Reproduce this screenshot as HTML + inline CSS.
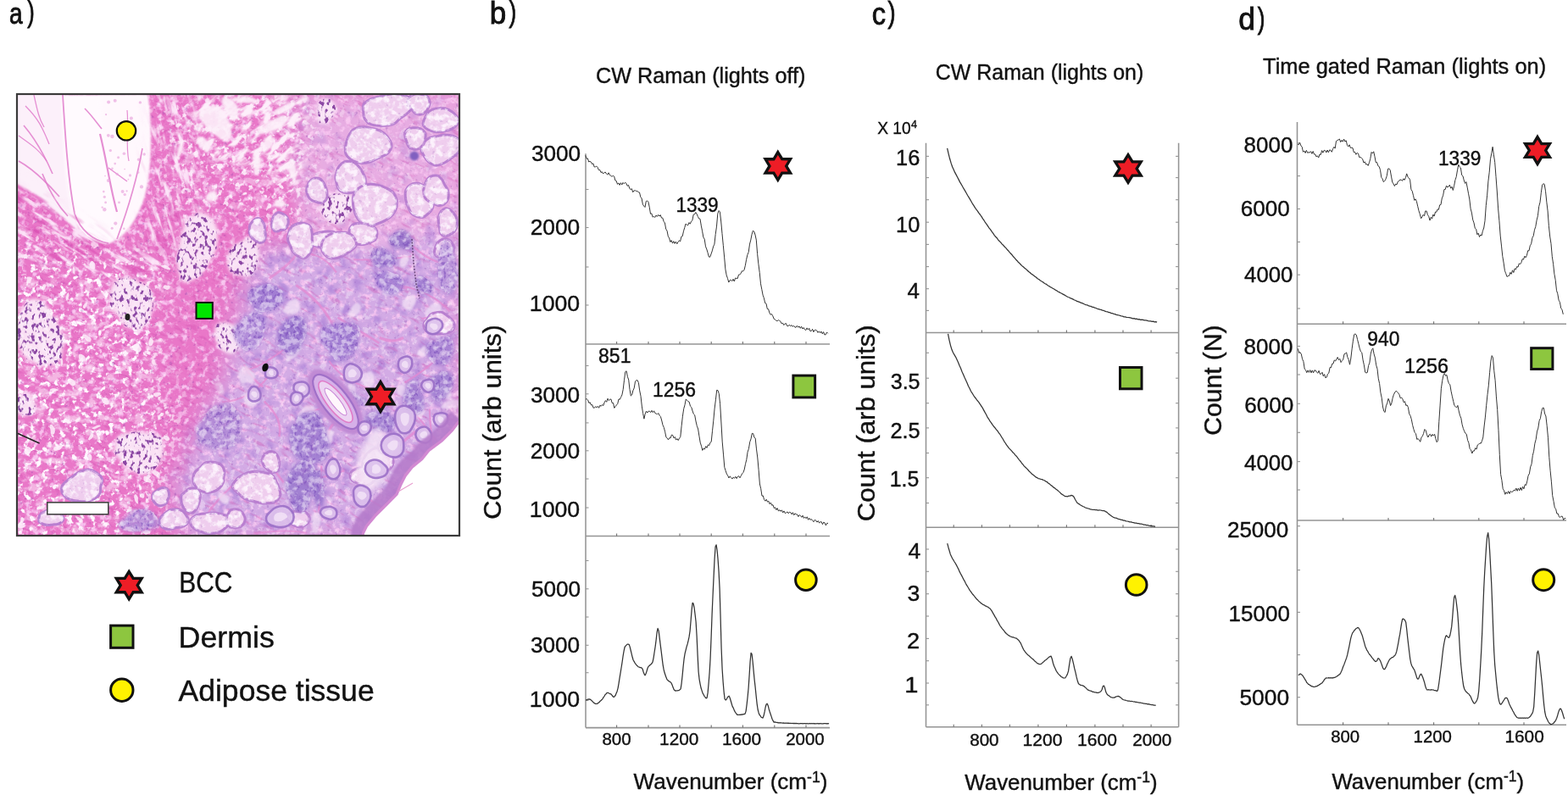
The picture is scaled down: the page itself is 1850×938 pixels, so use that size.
<!DOCTYPE html>
<html><head><meta charset="utf-8"><title>Raman figure</title>
<style>html,body{margin:0;padding:0;background:#fff;}svg{display:block;}text{stroke:#111;stroke-width:0.4px;}</style>
</head><body>
<svg width="1850" height="938" viewBox="0 0 1850 938" font-family="'Liberation Sans', Arial, sans-serif" fill="#111">
<rect width="1850" height="938" fill="#fff"/>
<defs>
<clipPath id="hc"><rect x="20.0" y="111.0" width="522.0" height="521.0"/></clipPath>
<filter id="b0_6" x="-40%" y="-40%" width="180%" height="180%"><feGaussianBlur stdDeviation="0.6"/></filter>
<filter id="b1" x="-40%" y="-40%" width="180%" height="180%"><feGaussianBlur stdDeviation="1"/></filter>
<filter id="b1_5" x="-40%" y="-40%" width="180%" height="180%"><feGaussianBlur stdDeviation="1.5"/></filter>
<filter id="b2" x="-40%" y="-40%" width="180%" height="180%"><feGaussianBlur stdDeviation="2"/></filter>
<filter id="b3" x="-40%" y="-40%" width="180%" height="180%"><feGaussianBlur stdDeviation="3"/></filter>
<filter id="b5" x="-40%" y="-40%" width="180%" height="180%"><feGaussianBlur stdDeviation="5"/></filter>
<filter id="b8" x="-40%" y="-40%" width="180%" height="180%"><feGaussianBlur stdDeviation="8"/></filter>
<filter id="b14" x="-40%" y="-40%" width="180%" height="180%"><feGaussianBlur stdDeviation="14"/></filter>
<filter id="tLight" x="0" y="0" width="100%" height="100%" color-interpolation-filters="sRGB"><feTurbulence type="fractalNoise" baseFrequency="0.13" numOctaves="3" seed="5"/><feColorMatrix type="matrix" values="0 0 0 0 0.980  0 0 0 0 0.784  0 0 0 0 0.949  4.5 0 0 0 -2.35"/><feGaussianBlur stdDeviation="0.5"/></filter>
<filter id="tWhite" x="0" y="0" width="100%" height="100%" color-interpolation-filters="sRGB"><feTurbulence type="fractalNoise" baseFrequency="0.14" numOctaves="3" seed="9"/><feColorMatrix type="matrix" values="0 0 0 0 1.000  0 0 0 0 0.973  0 0 0 0 1.000  7 0 0 0 -3.9"/><feGaussianBlur stdDeviation="0.5"/></filter>
<filter id="tDark" x="0" y="0" width="100%" height="100%" color-interpolation-filters="sRGB"><feTurbulence type="fractalNoise" baseFrequency="0.06 0.22" numOctaves="2" seed="13"/><feColorMatrix type="matrix" values="0 0 0 0 0.784  0 0 0 0 0.235  0 0 0 0 0.647  0 6 0 0 -3.55"/><feGaussianBlur stdDeviation="0.6"/></filter>
<filter id="tNuc" x="0" y="0" width="100%" height="100%" color-interpolation-filters="sRGB"><feTurbulence type="fractalNoise" baseFrequency="0.22" numOctaves="2" seed="21"/><feColorMatrix type="matrix" values="0 0 0 0 0.471  0 0 0 0 0.216  0 0 0 0 0.647  0 0 9 0 -6.1"/><feGaussianBlur stdDeviation="0.5"/></filter>
<filter id="tNucD" x="0" y="0" width="100%" height="100%" color-interpolation-filters="sRGB"><feTurbulence type="fractalNoise" baseFrequency="0.24 0.16" numOctaves="2" seed="31"/><feColorMatrix type="matrix" values="0 0 0 0 0.471  0 0 0 0 0.176  0 0 0 0 0.588  0 0 7 0 -3.75"/><feGaussianBlur stdDeviation="0.45"/></filter>
<filter id="tStreak" x="0" y="0" width="100%" height="100%" color-interpolation-filters="sRGB"><feTurbulence type="fractalNoise" baseFrequency="0.035 0.16" numOctaves="3" seed="57"/><feColorMatrix type="matrix" values="0 0 0 0 0.988  0 0 0 0 0.894  0 0 0 0 0.973  5.5 0 0 0 -2.9"/><feGaussianBlur stdDeviation="0.6"/></filter>
<filter id="tStreakD" x="0" y="0" width="100%" height="100%" color-interpolation-filters="sRGB"><feTurbulence type="fractalNoise" baseFrequency="0.03 0.14" numOctaves="2" seed="61"/><feColorMatrix type="matrix" values="0 0 0 0 0.843  0 0 0 0 0.275  0 0 0 0 0.686  0 5 0 0 -2.9"/><feGaussianBlur stdDeviation="0.6"/></filter>
<filter id="tWhite2" x="0" y="0" width="100%" height="100%" color-interpolation-filters="sRGB"><feTurbulence type="fractalNoise" baseFrequency="0.14" numOctaves="3" seed="71"/><feColorMatrix type="matrix" values="0 0 0 0 1.000  0 0 0 0 0.980  0 0 0 0 1.000  4 0 0 0 -1.75"/><feGaussianBlur stdDeviation="0.7"/></filter>
<filter id="tWS" x="0" y="0" width="100%" height="100%" color-interpolation-filters="sRGB"><feTurbulence type="fractalNoise" baseFrequency="0.05 0.13" numOctaves="3" seed="77"/><feColorMatrix type="matrix" values="0 0 0 0 0.992  0 0 0 0 0.933  0 0 0 0 0.980  5 0 0 0 -2.3"/><feGaussianBlur stdDeviation="0.6"/></filter>
<filter id="tNucN" x="0" y="0" width="100%" height="100%" color-interpolation-filters="sRGB"><feTurbulence type="fractalNoise" baseFrequency="0.3 0.22" numOctaves="2" seed="37"/><feColorMatrix type="matrix" values="0 0 0 0 0.471  0 0 0 0 0.294  0 0 0 0 0.725  0 0 6 0 -3.3"/><feGaussianBlur stdDeviation="0.45"/></filter>
<filter id="tWavy" x="0" y="0" width="100%" height="100%" color-interpolation-filters="sRGB"><feTurbulence type="fractalNoise" baseFrequency="0.07 0.1" numOctaves="4" seed="83"/><feColorMatrix type="matrix" values="0 0 0 0 0.988  0 0 0 0 0.910  0 0 0 0 0.973  5.5 0 0 0 -2.9"/><feGaussianBlur stdDeviation="0.5"/></filter>
<filter id="tLav" x="0" y="0" width="100%" height="100%" color-interpolation-filters="sRGB"><feTurbulence type="fractalNoise" baseFrequency="0.07" numOctaves="3" seed="41"/><feColorMatrix type="matrix" values="0 0 0 0 0.608  0 0 0 0 0.431  0 0 0 0 0.816  4 0 0 0 -2.1"/><feGaussianBlur stdDeviation="1.0"/></filter>
<mask id="mLav" maskUnits="userSpaceOnUse" x="0" y="0" width="600" height="700"><path d="M300,292 L370,282 L440,268 L545,248 L545,640 L215,640 L205,575 L235,500 L262,455 L275,390 Z" fill="#fff" filter="url(#b14)"/><path d="M340,110 L545,110 L545,260 L450,280 L360,290 Z" fill="#777" filter="url(#b14)"/></mask>
<mask id="mWS" maskUnits="userSpaceOnUse" x="0" y="0" width="600" height="700"><rect x="0" y="0" width="600" height="700" fill="#555"/><path d="M15,280 L200,300 L210,460 L170,640 L15,640 Z" fill="#fff" filter="url(#b14)"/><path d="M15,330 L70,330 L70,640 L15,640 Z" fill="#fff" filter="url(#b8)"/><path d="M190,110 L370,110 L360,260 L200,250 Z" fill="#ddd" filter="url(#b14)"/><path d="M190,330 L290,330 L290,460 L190,460 Z" fill="#222" filter="url(#b14)"/></mask>
</defs>
<filter id="soft" x="0" y="0" width="100%" height="100%"><feGaussianBlur stdDeviation="0.7"/></filter>
<g clip-path="url(#hc)"><g filter="url(#soft)">
<rect x="20.0" y="111.0" width="522.0" height="521.0" fill="#e977c8"/>
<g mask="url(#mLav)"><rect x="20.0" y="111.0" width="522.0" height="521.0" fill="#d3abe5"/></g>
<path d="M365,111 L545,111 L545,265 L470,292 L385,300 L350,265 L355,180 Z" fill="#f0c4ec" filter="url(#b8)" opacity="0.55"/>
<rect x="20.0" y="111.0" width="522.0" height="521.0" filter="url(#tLight)" opacity="0.9"/>
<g transform="rotate(28 280 370)"><rect x="-60" y="-40" width="700" height="800" filter="url(#tDark)" opacity="0.3"/></g>
<g mask="url(#mWS)"><rect x="20.0" y="111.0" width="522.0" height="521.0" filter="url(#tWhite)"/></g>
<g mask="url(#mLav)"><rect x="20.0" y="111.0" width="522.0" height="521.0" filter="url(#tLav)" opacity="0.5"/></g>
<rect x="20.0" y="111.0" width="522.0" height="521.0" filter="url(#tNuc)" opacity="0.22"/>
<path d="M18,108 L76,108 C76,160 78,205 84,240 C88,258 92,268 96,276 C80,262 62,246 46,232 C36,226 26,220 18,216 Z" fill="#fcf0fa" filter="url(#b1)"/>
<path d="M72,112 L174,112 C179,150 179,200 170,232 C162,258 148,278 130,287 C110,290 92,276 84,250 C77,220 74,170 72,112 Z" fill="#fffafe" filter="url(#b1)"/>
<path d="M118,112 L174,112 C179,150 179,200 170,232 C162,258 148,278 136,285 C135,250 132,200 122,160 Z" fill="#fff8fd" opacity="0.85" filter="url(#b2)"/>
<path d="M118,158 C126,190 130,222 138,250" fill="none" stroke="#e07ccb" stroke-width="2.2" opacity="0.85"/>
<path d="M74,112 C77,160 80,210 88,252 C95,272 110,284 128,287" fill="none" stroke="#e07ccb" stroke-width="1.8" opacity="0.85"/>
<path d="M28,148 C40,162 52,182 62,205" fill="none" stroke="#e07ccb" stroke-width="1.6" opacity="0.85"/>
<path d="M22,190 C40,200 55,215 70,232" fill="none" stroke="#e07ccb" stroke-width="1.8" opacity="0.85"/>
<path d="M30,125 C45,140 50,150 58,170" fill="none" stroke="#e07ccb" stroke-width="1.3" opacity="0.85"/>
<path d="M50,205 C58,225 66,240 80,255" fill="none" stroke="#e07ccb" stroke-width="1.6" opacity="0.85"/>
<path d="M100,128 C108,136 112,142 120,152" fill="none" stroke="#e07ccb" stroke-width="1.6" opacity="0.85"/>
<path d="M168,175 C162,210 152,244 138,282" fill="none" stroke="#e07ccb" stroke-width="1.6" opacity="0.85"/>
<path d="M128,198 L150,214" fill="none" stroke="#e07ccb" stroke-width="1.4" opacity="0.85"/>
<path d="M40,112 C44,130 46,140 52,150" fill="none" stroke="#e07ccb" stroke-width="1.3" opacity="0.85"/>
<path d="M150,130 C152,150 148,170 152,190" fill="none" stroke="#e07ccb" stroke-width="1.2" opacity="0.85"/>
<path d="M22,160 C35,170 45,175 55,190" fill="none" stroke="#e07ccb" stroke-width="1.2" opacity="0.85"/>
<circle cx="132.4" cy="198.9" r="1.3" fill="#e9a8de" opacity="0.7"/>
<circle cx="151.4" cy="211.6" r="0.9" fill="#e9a8de" opacity="0.7"/>
<circle cx="120.7" cy="244.6" r="1.2" fill="#e9a8de" opacity="0.7"/>
<circle cx="132.2" cy="269.3" r="1.5" fill="#e9a8de" opacity="0.7"/>
<circle cx="163.5" cy="188.3" r="1.7" fill="#e9a8de" opacity="0.7"/>
<circle cx="127.8" cy="213.0" r="2.0" fill="#e9a8de" opacity="0.7"/>
<circle cx="147.2" cy="229.6" r="1.7" fill="#e9a8de" opacity="0.7"/>
<circle cx="123.3" cy="232.3" r="1.6" fill="#e9a8de" opacity="0.7"/>
<circle cx="135.7" cy="118.8" r="2.0" fill="#e9a8de" opacity="0.7"/>
<circle cx="144.6" cy="226.1" r="2.0" fill="#e9a8de" opacity="0.7"/>
<circle cx="140.5" cy="238.9" r="1.4" fill="#e9a8de" opacity="0.7"/>
<circle cx="125.1" cy="135.2" r="1.1" fill="#e9a8de" opacity="0.7"/>
<circle cx="170.2" cy="182.0" r="1.7" fill="#e9a8de" opacity="0.7"/>
<circle cx="135.7" cy="193.1" r="1.3" fill="#e9a8de" opacity="0.7"/>
<circle cx="138.2" cy="205.3" r="1.6" fill="#e9a8de" opacity="0.7"/>
<circle cx="167.0" cy="220.4" r="2.1" fill="#e9a8de" opacity="0.7"/>
<circle cx="154.9" cy="139.4" r="2.0" fill="#e9a8de" opacity="0.7"/>
<circle cx="149.6" cy="225.4" r="1.1" fill="#e9a8de" opacity="0.7"/>
<circle cx="163.2" cy="203.5" r="1.2" fill="#e9a8de" opacity="0.7"/>
<circle cx="123.3" cy="247.2" r="2.2" fill="#e9a8de" opacity="0.7"/>
<circle cx="124.6" cy="238.9" r="1.4" fill="#e9a8de" opacity="0.7"/>
<circle cx="127.8" cy="159.8" r="1.9" fill="#e9a8de" opacity="0.7"/>
<circle cx="165.4" cy="120.9" r="1.7" fill="#e9a8de" opacity="0.7"/>
<circle cx="122.3" cy="226.1" r="1.3" fill="#e9a8de" opacity="0.7"/>
<circle cx="146.3" cy="269.8" r="1.2" fill="#e9a8de" opacity="0.7"/>
<circle cx="124.0" cy="207.6" r="0.8" fill="#e9a8de" opacity="0.7"/>
<circle cx="130.3" cy="177.6" r="1.7" fill="#e9a8de" opacity="0.7"/>
<circle cx="128.1" cy="120.6" r="2.0" fill="#e9a8de" opacity="0.7"/>
<circle cx="136.3" cy="263.6" r="2.1" fill="#e9a8de" opacity="0.7"/>
<circle cx="139.6" cy="185.8" r="1.5" fill="#e9a8de" opacity="0.7"/>
<circle cx="153.5" cy="206.9" r="1.6" fill="#e9a8de" opacity="0.7"/>
<circle cx="146.4" cy="181.3" r="1.8" fill="#e9a8de" opacity="0.7"/>
<circle cx="132.4" cy="161.0" r="2.2" fill="#e9a8de" opacity="0.7"/>
<circle cx="147.1" cy="199.6" r="0.8" fill="#e9a8de" opacity="0.7"/>
<mask id="mF1" maskUnits="userSpaceOnUse" x="0" y="0" width="600" height="700"><path d="M15,215 L80,250 L140,292 L200,300 L205,330 L120,330 L15,300 Z" fill="#fff" filter="url(#b8)"/></mask>
<g mask="url(#mF1)"><g transform="rotate(32 100 270)"><rect x="-20" y="150" width="260" height="240" filter="url(#tStreak)"/><rect x="-20" y="150" width="260" height="240" filter="url(#tStreakD)" opacity="0.6"/></g></g>
<mask id="mF2" maskUnits="userSpaceOnUse" x="0" y="0" width="600" height="700"><path d="M176,112 L230,112 L235,250 L205,300 L160,300 L175,240 Z" fill="#fff" filter="url(#b8)"/></mask>
<g mask="url(#mF2)"><g transform="rotate(75 200 200)"><rect x="80" y="80" width="260" height="240" filter="url(#tStreak)"/><rect x="80" y="80" width="260" height="240" filter="url(#tStreakD)" opacity="0.6"/></g></g>
<mask id="mF3" maskUnits="userSpaceOnUse" x="0" y="0" width="600" height="700"><path d="M15,320 L190,320 L200,470 L150,640 L15,640 Z" fill="#bbb" filter="url(#b14)"/><path d="M190,110 L370,110 L350,250 L200,260 Z" fill="#999" filter="url(#b14)"/></mask>
<g mask="url(#mF3)"><rect x="0" y="100" width="560" height="560" filter="url(#tWavy)" opacity="0.75"/></g>
<mask id="mTM" maskUnits="userSpaceOnUse" x="0" y="0" width="600" height="700"><path d="M226,112 L365,112 L362,170 L352,222 L318,214 L290,196 L250,190 L232,160 Z" fill="#fff" filter="url(#b5)"/></mask>
<g mask="url(#mTM)"><g transform="rotate(-35 295 165)"><rect x="180" y="40" width="240" height="260" filter="url(#tWS)"/></g></g>
<path d="M266.6,136.9 C269.7,141.4 271.8,148.0 272.7,152.4 C273.6,156.7 273.0,160.4 271.9,162.8 C270.8,165.2 268.6,167.1 265.9,166.8 C263.2,166.5 259.2,163.2 255.7,160.8 C252.2,158.3 248.4,156.1 244.9,152.1 C241.4,148.0 235.4,140.3 234.7,136.5 C233.9,132.8 238.4,131.2 240.3,129.5 C242.1,127.8 243.4,127.0 245.7,126.3 C248.0,125.6 250.6,123.3 254.1,125.1 C257.6,126.9 263.5,132.4 266.6,136.9Z" fill="#fdf0fa" opacity="0.9" filter="url(#b1)"/>
<path d="M279.1,123.0 C280.4,125.2 280.2,128.3 280.5,130.6 C280.8,132.8 281.1,134.7 280.8,136.6 C280.4,138.6 280.0,141.7 278.4,142.2 C276.9,142.7 273.3,141.5 271.3,139.7 C269.4,138.0 268.1,134.1 266.7,131.7 C265.4,129.3 264.0,127.6 263.2,125.3 C262.4,123.1 261.6,120.1 262.0,118.2 C262.4,116.3 263.8,113.9 265.5,113.8 C267.3,113.8 270.3,116.3 272.6,117.8 C274.8,119.3 277.8,120.9 279.1,123.0Z" fill="#fdf0fa" opacity="0.9" filter="url(#b1)"/>
<path d="M338.9,138.2 C339.6,139.5 339.4,141.8 338.0,144.0 C336.5,146.1 333.3,149.2 330.4,151.1 C327.6,153.0 323.7,154.3 320.7,155.3 C317.8,156.4 315.5,157.0 312.8,157.4 C310.1,157.9 305.9,158.9 304.6,158.1 C303.2,157.2 303.0,154.5 304.7,152.4 C306.4,150.3 311.8,147.3 314.9,145.4 C318.0,143.4 320.2,142.2 323.3,140.6 C326.4,139.1 331.0,136.5 333.6,136.1 C336.2,135.7 338.2,136.9 338.9,138.2Z" fill="#fdf0fa" opacity="0.9" filter="url(#b1)"/>
<path d="M308.2,192.5 C308.0,195.0 307.1,198.2 306.3,200.5 C305.5,202.8 304.4,205.6 303.4,206.4 C302.4,207.2 300.9,206.9 300.2,205.4 C299.6,204.0 299.9,199.9 299.6,197.6 C299.3,195.3 298.5,194.4 298.3,191.6 C298.2,188.8 298.0,183.4 298.7,180.9 C299.4,178.5 301.5,176.8 302.6,176.9 C303.6,177.0 304.4,180.2 305.1,181.6 C305.9,183.0 306.6,183.3 307.1,185.2 C307.7,187.0 308.3,189.9 308.2,192.5Z" fill="#fdf0fa" opacity="0.9" filter="url(#b1)"/>
<path d="M349.2,200.0 C349.5,202.3 350.2,206.2 349.8,208.4 C349.4,210.6 347.8,213.0 346.8,213.3 C345.8,213.6 344.5,211.4 343.6,210.2 C342.8,208.9 342.3,207.5 341.7,205.8 C341.1,204.1 340.3,202.3 340.1,200.0 C339.9,197.7 340.0,194.2 340.6,192.3 C341.1,190.3 342.4,188.9 343.4,188.1 C344.4,187.4 345.9,186.8 346.6,187.8 C347.4,188.9 347.7,192.5 348.2,194.5 C348.6,196.5 349.0,197.7 349.2,200.0Z" fill="#fdf0fa" opacity="0.9" filter="url(#b1)"/>
<path d="M214.9,179.1 C214.2,181.1 212.9,183.2 211.9,185.2 C210.8,187.1 209.3,190.1 208.5,190.8 C207.6,191.5 206.8,190.8 206.8,189.4 C206.7,188.0 207.8,184.6 208.3,182.5 C208.8,180.5 209.1,179.4 209.8,177.2 C210.4,175.0 211.2,171.1 212.2,169.1 C213.1,167.2 214.7,165.7 215.4,165.6 C216.1,165.4 216.4,166.9 216.5,168.2 C216.6,169.4 216.4,171.1 216.1,172.9 C215.8,174.8 215.6,177.0 214.9,179.1Z" fill="#fdf0fa" opacity="0.9" filter="url(#b1)"/>
<path d="M256.9,232.0 C257.0,233.0 257.6,234.3 256.9,235.1 C256.2,235.9 254.1,236.5 252.5,236.9 C250.9,237.2 248.9,237.5 247.3,237.2 C245.7,236.9 243.6,236.1 242.9,235.2 C242.2,234.4 242.9,233.0 243.1,232.0 C243.3,231.0 243.5,230.2 244.2,229.4 C244.9,228.5 245.9,227.4 247.3,226.9 C248.8,226.4 251.6,225.8 253.0,226.2 C254.5,226.6 255.5,228.2 256.2,229.2 C256.8,230.2 256.8,231.0 256.9,232.0Z" fill="#fdf0fa" opacity="0.9" filter="url(#b1)"/>
<path d="M348.2,122.3 C348.4,123.4 347.0,125.2 345.8,126.6 C344.6,128.0 342.9,129.5 341.1,130.6 C339.2,131.6 337.0,132.2 334.9,132.9 C332.7,133.6 330.3,134.7 328.3,134.9 C326.2,135.1 323.1,135.2 322.5,134.3 C322.0,133.4 323.6,131.0 325.2,129.6 C326.7,128.1 329.7,126.9 331.7,125.8 C333.7,124.7 335.0,123.7 337.2,122.7 C339.4,121.7 343.2,119.9 345.1,119.9 C346.9,119.8 348.1,121.2 348.2,122.3Z" fill="#fdf0fa" opacity="0.9" filter="url(#b1)"/>
<path d="M302.0,118.0 C302.3,118.8 302.8,120.1 301.2,120.7 C299.6,121.4 294.9,121.7 292.2,121.7 C289.5,121.7 287.4,120.9 285.0,120.6 C282.6,120.4 280.0,120.6 277.8,120.1 C275.6,119.7 272.2,118.8 271.8,118.0 C271.4,117.2 273.3,115.9 275.3,115.4 C277.4,114.8 281.5,114.8 284.2,114.7 C287.0,114.5 289.4,114.4 291.9,114.6 C294.4,114.7 297.5,115.1 299.2,115.7 C300.9,116.2 301.7,117.2 302.0,118.0Z" fill="#fdf0fa" opacity="0.9" filter="url(#b1)"/>
<path d="M320.8,172.8 C319.5,174.8 317.5,176.2 316.0,177.5 C314.5,178.7 312.9,180.1 311.8,180.3 C310.6,180.6 309.5,180.0 309.1,179.0 C308.6,177.9 308.7,176.0 309.0,174.0 C309.4,172.1 309.8,169.3 311.0,167.1 C312.1,164.9 314.6,161.9 316.0,161.0 C317.4,160.0 318.5,161.3 319.5,161.5 C320.5,161.7 321.4,161.4 322.1,162.1 C322.8,162.7 324.0,163.7 323.8,165.5 C323.6,167.3 322.1,170.8 320.8,172.8Z" fill="#fdf0fa" opacity="0.9" filter="url(#b1)"/>
<path d="M245.0,167.1 C246.0,168.8 246.9,170.9 247.3,172.7 C247.6,174.5 247.6,176.8 246.9,178.0 C246.3,179.1 244.7,180.2 243.4,179.8 C242.1,179.4 240.4,176.7 239.1,175.5 C237.8,174.3 236.8,174.0 235.5,172.6 C234.3,171.1 232.0,168.6 231.6,166.9 C231.2,165.1 232.3,163.1 233.2,162.2 C234.1,161.3 235.8,161.5 237.1,161.6 C238.4,161.7 239.9,161.8 241.2,162.7 C242.5,163.7 244.0,165.4 245.0,167.1Z" fill="#fdf0fa" opacity="0.9" filter="url(#b1)"/>
<path d="M337.7,240.0 C337.9,240.7 337.3,241.7 336.5,242.4 C335.6,243.0 334.2,243.8 332.7,244.1 C331.1,244.4 328.7,244.4 327.3,244.1 C325.9,243.8 324.7,242.8 324.2,242.1 C323.6,241.4 324.0,240.7 323.9,240.0 C323.8,239.3 323.1,238.5 323.6,237.7 C324.1,236.9 325.4,235.4 326.9,235.2 C328.3,234.9 331.0,235.8 332.4,236.2 C333.9,236.7 334.5,237.4 335.3,238.1 C336.2,238.7 337.5,239.3 337.7,240.0Z" fill="#fdf0fa" opacity="0.9" filter="url(#b1)"/>
<path d="M79.1,354.8 C78.7,355.0 77.9,353.9 77.8,352.8 C77.7,351.8 78.0,349.8 78.3,348.7 C78.6,347.6 79.0,346.9 79.4,346.3 C79.9,345.8 80.6,344.9 80.9,345.4 C81.3,345.8 81.6,347.8 81.5,348.9 C81.4,349.9 80.7,350.6 80.2,351.6 C79.8,352.6 79.5,354.6 79.1,354.8Z" fill="#fdeefa" opacity="0.85"/>
<path d="M88.0,323.6 C87.7,323.8 86.8,322.9 86.3,322.0 C85.9,321.2 85.4,319.5 85.4,318.6 C85.3,317.6 85.6,317.0 85.9,316.3 C86.2,315.6 86.6,314.3 87.0,314.5 C87.4,314.8 88.2,316.8 88.5,317.9 C88.7,319.0 88.6,320.0 88.5,320.9 C88.4,321.9 88.4,323.5 88.0,323.6Z" fill="#fdeefa" opacity="0.85"/>
<path d="M36.7,330.9 C36.3,331.9 36.5,333.4 35.7,333.9 C34.8,334.3 32.6,334.2 31.9,333.5 C31.2,332.9 31.5,331.1 31.5,330.1 C31.4,329.0 31.2,327.7 31.8,327.1 C32.4,326.5 33.9,326.4 35.0,326.5 C36.0,326.7 37.8,327.3 38.1,328.0 C38.4,328.7 37.1,329.9 36.7,330.9Z" fill="#fdeefa" opacity="0.85"/>
<path d="M63.5,512.2 C62.7,512.7 61.1,513.3 60.4,512.4 C59.7,511.5 59.7,508.5 59.4,506.8 C59.1,505.1 58.3,503.1 58.6,502.1 C58.9,501.1 60.3,500.4 61.2,500.9 C62.1,501.3 63.4,503.4 64.1,504.9 C64.7,506.4 65.0,508.4 64.9,509.6 C64.8,510.8 64.2,511.8 63.5,512.2Z" fill="#fdeefa" opacity="0.85"/>
<path d="M201.2,318.0 C200.9,318.4 198.9,318.1 197.7,317.9 C196.5,317.7 195.3,317.3 194.0,316.6 C192.6,315.9 189.7,314.3 189.5,313.7 C189.3,313.1 191.6,313.2 192.7,313.0 C193.7,312.9 194.5,312.4 195.6,312.8 C196.7,313.2 198.4,314.4 199.3,315.3 C200.3,316.2 201.4,317.6 201.2,318.0Z" fill="#fdeefa" opacity="0.85"/>
<path d="M41.7,406.7 C41.2,406.3 40.7,405.6 40.7,404.5 C40.7,403.5 41.1,401.8 41.6,400.3 C42.0,398.9 42.9,396.2 43.5,395.7 C44.0,395.3 44.7,396.6 44.9,397.6 C45.1,398.5 44.7,399.9 44.5,401.3 C44.3,402.8 44.3,405.6 43.8,406.4 C43.3,407.3 42.2,407.0 41.7,406.7Z" fill="#fdeefa" opacity="0.85"/>
<path d="M140.6,423.8 C140.7,424.2 139.4,424.8 138.3,424.9 C137.3,425.0 135.3,424.8 134.4,424.4 C133.5,424.1 133.3,423.4 132.9,422.9 C132.4,422.4 131.4,421.6 131.7,421.3 C132.1,421.0 134.0,420.8 135.0,420.9 C136.1,421.1 136.9,421.8 137.9,422.3 C138.8,422.8 140.5,423.4 140.6,423.8Z" fill="#fdeefa" opacity="0.85"/>
<path d="M57.8,527.5 C57.3,527.2 56.9,526.7 56.7,526.0 C56.5,525.2 56.2,523.9 56.5,523.0 C56.9,522.1 57.9,521.0 58.6,520.8 C59.2,520.6 60.1,521.1 60.5,521.7 C60.8,522.3 60.8,523.3 60.7,524.4 C60.7,525.4 60.5,527.3 60.0,527.8 C59.5,528.4 58.4,527.8 57.8,527.5Z" fill="#fdeefa" opacity="0.85"/>
<path d="M106.8,402.9 C106.1,403.5 104.3,403.5 103.2,403.0 C102.1,402.5 101.3,401.2 100.3,400.1 C99.3,398.9 97.3,397.1 97.3,396.2 C97.3,395.2 99.1,394.4 100.2,394.5 C101.3,394.5 102.6,395.6 103.8,396.5 C105.0,397.3 107.0,398.3 107.5,399.4 C108.0,400.5 107.5,402.3 106.8,402.9Z" fill="#fdeefa" opacity="0.85"/>
<path d="M127.4,477.3 C126.6,477.7 125.4,477.7 124.3,477.2 C123.3,476.7 121.8,475.6 121.0,474.3 C120.1,473.1 119.0,470.5 119.3,469.8 C119.6,469.0 121.6,469.7 122.8,469.7 C124.0,469.8 125.3,469.1 126.3,469.9 C127.3,470.7 128.6,473.3 128.7,474.5 C128.9,475.7 128.1,476.8 127.4,477.3Z" fill="#fdeefa" opacity="0.85"/>
<path d="M199.7,340.6 C199.2,341.4 198.0,341.8 197.2,341.9 C196.3,342.0 195.4,341.6 194.6,341.1 C193.8,340.6 192.5,339.5 192.4,338.7 C192.4,337.9 193.5,336.6 194.3,336.2 C195.1,335.9 196.0,336.6 197.0,336.8 C198.0,337.0 200.0,336.7 200.5,337.4 C200.9,338.0 200.3,339.9 199.7,340.6Z" fill="#fdeefa" opacity="0.85"/>
<path d="M108.1,316.9 C107.1,316.5 106.2,316.1 105.8,315.1 C105.4,314.1 105.3,312.2 105.8,311.0 C106.2,309.8 107.6,308.0 108.5,307.8 C109.4,307.6 110.4,309.0 111.0,309.8 C111.7,310.6 112.3,311.4 112.4,312.7 C112.5,314.0 112.3,316.8 111.6,317.5 C110.9,318.2 109.1,317.3 108.1,316.9Z" fill="#fdeefa" opacity="0.85"/>
<path d="M176.6,408.2 C175.9,408.0 175.2,406.7 175.1,405.6 C175.0,404.6 175.4,403.4 175.8,402.1 C176.2,400.9 176.9,398.4 177.6,398.1 C178.3,397.7 179.4,399.2 179.9,400.1 C180.5,400.9 181.0,402.0 181.0,403.2 C180.9,404.4 180.2,406.4 179.5,407.3 C178.8,408.1 177.4,408.5 176.6,408.2Z" fill="#fdeefa" opacity="0.85"/>
<path d="M99.6,583.5 C99.1,583.3 99.3,580.6 99.7,579.2 C100.1,577.8 101.0,576.3 101.8,575.2 C102.7,574.0 103.8,572.6 104.7,572.2 C105.6,571.8 107.0,571.9 107.2,572.7 C107.5,573.6 106.6,576.1 106.0,577.4 C105.3,578.6 104.3,579.2 103.2,580.2 C102.2,581.2 100.2,583.6 99.6,583.5Z" fill="#fdeefa" opacity="0.85"/>
<path d="M28.6,534.1 C28.3,533.2 29.5,531.9 29.9,530.7 C30.4,529.5 30.5,527.5 31.4,527.0 C32.3,526.6 34.4,527.4 35.3,528.0 C36.1,528.6 36.5,529.8 36.5,530.9 C36.6,531.9 36.5,533.3 35.8,534.3 C35.0,535.2 33.1,536.5 31.9,536.5 C30.7,536.5 28.9,535.1 28.6,534.1Z" fill="#fdeefa" opacity="0.85"/>
<path d="M73.2,431.7 C72.8,431.9 71.9,431.7 71.6,430.9 C71.4,430.1 71.6,428.0 71.5,426.7 C71.5,425.5 71.3,424.0 71.5,423.3 C71.7,422.6 72.4,422.1 72.8,422.6 C73.3,423.0 74.0,424.8 74.2,425.9 C74.4,427.1 74.1,428.7 74.0,429.6 C73.8,430.6 73.6,431.5 73.2,431.7Z" fill="#fdeefa" opacity="0.85"/>
<path d="M53.5,339.3 C53.1,340.3 52.8,341.8 52.2,342.2 C51.6,342.6 50.3,342.3 50.0,341.8 C49.6,341.3 50.1,340.0 50.1,339.1 C50.2,338.1 50.0,336.8 50.4,336.1 C50.9,335.5 52.2,335.1 52.8,335.2 C53.5,335.2 54.4,335.9 54.5,336.6 C54.6,337.2 53.9,338.4 53.5,339.3Z" fill="#fdeefa" opacity="0.85"/>
<path d="M67.0,434.6 C66.6,434.8 65.7,433.9 65.3,432.8 C64.8,431.7 64.3,429.3 64.3,428.1 C64.2,426.8 64.6,426.0 64.9,425.3 C65.2,424.5 65.5,423.1 66.0,423.4 C66.5,423.8 67.5,425.9 67.8,427.3 C68.0,428.6 67.6,430.1 67.5,431.4 C67.3,432.6 67.3,434.4 67.0,434.6Z" fill="#fdeefa" opacity="0.85"/>
<path d="M169.1,587.8 C168.6,588.0 167.8,587.5 167.1,587.2 C166.3,586.8 164.8,586.3 164.7,585.7 C164.5,585.0 165.5,584.0 166.0,583.4 C166.5,582.8 167.0,582.2 167.6,582.2 C168.3,582.2 169.4,582.7 169.9,583.3 C170.3,584.0 170.5,585.2 170.3,586.0 C170.2,586.7 169.7,587.6 169.1,587.8Z" fill="#fdeefa" opacity="0.85"/>
<path d="M181.1,617.6 C180.8,618.0 180.2,618.1 179.6,618.1 C178.9,618.0 177.7,617.8 177.3,617.3 C176.9,616.8 177.1,615.7 177.3,615.2 C177.5,614.7 177.9,614.6 178.4,614.3 C179.0,614.1 180.0,613.4 180.5,613.7 C181.0,614.0 181.3,615.4 181.4,616.0 C181.5,616.7 181.4,617.3 181.1,617.6Z" fill="#fdeefa" opacity="0.85"/>
<path d="M69.2,460.1 C69.3,460.6 67.0,461.3 66.0,461.6 C64.9,461.9 63.9,461.9 62.7,461.8 C61.5,461.7 59.5,461.5 58.9,461.1 C58.4,460.6 59.0,459.6 59.6,459.1 C60.2,458.5 61.6,458.0 62.6,457.9 C63.6,457.9 64.5,458.4 65.7,458.8 C66.8,459.1 69.2,459.6 69.2,460.1Z" fill="#fdeefa" opacity="0.85"/>
<path d="M94.5,424.9 C93.7,424.3 93.1,423.4 92.9,422.3 C92.7,421.2 92.6,418.8 93.3,418.2 C94.0,417.5 96.2,418.1 97.2,418.4 C98.2,418.7 98.8,419.2 99.4,420.1 C100.0,420.9 101.2,422.5 100.9,423.4 C100.5,424.4 98.6,425.4 97.6,425.7 C96.5,425.9 95.3,425.4 94.5,424.9Z" fill="#fdeefa" opacity="0.85"/>
<path d="M108.4,505.6 C108.4,505.1 110.3,504.2 111.2,503.6 C112.2,503.0 113.2,502.2 114.3,501.9 C115.4,501.6 117.2,501.4 117.9,501.6 C118.7,501.8 119.1,502.6 118.6,503.1 C118.1,503.6 116.2,504.2 114.9,504.7 C113.7,505.3 112.2,506.0 111.1,506.2 C110.0,506.3 108.3,506.0 108.4,505.6Z" fill="#fdeefa" opacity="0.85"/>
<path d="M162.8,594.4 C162.3,594.8 160.7,593.4 160.0,592.3 C159.3,591.3 158.8,589.6 158.5,588.3 C158.2,587.0 158.0,585.3 158.3,584.4 C158.6,583.6 159.6,582.9 160.3,583.3 C161.1,583.7 162.4,585.5 162.8,586.7 C163.2,587.8 162.8,589.0 162.8,590.2 C162.7,591.5 163.2,594.1 162.8,594.4Z" fill="#fdeefa" opacity="0.85"/>
<path d="M42.3,510.7 C42.0,511.0 41.3,511.1 40.7,511.0 C40.1,511.0 39.2,510.9 38.8,510.5 C38.4,510.1 38.3,509.1 38.4,508.7 C38.5,508.2 39.0,508.0 39.4,507.8 C39.9,507.6 40.7,507.3 41.1,507.5 C41.6,507.7 41.9,508.6 42.1,509.2 C42.3,509.7 42.5,510.4 42.3,510.7Z" fill="#fdeefa" opacity="0.85"/>
<path d="M52.7,413.2 C52.5,413.5 52.0,413.6 51.5,413.7 C51.0,413.7 50.4,413.5 49.9,413.2 C49.3,412.9 48.2,412.1 48.1,411.8 C48.1,411.4 49.2,411.2 49.7,411.0 C50.2,410.8 50.5,410.6 51.1,410.7 C51.7,410.8 52.9,411.3 53.1,411.7 C53.4,412.1 53.0,412.8 52.7,413.2Z" fill="#fdeefa" opacity="0.85"/>
<path d="M39.4,421.8 C38.4,421.4 37.2,420.8 36.9,420.2 C36.5,419.7 36.8,419.0 37.2,418.5 C37.5,417.9 38.2,417.0 39.0,417.1 C39.9,417.2 41.5,418.2 42.2,418.8 C42.8,419.4 42.7,420.0 42.8,420.6 C42.9,421.3 43.4,422.5 42.8,422.7 C42.2,422.9 40.4,422.2 39.4,421.8Z" fill="#fdeefa" opacity="0.85"/>
<path d="M50.8,384.2 C50.6,384.9 50.7,386.3 50.0,386.4 C49.3,386.6 47.5,385.8 46.8,385.2 C46.1,384.7 45.9,383.8 45.7,383.1 C45.5,382.4 45.2,381.3 45.7,380.9 C46.2,380.4 47.8,380.2 48.7,380.5 C49.5,380.7 50.5,381.7 50.9,382.4 C51.3,383.0 50.9,383.5 50.8,384.2Z" fill="#fdeefa" opacity="0.85"/>
<path d="M177.4,628.9 C177.1,629.5 175.5,629.6 174.5,629.9 C173.5,630.1 172.2,630.9 171.2,630.6 C170.3,630.2 169.1,628.7 169.0,628.0 C168.8,627.2 169.8,626.4 170.5,625.9 C171.1,625.4 172.0,624.8 173.0,624.8 C173.9,624.9 175.3,625.6 176.1,626.3 C176.8,627.0 177.6,628.3 177.4,628.9Z" fill="#fdeefa" opacity="0.85"/>
<path d="M42.9,414.6 C42.4,415.3 41.4,415.7 40.5,416.0 C39.5,416.4 37.7,417.1 37.2,416.6 C36.7,416.1 37.0,414.1 37.3,413.1 C37.5,412.1 38.0,411.5 38.8,410.7 C39.5,410.0 40.8,408.7 41.6,408.9 C42.3,409.0 43.2,410.5 43.4,411.5 C43.6,412.4 43.4,413.8 42.9,414.6Z" fill="#fdeefa" opacity="0.85"/>
<path d="M25.6,617.5 C25.1,617.6 24.0,617.7 23.8,616.9 C23.6,616.1 24.1,613.8 24.4,612.7 C24.7,611.5 25.3,610.3 25.8,610.0 C26.3,609.7 26.7,610.3 27.2,610.8 C27.7,611.3 28.6,612.1 28.6,613.0 C28.6,613.9 27.6,615.6 27.1,616.3 C26.6,617.1 26.2,617.4 25.6,617.5Z" fill="#fdeefa" opacity="0.85"/>
<path d="M22.2,480.8 C21.6,480.4 22.9,476.9 23.3,475.3 C23.8,473.8 24.0,472.7 24.9,471.5 C25.9,470.3 27.9,468.1 29.0,467.9 C30.0,467.8 31.1,469.5 31.3,470.7 C31.5,472.0 30.9,474.0 30.2,475.2 C29.4,476.4 28.3,477.1 27.0,478.1 C25.6,479.0 22.8,481.3 22.2,480.8Z" fill="#fdeefa" opacity="0.85"/>
<path d="M68.3,423.1 C67.3,423.0 66.2,422.9 65.6,422.4 C65.1,421.9 64.5,420.6 64.8,419.9 C65.0,419.3 66.4,418.7 67.3,418.6 C68.2,418.4 69.3,418.6 70.0,419.0 C70.8,419.4 71.7,420.0 72.0,420.8 C72.2,421.5 72.2,423.0 71.6,423.4 C71.0,423.8 69.3,423.3 68.3,423.1Z" fill="#fdeefa" opacity="0.85"/>
<path d="M157.4,408.9 C157.4,408.0 158.2,406.6 158.8,406.2 C159.4,405.7 160.2,406.0 161.0,406.1 C161.9,406.1 163.7,405.9 164.1,406.6 C164.5,407.3 163.9,409.4 163.5,410.3 C163.0,411.1 162.2,411.6 161.4,411.9 C160.6,412.2 159.5,412.4 158.9,411.9 C158.2,411.4 157.4,409.9 157.4,408.9Z" fill="#fdeefa" opacity="0.85"/>
<path d="M178.0,569.7 C177.3,570.1 175.6,569.4 174.3,569.1 C173.1,568.8 171.4,568.7 170.5,567.8 C169.7,567.0 169.2,565.1 169.3,564.0 C169.4,563.0 170.1,561.7 171.0,561.6 C171.9,561.5 173.5,562.7 174.7,563.5 C176.0,564.2 177.7,565.2 178.3,566.2 C178.8,567.2 178.7,569.2 178.0,569.7Z" fill="#fdeefa" opacity="0.85"/>
<path d="M115.2,418.6 C114.8,418.8 114.5,419.1 114.0,419.0 C113.5,418.9 112.4,418.6 112.2,418.1 C112.0,417.7 112.5,416.9 112.7,416.5 C112.9,416.1 113.1,415.7 113.5,415.6 C113.9,415.5 114.6,415.6 115.1,415.9 C115.5,416.3 116.3,417.2 116.3,417.6 C116.3,418.1 115.6,418.4 115.2,418.6Z" fill="#fdeefa" opacity="0.85"/>
<path d="M63.2,529.5 C63.2,528.8 63.5,528.0 64.5,527.3 C65.4,526.7 67.3,526.0 68.9,525.8 C70.5,525.6 73.3,525.5 73.9,526.0 C74.5,526.5 73.2,527.8 72.5,528.6 C71.9,529.4 71.4,530.4 70.0,531.0 C68.7,531.5 65.5,532.0 64.4,531.7 C63.3,531.5 63.2,530.3 63.2,529.5Z" fill="#fdeefa" opacity="0.85"/>
<path d="M200.0,617.0 C199.7,617.4 199.2,617.9 198.5,617.8 C197.7,617.7 196.2,617.0 195.7,616.3 C195.2,615.7 195.2,614.5 195.3,614.0 C195.4,613.4 195.8,613.2 196.4,612.9 C197.0,612.7 198.2,612.1 198.8,612.5 C199.4,612.9 199.8,614.6 200.0,615.3 C200.2,616.1 200.3,616.6 200.0,617.0Z" fill="#fdeefa" opacity="0.85"/>
<path d="M53.3,369.5 C52.7,368.6 52.1,366.8 52.6,366.0 C53.1,365.3 55.2,365.2 56.4,364.9 C57.6,364.6 58.7,363.9 59.7,364.2 C60.6,364.5 62.2,365.9 62.2,366.8 C62.1,367.8 60.4,369.1 59.3,369.8 C58.3,370.6 57.0,371.3 56.0,371.3 C55.0,371.2 53.9,370.4 53.3,369.5Z" fill="#fdeefa" opacity="0.85"/>
<path d="M105.2,519.5 C104.7,519.4 103.9,519.0 104.1,518.1 C104.3,517.1 105.6,514.8 106.4,513.6 C107.2,512.5 108.3,511.5 108.9,511.3 C109.4,511.0 109.7,511.6 109.8,512.3 C110.0,512.9 110.4,514.2 109.9,515.2 C109.4,516.2 107.8,517.5 107.0,518.2 C106.2,518.9 105.6,519.5 105.2,519.5Z" fill="#fdeefa" opacity="0.85"/>
<path d="M187.1,560.2 C186.7,560.8 186.6,562.1 185.6,562.0 C184.7,562.0 182.5,560.8 181.5,559.9 C180.4,559.0 179.5,557.5 179.5,556.7 C179.4,556.0 180.3,555.4 181.1,555.2 C182.0,555.0 183.2,554.9 184.4,555.4 C185.6,555.9 187.9,557.2 188.3,558.0 C188.8,558.8 187.6,559.5 187.1,560.2Z" fill="#fdeefa" opacity="0.85"/>
<path d="M164.4,415.5 C163.4,415.7 162.0,414.0 160.9,413.1 C159.9,412.1 158.5,411.1 158.3,409.9 C158.0,408.7 158.8,406.9 159.5,406.0 C160.2,405.1 161.7,403.9 162.6,404.3 C163.5,404.6 163.9,406.9 164.7,408.2 C165.4,409.5 166.9,410.8 166.9,412.1 C166.9,413.3 165.4,415.4 164.4,415.5Z" fill="#fdeefa" opacity="0.85"/>
<path d="M97.7,614.2 C97.6,614.8 96.9,615.4 95.9,615.3 C94.9,615.2 92.6,614.3 91.7,613.7 C90.9,613.1 91.1,612.6 90.6,611.8 C90.1,611.1 88.5,609.7 88.9,609.4 C89.3,609.2 91.9,609.9 93.2,610.4 C94.5,610.8 95.9,611.6 96.6,612.3 C97.4,612.9 97.8,613.7 97.7,614.2Z" fill="#fdeefa" opacity="0.85"/>
<path d="M45.3,600.8 C44.9,600.4 43.7,599.8 44.3,599.2 C44.9,598.5 47.7,597.4 48.9,596.9 C50.2,596.3 51.0,596.1 51.8,596.1 C52.7,596.0 54.1,596.0 53.9,596.6 C53.8,597.2 52.3,598.9 51.1,599.7 C50.0,600.5 48.0,601.1 47.1,601.2 C46.1,601.4 45.8,601.1 45.3,600.8Z" fill="#fdeefa" opacity="0.85"/>
<path d="M200.3,518.5 C200.0,519.3 198.6,520.0 197.7,520.1 C196.7,520.2 195.5,519.6 194.8,519.1 C194.0,518.5 193.6,517.7 193.4,516.8 C193.1,515.9 192.8,514.2 193.4,513.7 C194.0,513.3 195.9,513.9 196.9,514.3 C197.9,514.6 198.7,515.0 199.2,515.7 C199.8,516.4 200.5,517.8 200.3,518.5Z" fill="#fdeefa" opacity="0.85"/>
<path d="M20.8,621.2 C20.6,620.4 20.2,619.3 20.9,618.6 C21.6,618.0 24.0,617.1 25.0,617.2 C26.1,617.3 26.3,618.4 27.1,619.0 C27.9,619.6 29.9,620.1 29.7,620.8 C29.6,621.5 27.5,622.7 26.2,623.1 C25.0,623.4 23.1,623.4 22.2,623.1 C21.3,622.8 21.0,621.9 20.8,621.2Z" fill="#fdeefa" opacity="0.85"/>
<path d="M170.7,371.2 C170.3,371.8 169.9,372.9 169.3,372.9 C168.6,372.8 167.3,371.5 166.9,370.9 C166.5,370.2 166.8,369.4 166.9,368.7 C167.0,368.0 167.1,367.1 167.6,366.9 C168.2,366.6 169.5,366.9 170.2,367.3 C170.9,367.8 171.7,369.0 171.8,369.7 C171.9,370.3 171.1,370.7 170.7,371.2Z" fill="#fdeefa" opacity="0.85"/>
<path d="M122.5,386.7 C122.4,386.2 122.9,385.2 123.6,384.8 C124.3,384.4 125.5,384.3 126.6,384.1 C127.7,383.9 129.4,383.3 130.0,383.5 C130.6,383.7 130.6,384.9 130.2,385.4 C129.7,385.9 128.3,386.3 127.4,386.7 C126.4,387.1 125.2,387.8 124.4,387.8 C123.6,387.8 122.6,387.2 122.5,386.7Z" fill="#fdeefa" opacity="0.85"/>
<path d="M86.0,455.4 C85.0,455.4 83.8,454.7 83.1,454.0 C82.4,453.3 82.2,452.3 82.0,451.2 C81.8,450.0 81.2,447.6 81.8,447.0 C82.4,446.4 84.5,447.2 85.5,447.6 C86.5,448.1 87.3,448.6 87.9,449.6 C88.5,450.6 89.4,452.5 89.1,453.4 C88.8,454.4 87.0,455.3 86.0,455.4Z" fill="#fdeefa" opacity="0.85"/>
<path d="M190.0,465.8 C189.8,466.5 188.0,466.7 187.0,467.2 C186.1,467.6 185.1,468.7 184.1,468.6 C183.2,468.5 181.9,467.3 181.5,466.6 C181.0,465.8 181.0,464.6 181.5,464.0 C182.1,463.5 183.5,463.4 184.7,463.2 C185.9,463.1 187.7,462.7 188.6,463.1 C189.5,463.5 190.3,465.1 190.0,465.8Z" fill="#fdeefa" opacity="0.85"/>
<path d="M101.8,361.3 C101.3,362.2 100.6,363.6 100.0,363.9 C99.3,364.2 98.4,363.7 98.1,363.2 C97.8,362.7 97.8,361.5 98.1,360.8 C98.3,360.0 99.1,359.5 99.8,358.7 C100.4,358.0 101.7,356.2 102.2,356.2 C102.7,356.2 102.9,357.9 102.8,358.7 C102.7,359.6 102.3,360.4 101.8,361.3Z" fill="#fdeefa" opacity="0.85"/>
<path d="M106.0,543.8 C105.4,543.6 105.1,542.3 104.7,541.4 C104.3,540.4 103.6,539.1 103.7,538.0 C103.8,537.0 104.8,535.5 105.4,535.2 C106.0,534.9 106.8,535.7 107.3,536.2 C107.8,536.8 108.2,537.6 108.4,538.6 C108.5,539.6 108.5,541.5 108.1,542.4 C107.7,543.2 106.6,544.0 106.0,543.8Z" fill="#fdeefa" opacity="0.85"/>
<path d="M122.9,560.9 C122.4,561.3 121.2,560.9 120.5,560.9 C119.7,560.8 118.8,561.0 118.4,560.5 C118.0,560.1 117.8,558.8 118.1,558.1 C118.4,557.4 119.5,556.7 120.2,556.5 C120.9,556.3 121.8,556.3 122.3,556.6 C122.9,556.9 123.3,557.6 123.3,558.3 C123.4,559.0 123.4,560.4 122.9,560.9Z" fill="#fdeefa" opacity="0.85"/>
<g mask="url(#mLav)">
<path d="M403.5,474.9 Q381.4,482.9 358.9,485.8" fill="none" stroke="#e48ad2" stroke-width="2.1" opacity="0.75"/>
<path d="M410.1,495.3 Q392.6,491.9 386.8,513.0" fill="none" stroke="#e48ad2" stroke-width="2.9" opacity="0.75"/>
<path d="M485.2,302.3 Q455.7,307.7 416.9,306.2" fill="none" stroke="#e48ad2" stroke-width="2.0" opacity="0.75"/>
<path d="M237.9,466.5 Q246.6,455.6 270.8,472.8" fill="none" stroke="#e48ad2" stroke-width="2.4" opacity="0.75"/>
<path d="M379.3,549.6 Q377.7,581.3 376.2,603.3" fill="none" stroke="#e48ad2" stroke-width="2.4" opacity="0.75"/>
<path d="M362.1,628.7 Q336.9,623.7 299.3,629.7" fill="none" stroke="#e48ad2" stroke-width="2.1" opacity="0.75"/>
<path d="M349.8,299.4 Q344.2,310.5 317.9,328.3" fill="none" stroke="#e48ad2" stroke-width="3.1" opacity="0.75"/>
<path d="M469.6,270.0 Q494.8,304.6 521.8,310.4" fill="none" stroke="#e48ad2" stroke-width="2.4" opacity="0.75"/>
<path d="M285.4,492.1 Q258.8,499.0 256.9,515.9" fill="none" stroke="#e48ad2" stroke-width="3.1" opacity="0.75"/>
<path d="M459.3,319.8 Q456.6,339.0 480.4,340.4" fill="none" stroke="#e48ad2" stroke-width="2.0" opacity="0.75"/>
<path d="M388.3,425.8 Q401.1,446.4 436.1,458.5" fill="none" stroke="#e48ad2" stroke-width="2.0" opacity="0.75"/>
<path d="M349.3,336.6 Q381.1,356.5 394.8,388.1" fill="none" stroke="#e48ad2" stroke-width="3.0" opacity="0.75"/>
<path d="M335.3,412.1 Q299.1,438.7 287.0,436.0" fill="none" stroke="#e48ad2" stroke-width="2.1" opacity="0.75"/>
<path d="M315.1,536.3 Q312.1,540.4 334.7,569.2" fill="none" stroke="#e48ad2" stroke-width="2.6" opacity="0.75"/>
<path d="M311.6,473.6 Q334.2,493.9 329.4,515.3" fill="none" stroke="#e48ad2" stroke-width="2.6" opacity="0.75"/>
<path d="M472.1,336.8 Q510.8,344.6 530.4,367.5" fill="none" stroke="#e48ad2" stroke-width="2.1" opacity="0.75"/>
<path d="M436.8,590.1 Q475.9,612.8 492.1,629.3" fill="none" stroke="#e48ad2" stroke-width="2.4" opacity="0.75"/>
<path d="M297.9,301.0 Q286.3,295.9 262.4,305.3" fill="none" stroke="#e48ad2" stroke-width="3.0" opacity="0.75"/>
<path d="M398.5,374.7 Q410.0,381.6 447.4,404.8" fill="none" stroke="#e48ad2" stroke-width="2.6" opacity="0.75"/>
<path d="M476.1,473.3 Q488.3,484.4 518.3,524.4" fill="none" stroke="#e48ad2" stroke-width="2.2" opacity="0.75"/>
<path d="M361.6,299.6 Q381.4,299.5 396.9,321.5" fill="none" stroke="#e48ad2" stroke-width="2.3" opacity="0.75"/>
<path d="M521.6,598.6 Q510.9,612.6 495.1,648.1" fill="none" stroke="#e48ad2" stroke-width="1.8" opacity="0.75"/>
<path d="M275.3,571.9 Q240.8,603.6 235.1,627.1" fill="none" stroke="#e48ad2" stroke-width="2.5" opacity="0.75"/>
<path d="M476.0,398.4 Q463.2,405.5 447.7,398.5" fill="none" stroke="#e48ad2" stroke-width="3.1" opacity="0.75"/>
<path d="M490.1,509.2 Q459.3,534.8 437.4,549.3" fill="none" stroke="#e48ad2" stroke-width="3.1" opacity="0.75"/>
<path d="M527.9,412.3 Q504.8,435.6 477.4,451.4" fill="none" stroke="#e48ad2" stroke-width="2.3" opacity="0.75"/>
<path d="M392.9,490.3 Q433.8,508.4 445.0,503.7" fill="none" stroke="#e48ad2" stroke-width="2.8" opacity="0.75"/>
<path d="M368.3,518.2 Q372.8,527.4 357.0,561.6" fill="none" stroke="#e48ad2" stroke-width="2.9" opacity="0.75"/>
<path d="M257.6,476.8 Q264.6,494.4 259.7,512.1" fill="none" stroke="#e48ad2" stroke-width="2.7" opacity="0.75"/>
<path d="M497.7,376.3 Q522.3,368.1 536.2,377.7" fill="none" stroke="#e48ad2" stroke-width="2.0" opacity="0.75"/>
<path d="M506.7,482.4 Q507.5,519.4 518.6,546.4" fill="none" stroke="#e48ad2" stroke-width="2.1" opacity="0.75"/>
<path d="M406.1,555.4 Q371.5,566.5 343.8,572.7" fill="none" stroke="#e48ad2" stroke-width="2.2" opacity="0.75"/>
<path d="M317.0,443.3 Q295.8,472.3 262.0,474.3" fill="none" stroke="#e48ad2" stroke-width="2.2" opacity="0.75"/>
<path d="M287.8,430.1 Q296.5,447.0 310.3,456.4" fill="none" stroke="#e48ad2" stroke-width="2.5" opacity="0.75"/>
<path d="M358.4,580.1 C358.5,581.6 356.2,583.6 353.7,584.2 C351.2,584.7 346.2,584.5 343.3,583.6 C340.4,582.7 337.9,580.3 336.5,578.8 C335.1,577.3 335.1,576.2 334.9,574.5 C334.6,572.9 333.2,569.6 335.1,568.9 C337.1,568.2 343.5,569.2 346.5,570.3 C349.4,571.3 350.9,573.5 352.9,575.1 C354.8,576.8 358.2,578.6 358.4,580.1Z" fill="#f3e2f6" opacity="0.75" filter="url(#b1)"/>
<path d="M262.6,594.1 C261.0,593.6 260.2,591.3 259.3,590.0 C258.4,588.7 257.4,587.9 257.2,586.5 C257.1,585.2 257.1,582.6 258.5,581.9 C259.8,581.3 263.4,582.0 265.2,582.6 C267.0,583.2 268.5,584.6 269.5,585.8 C270.4,586.9 270.8,588.3 270.7,589.6 C270.6,590.8 270.1,592.5 268.7,593.3 C267.4,594.1 264.2,594.7 262.6,594.1Z" fill="#f3e2f6" opacity="0.75" filter="url(#b1)"/>
<path d="M343.7,565.3 C342.5,565.7 340.5,566.9 339.6,566.4 C338.6,565.8 337.7,563.2 337.9,561.9 C338.0,560.7 339.6,560.0 340.4,559.0 C341.1,558.0 341.3,556.4 342.3,556.0 C343.3,555.6 345.4,555.7 346.3,556.4 C347.1,557.2 347.4,559.3 347.5,560.6 C347.5,561.9 347.4,563.5 346.8,564.3 C346.2,565.1 344.9,565.0 343.7,565.3Z" fill="#f3e2f6" opacity="0.75" filter="url(#b1)"/>
<path d="M268.1,574.7 C268.1,575.9 268.1,577.7 267.0,578.4 C265.9,579.0 262.7,579.0 261.4,578.5 C260.0,578.0 259.8,576.4 258.7,575.4 C257.5,574.5 254.8,573.7 254.5,572.7 C254.3,571.7 255.9,569.9 257.2,569.3 C258.6,568.8 261.1,569.0 262.7,569.3 C264.3,569.7 266.0,570.5 266.9,571.4 C267.8,572.3 268.1,573.5 268.1,574.7Z" fill="#f3e2f6" opacity="0.75" filter="url(#b1)"/>
<path d="M428.2,451.6 C427.0,450.1 424.0,449.0 424.3,447.1 C424.5,445.3 427.3,441.9 429.5,440.4 C431.7,438.9 435.7,437.7 437.6,438.0 C439.5,438.4 440.4,441.1 441.0,442.7 C441.7,444.3 441.8,445.4 441.6,447.5 C441.5,449.6 441.7,454.1 439.9,455.5 C438.2,456.9 433.3,456.5 431.3,455.8 C429.4,455.2 429.4,453.0 428.2,451.6Z" fill="#f3e2f6" opacity="0.75" filter="url(#b1)"/>
<path d="M533.5,529.2 C532.5,530.3 530.9,530.1 529.3,530.6 C527.8,531.1 525.6,532.7 524.2,532.2 C522.8,531.7 520.7,528.9 520.7,527.4 C520.8,526.0 523.6,525.0 524.5,523.6 C525.5,522.2 525.2,519.4 526.4,518.9 C527.6,518.3 530.3,519.2 531.8,520.1 C533.3,521.0 535.0,522.9 535.3,524.4 C535.6,525.9 534.5,528.2 533.5,529.2Z" fill="#f3e2f6" opacity="0.75" filter="url(#b1)"/>
<path d="M264.5,463.3 C264.2,464.6 262.7,467.0 261.1,466.3 C259.5,465.5 256.6,460.8 255.0,458.5 C253.4,456.3 252.1,454.6 251.5,452.8 C250.8,451.1 250.5,448.9 251.2,447.9 C251.9,447.0 253.7,446.3 255.5,447.1 C257.3,447.8 260.7,450.6 262.0,452.4 C263.3,454.3 262.8,456.4 263.2,458.2 C263.6,460.0 264.9,461.9 264.5,463.3Z" fill="#f3e2f6" opacity="0.75" filter="url(#b1)"/>
<path d="M348.1,535.4 C346.9,534.3 345.4,532.8 345.5,531.0 C345.5,529.2 346.6,526.2 348.2,524.5 C349.7,522.9 353.1,521.1 354.9,521.2 C356.6,521.3 357.8,523.8 358.7,525.1 C359.6,526.5 360.1,527.4 360.3,529.4 C360.5,531.3 361.3,535.5 360.0,536.9 C358.7,538.2 354.5,537.6 352.5,537.4 C350.5,537.1 349.2,536.4 348.1,535.4Z" fill="#f3e2f6" opacity="0.75" filter="url(#b1)"/>
<path d="M359.1,563.1 C358.8,562.0 356.0,561.1 357.2,560.0 C358.4,558.9 363.0,557.3 366.1,556.6 C369.2,555.9 373.7,555.5 375.9,555.8 C378.2,556.2 379.8,557.6 379.6,558.7 C379.4,559.8 376.8,561.0 374.9,562.4 C373.0,563.8 371.0,566.2 368.4,566.9 C365.7,567.6 360.3,567.2 358.8,566.6 C357.3,565.9 359.3,564.2 359.1,563.1Z" fill="#f3e2f6" opacity="0.75" filter="url(#b1)"/>
<path d="M451.0,345.8 C450.5,344.2 452.4,341.3 453.8,339.8 C455.1,338.3 457.3,337.3 459.1,336.8 C461.0,336.3 463.0,336.4 464.9,336.9 C466.9,337.4 470.0,338.4 470.7,340.0 C471.5,341.6 470.8,345.3 469.4,346.5 C468.0,347.8 464.4,347.1 462.2,347.5 C460.1,348.0 458.4,349.6 456.5,349.3 C454.6,349.0 451.4,347.3 451.0,345.8Z" fill="#f3e2f6" opacity="0.75" filter="url(#b1)"/>
<path d="M351.4,489.7 C351.7,487.7 354.0,486.6 355.6,484.8 C357.2,482.9 358.3,479.3 360.8,478.5 C363.3,477.7 368.8,478.7 370.6,479.9 C372.4,481.2 371.5,484.2 371.5,486.1 C371.6,488.0 372.3,489.9 371.0,491.5 C369.7,493.0 366.7,494.4 363.7,495.2 C360.8,496.0 355.5,497.2 353.4,496.3 C351.3,495.3 351.0,491.6 351.4,489.7Z" fill="#f3e2f6" opacity="0.75" filter="url(#b1)"/>
<path d="M382.0,518.2 C381.2,516.6 380.8,514.6 381.1,513.2 C381.4,511.7 382.4,510.5 383.6,509.5 C384.9,508.4 386.7,506.6 388.4,506.8 C390.0,507.0 393.0,509.2 393.6,510.8 C394.3,512.4 392.6,514.5 392.2,516.4 C391.9,518.3 392.8,521.0 391.8,522.1 C390.7,523.3 387.6,523.8 386.0,523.1 C384.3,522.4 382.8,519.9 382.0,518.2Z" fill="#f3e2f6" opacity="0.75" filter="url(#b1)"/>
<path d="M431.8,537.2 C431.8,535.1 432.0,532.7 432.9,531.3 C433.9,529.9 435.7,529.1 437.4,528.8 C439.0,528.6 441.4,528.6 442.7,529.9 C444.0,531.2 445.4,534.5 445.2,536.4 C445.0,538.2 442.7,539.2 441.6,541.0 C440.4,542.7 439.9,546.4 438.5,546.9 C437.0,547.5 433.9,545.8 432.8,544.2 C431.6,542.6 431.8,539.3 431.8,537.2Z" fill="#f3e2f6" opacity="0.75" filter="url(#b1)"/>
<path d="M520.4,481.0 C519.8,479.9 522.1,477.0 524.0,475.5 C525.9,474.0 529.5,472.5 532.0,471.9 C534.5,471.3 537.0,471.7 539.2,472.0 C541.4,472.3 544.2,472.6 545.1,473.8 C546.0,475.0 546.5,477.9 544.8,479.2 C543.1,480.5 537.7,481.1 534.8,481.6 C532.0,482.2 530.3,482.5 527.9,482.4 C525.4,482.3 521.1,482.2 520.4,481.0Z" fill="#f3e2f6" opacity="0.75" filter="url(#b1)"/>
<path d="M498.0,420.6 C496.4,420.6 493.6,420.1 492.9,419.0 C492.1,417.9 493.0,415.4 493.6,414.2 C494.2,413.0 495.2,412.7 496.3,411.7 C497.4,410.8 498.7,408.3 500.0,408.3 C501.3,408.3 503.2,410.3 504.0,411.6 C504.9,412.9 505.4,414.7 505.1,416.0 C504.8,417.3 503.5,418.5 502.3,419.3 C501.1,420.0 499.6,420.7 498.0,420.6Z" fill="#f3e2f6" opacity="0.75" filter="url(#b1)"/>
<path d="M479.6,462.0 C479.4,464.1 478.2,467.9 477.0,468.7 C475.9,469.6 473.9,467.7 472.7,467.1 C471.5,466.5 470.7,466.3 469.9,465.0 C469.0,463.8 467.3,461.4 467.6,459.6 C467.8,457.8 470.0,455.1 471.3,454.2 C472.6,453.2 474.2,453.6 475.3,454.0 C476.5,454.4 477.6,455.1 478.3,456.4 C479.0,457.8 479.8,460.0 479.6,462.0Z" fill="#f3e2f6" opacity="0.75" filter="url(#b1)"/>
<path d="M488.9,359.9 C488.0,361.8 487.4,364.6 485.8,365.4 C484.2,366.2 481.2,365.5 479.4,364.7 C477.5,363.8 475.1,361.9 474.6,360.2 C474.2,358.4 475.8,355.7 476.8,354.1 C477.8,352.6 479.1,351.9 480.8,350.8 C482.6,349.8 485.6,347.3 487.3,347.8 C489.0,348.4 490.8,352.0 491.0,354.0 C491.3,356.0 489.8,358.0 488.9,359.9Z" fill="#f3e2f6" opacity="0.75" filter="url(#b1)"/>
<path d="M291.8,478.7 C290.2,477.6 289.2,475.8 288.7,473.4 C288.1,471.0 287.3,466.4 288.6,464.5 C290.0,462.7 294.6,462.6 296.9,462.3 C299.2,462.0 300.7,462.1 302.6,462.8 C304.4,463.5 308.0,464.7 308.3,466.8 C308.6,468.8 305.9,472.8 304.2,475.0 C302.4,477.3 300.0,479.7 297.9,480.3 C295.9,480.9 293.3,479.9 291.8,478.7Z" fill="#f3e2f6" opacity="0.75" filter="url(#b1)"/>
<path d="M531.5,468.3 C530.8,469.3 531.9,472.4 530.2,472.1 C528.5,471.8 523.2,468.6 521.2,466.6 C519.1,464.6 519.0,462.1 518.0,460.1 C517.1,458.2 515.2,456.0 515.3,454.9 C515.5,453.8 517.2,452.9 519.2,453.6 C521.2,454.3 525.0,457.0 527.5,459.0 C529.9,461.1 533.2,464.5 533.9,466.0 C534.6,467.6 532.1,467.3 531.5,468.3Z" fill="#f3e2f6" opacity="0.75" filter="url(#b1)"/>
<path d="M404.5,403.6 C402.8,403.3 401.0,404.1 399.8,402.7 C398.5,401.3 397.1,397.8 397.2,395.2 C397.2,392.6 398.8,388.8 400.2,387.2 C401.7,385.5 404.2,385.1 405.8,385.5 C407.5,385.8 409.1,387.2 410.3,389.0 C411.5,390.9 413.3,393.8 413.2,396.3 C413.2,398.9 411.5,403.3 410.0,404.5 C408.6,405.7 406.2,403.9 404.5,403.6Z" fill="#f3e2f6" opacity="0.75" filter="url(#b1)"/>
<path d="M489.5,487.9 C489.2,486.5 490.0,485.4 490.4,483.9 C490.8,482.3 490.8,479.4 492.1,478.4 C493.4,477.5 496.9,477.6 498.4,478.2 C499.8,478.8 500.4,480.6 500.9,481.9 C501.4,483.2 501.8,484.5 501.4,485.9 C501.0,487.3 500.0,489.4 498.4,490.4 C496.9,491.5 493.5,492.8 492.1,492.4 C490.6,492.0 489.8,489.4 489.5,487.9Z" fill="#f3e2f6" opacity="0.75" filter="url(#b1)"/>
<path d="M510.7,381.6 C508.9,381.8 506.4,378.6 505.0,376.4 C503.5,374.1 501.5,370.5 501.8,368.0 C502.1,365.4 504.9,362.5 506.7,360.9 C508.4,359.2 510.2,358.3 512.5,358.0 C514.7,357.7 518.7,357.3 520.0,359.2 C521.3,361.1 520.9,366.7 520.2,369.4 C519.5,372.1 517.4,373.3 515.8,375.3 C514.2,377.4 512.5,381.5 510.7,381.6Z" fill="#f3e2f6" opacity="0.75" filter="url(#b1)"/>
<path d="M415.3,375.1 C413.7,375.1 410.6,373.9 410.3,372.1 C410.0,370.4 412.4,366.6 413.5,364.7 C414.5,362.7 415.2,361.5 416.5,360.2 C417.9,359.0 420.0,356.9 421.5,357.0 C423.0,357.1 425.2,359.0 425.7,360.9 C426.2,362.8 425.3,366.6 424.4,368.4 C423.4,370.2 421.4,370.8 419.9,371.9 C418.4,373.0 416.9,375.1 415.3,375.1Z" fill="#f3e2f6" opacity="0.75" filter="url(#b1)"/>
<path d="M255.7,625.1 C254.6,624.1 253.8,622.1 254.3,620.3 C254.9,618.5 256.9,615.7 258.8,614.3 C260.8,612.8 264.4,611.5 266.0,611.7 C267.7,612.0 267.8,614.5 268.6,615.8 C269.4,617.1 271.0,617.8 270.8,619.6 C270.6,621.3 269.1,625.1 267.4,626.1 C265.7,627.2 262.5,626.3 260.5,626.1 C258.6,626.0 256.7,626.1 255.7,625.1Z" fill="#f3e2f6" opacity="0.75" filter="url(#b1)"/>
<path d="M414.1,472.6 C413.3,472.0 413.4,468.6 412.8,466.8 C412.1,464.9 410.4,463.7 410.4,461.4 C410.5,459.2 412.1,454.7 413.0,453.4 C414.0,452.2 415.4,453.6 416.4,454.0 C417.4,454.4 418.5,454.2 419.0,455.6 C419.6,457.0 420.1,460.1 419.9,462.6 C419.7,465.0 418.7,468.6 417.7,470.3 C416.7,472.0 414.9,473.2 414.1,472.6Z" fill="#f3e2f6" opacity="0.75" filter="url(#b1)"/>
<path d="M374.1,629.4 C372.8,630.2 370.0,629.7 369.0,627.5 C368.0,625.3 368.3,619.5 368.2,616.2 C368.1,612.8 367.8,609.3 368.4,607.4 C369.1,605.5 370.7,605.1 372.0,604.7 C373.3,604.3 375.4,603.4 376.5,605.2 C377.5,607.0 378.4,612.5 378.4,615.3 C378.4,618.2 377.2,620.0 376.4,622.3 C375.7,624.7 375.3,628.5 374.1,629.4Z" fill="#f3e2f6" opacity="0.75" filter="url(#b1)"/>
<path d="M291.8,451.6 C289.7,451.8 286.9,453.8 285.3,452.5 C283.6,451.2 282.2,446.8 281.9,443.8 C281.7,440.8 282.5,436.8 283.9,434.7 C285.3,432.6 288.4,431.0 290.3,431.2 C292.2,431.5 293.6,434.5 295.4,436.3 C297.3,438.2 300.7,439.9 301.2,442.4 C301.7,444.9 299.8,449.8 298.2,451.3 C296.6,452.8 294.0,451.4 291.8,451.6Z" fill="#f3e2f6" opacity="0.75" filter="url(#b1)"/>
<path d="M353.6,366.7 C352.8,368.3 350.8,369.5 348.8,370.2 C346.9,371.0 344.4,371.9 341.9,371.3 C339.4,370.8 334.3,368.8 333.6,366.9 C333.0,365.0 336.7,361.9 338.0,360.0 C339.4,358.1 339.7,356.4 341.6,355.3 C343.5,354.1 347.6,352.4 349.7,353.3 C351.7,354.2 353.1,358.3 353.8,360.5 C354.4,362.8 354.4,365.1 353.6,366.7Z" fill="#f3e2f6" opacity="0.75" filter="url(#b1)"/>
<path d="M472.7,314.2 C471.7,313.3 471.6,310.8 471.7,309.3 C471.8,307.7 472.4,306.2 473.3,305.0 C474.1,303.8 475.3,302.8 476.7,302.1 C478.0,301.4 480.5,300.3 481.5,301.0 C482.4,301.6 482.5,304.4 482.3,305.8 C482.0,307.2 480.7,307.9 480.0,309.4 C479.2,310.9 478.9,314.0 477.7,314.8 C476.4,315.6 473.6,315.1 472.7,314.2Z" fill="#f3e2f6" opacity="0.75" filter="url(#b1)"/>
<path d="M338.3,426.9 C337.4,426.4 338.5,422.5 339.5,420.5 C340.5,418.5 342.7,416.9 344.3,415.0 C345.9,413.2 347.4,410.7 349.2,409.6 C350.9,408.5 354.0,407.5 354.8,408.3 C355.5,409.0 354.6,412.2 353.8,414.1 C353.0,416.1 351.3,418.4 349.8,420.0 C348.3,421.5 346.8,422.3 344.9,423.5 C343.0,424.6 339.2,427.4 338.3,426.9Z" fill="#f3e2f6" opacity="0.75" filter="url(#b1)"/>
</g>
<path d="M255.2,294.1 C253.4,301.4 248.9,307.7 245.2,313.2 C241.4,318.8 237.6,324.1 232.7,327.4 C227.7,330.7 219.6,335.7 215.5,332.8 C211.5,329.9 209.3,317.7 208.6,310.0 C207.9,302.2 209.9,293.8 211.4,286.4 C213.0,278.9 214.6,270.8 217.9,265.1 C221.2,259.3 226.6,253.8 231.3,251.9 C236.0,250.0 241.8,250.8 245.9,253.7 C250.1,256.6 254.6,262.7 256.2,269.4 C257.7,276.1 257.0,286.8 255.2,294.1Z" fill="#fbeaf8" filter="url(#b2)" opacity="0.92"/>
<clipPath id="gc0"><path d="M255.2,294.1 C253.4,301.4 248.9,307.7 245.2,313.2 C241.4,318.8 237.6,324.1 232.7,327.4 C227.7,330.7 219.6,335.7 215.5,332.8 C211.5,329.9 209.3,317.7 208.6,310.0 C207.9,302.2 209.9,293.8 211.4,286.4 C213.0,278.9 214.6,270.8 217.9,265.1 C221.2,259.3 226.6,253.8 231.3,251.9 C236.0,250.0 241.8,250.8 245.9,253.7 C250.1,256.6 254.6,262.7 256.2,269.4 C257.7,276.1 257.0,286.8 255.2,294.1Z"/></clipPath>
<g clip-path="url(#gc0)" opacity="0.85"><rect x="198" y="234" width="67" height="112" filter="url(#tNucD)"/></g>
<path d="M305.8,304.0 C305.5,308.8 303.9,313.8 301.8,317.4 C299.8,321.1 296.5,324.7 293.3,325.9 C290.2,327.1 286.7,325.6 283.0,324.6 C279.3,323.7 273.7,323.7 271.2,320.3 C268.7,316.8 267.6,308.9 268.1,304.0 C268.6,299.1 271.7,293.7 274.2,290.7 C276.8,287.6 280.2,287.3 283.5,285.5 C286.8,283.7 290.5,279.3 293.9,279.8 C297.3,280.2 302.2,284.3 304.1,288.4 C306.1,292.4 306.2,299.2 305.8,304.0Z" fill="#fbeaf8" filter="url(#b2)" opacity="0.92"/>
<clipPath id="gc1"><path d="M305.8,304.0 C305.5,308.8 303.9,313.8 301.8,317.4 C299.8,321.1 296.5,324.7 293.3,325.9 C290.2,327.1 286.7,325.6 283.0,324.6 C279.3,323.7 273.7,323.7 271.2,320.3 C268.7,316.8 267.6,308.9 268.1,304.0 C268.6,299.1 271.7,293.7 274.2,290.7 C276.8,287.6 280.2,287.3 283.5,285.5 C286.8,283.7 290.5,279.3 293.9,279.8 C297.3,280.2 302.2,284.3 304.1,288.4 C306.1,292.4 306.2,299.2 305.8,304.0Z"/></clipPath>
<g clip-path="url(#gc1)" opacity="0.85"><rect x="263" y="270" width="50" height="67" filter="url(#tNucD)"/></g>
<path d="M180.9,357.0 C180.9,362.8 179.7,369.4 177.0,374.6 C174.3,379.8 169.5,386.3 164.7,388.0 C159.9,389.7 152.5,387.5 148.2,384.8 C143.8,382.0 141.9,376.1 138.7,371.5 C135.6,366.8 130.5,362.8 129.4,357.0 C128.3,351.2 129.1,342.1 132.1,337.0 C135.1,331.8 142.2,327.2 147.3,326.3 C152.5,325.4 158.3,329.4 163.1,331.7 C168.0,333.9 173.7,335.5 176.6,339.7 C179.6,343.9 180.8,351.2 180.9,357.0Z" fill="#fbeaf8" filter="url(#b2)" opacity="0.92"/>
<clipPath id="gc2"><path d="M180.9,357.0 C180.9,362.8 179.7,369.4 177.0,374.6 C174.3,379.8 169.5,386.3 164.7,388.0 C159.9,389.7 152.5,387.5 148.2,384.8 C143.8,382.0 141.9,376.1 138.7,371.5 C135.6,366.8 130.5,362.8 129.4,357.0 C128.3,351.2 129.1,342.1 132.1,337.0 C135.1,331.8 142.2,327.2 147.3,326.3 C152.5,325.4 158.3,329.4 163.1,331.7 C168.0,333.9 173.7,335.5 176.6,339.7 C179.6,343.9 180.8,351.2 180.9,357.0Z"/></clipPath>
<g clip-path="url(#gc2)" opacity="0.85"><rect x="120" y="315" width="73" height="84" filter="url(#tNucD)"/></g>
<path d="M73.6,395.0 C74.9,403.1 75.1,417.6 71.8,423.8 C68.5,430.1 59.4,431.9 53.9,432.6 C48.5,433.3 43.7,430.6 39.0,428.1 C34.3,425.6 29.1,423.0 25.9,417.5 C22.6,412.0 19.7,402.9 19.3,395.0 C18.9,387.1 20.6,377.0 23.6,369.9 C26.5,362.9 32.1,354.6 37.1,352.8 C42.1,350.9 49.2,355.2 53.6,359.0 C58.1,362.7 60.5,369.1 63.8,375.1 C67.2,381.1 72.2,386.9 73.6,395.0Z" fill="#fbeaf8" filter="url(#b2)" opacity="0.92"/>
<clipPath id="gc3"><path d="M73.6,395.0 C74.9,403.1 75.1,417.6 71.8,423.8 C68.5,430.1 59.4,431.9 53.9,432.6 C48.5,433.3 43.7,430.6 39.0,428.1 C34.3,425.6 29.1,423.0 25.9,417.5 C22.6,412.0 19.7,402.9 19.3,395.0 C18.9,387.1 20.6,377.0 23.6,369.9 C26.5,362.9 32.1,354.6 37.1,352.8 C42.1,350.9 49.2,355.2 53.6,359.0 C58.1,362.7 60.5,369.1 63.8,375.1 C67.2,381.1 72.2,386.9 73.6,395.0Z"/></clipPath>
<g clip-path="url(#gc3)" opacity="0.85"><rect x="10" y="339" width="73" height="112" filter="url(#tNucD)"/></g>
<path d="M287.7,398.0 C287.6,402.0 285.0,406.5 282.9,409.7 C280.7,412.9 277.9,416.1 275.0,417.2 C272.1,418.2 268.2,417.2 265.4,415.8 C262.6,414.4 260.1,411.7 258.2,408.7 C256.2,405.8 254.3,402.1 253.7,398.0 C253.1,393.9 252.6,386.9 254.6,384.0 C256.5,381.1 262.2,380.8 265.5,380.6 C268.7,380.3 271.0,381.8 274.0,382.7 C277.0,383.5 281.4,383.1 283.6,385.6 C285.9,388.2 287.8,394.0 287.7,398.0Z" fill="#fbeaf8" filter="url(#b2)" opacity="0.92"/>
<clipPath id="gc4"><path d="M287.7,398.0 C287.6,402.0 285.0,406.5 282.9,409.7 C280.7,412.9 277.9,416.1 275.0,417.2 C272.1,418.2 268.2,417.2 265.4,415.8 C262.6,414.4 260.1,411.7 258.2,408.7 C256.2,405.8 254.3,402.1 253.7,398.0 C253.1,393.9 252.6,386.9 254.6,384.0 C256.5,381.1 262.2,380.8 265.5,380.6 C268.7,380.3 271.0,381.8 274.0,382.7 C277.0,383.5 281.4,383.1 283.6,385.6 C285.9,388.2 287.8,394.0 287.7,398.0Z"/></clipPath>
<g clip-path="url(#gc4)" opacity="0.85"><rect x="248" y="370" width="45" height="56" filter="url(#tNucD)"/></g>
<path d="M193.2,533.0 C192.8,538.5 189.8,544.2 186.5,548.6 C183.2,553.1 178.5,558.3 173.7,559.7 C168.8,561.0 162.0,558.8 157.3,556.7 C152.7,554.6 149.5,551.0 145.7,547.0 C141.9,543.1 135.3,538.4 134.4,533.0 C133.4,527.6 136.1,518.7 139.9,514.8 C143.8,510.9 152.0,510.6 157.4,509.7 C162.9,508.9 167.3,508.6 172.6,509.5 C177.9,510.5 185.8,511.5 189.2,515.4 C192.7,519.3 193.7,527.5 193.2,533.0Z" fill="#fbeaf8" filter="url(#b2)" opacity="0.92"/>
<clipPath id="gc5"><path d="M193.2,533.0 C192.8,538.5 189.8,544.2 186.5,548.6 C183.2,553.1 178.5,558.3 173.7,559.7 C168.8,561.0 162.0,558.8 157.3,556.7 C152.7,554.6 149.5,551.0 145.7,547.0 C141.9,543.1 135.3,538.4 134.4,533.0 C133.4,527.6 136.1,518.7 139.9,514.8 C143.8,510.9 152.0,510.6 157.4,509.7 C162.9,508.9 167.3,508.6 172.6,509.5 C177.9,510.5 185.8,511.5 189.2,515.4 C192.7,519.3 193.7,527.5 193.2,533.0Z"/></clipPath>
<g clip-path="url(#gc5)" opacity="0.85"><rect x="127" y="495" width="76" height="76" filter="url(#tNucD)"/></g>
<path d="M417.1,245.0 C416.2,248.8 412.3,251.3 410.0,254.2 C407.7,257.2 406.4,261.1 403.5,262.7 C400.5,264.3 395.7,264.8 392.2,263.8 C388.7,262.8 384.9,259.9 382.6,256.8 C380.3,253.6 378.1,248.7 378.4,245.0 C378.7,241.3 381.9,237.3 384.4,234.6 C386.8,231.8 389.8,229.8 393.0,228.7 C396.1,227.6 399.4,227.6 403.2,228.0 C407.0,228.5 413.5,228.5 415.8,231.4 C418.1,234.2 418.1,241.2 417.1,245.0Z" fill="#fbeaf8" filter="url(#b2)" opacity="0.92"/>
<clipPath id="gc6"><path d="M417.1,245.0 C416.2,248.8 412.3,251.3 410.0,254.2 C407.7,257.2 406.4,261.1 403.5,262.7 C400.5,264.3 395.7,264.8 392.2,263.8 C388.7,262.8 384.9,259.9 382.6,256.8 C380.3,253.6 378.1,248.7 378.4,245.0 C378.7,241.3 381.9,237.3 384.4,234.6 C386.8,231.8 389.8,229.8 393.0,228.7 C396.1,227.6 399.4,227.6 403.2,228.0 C407.0,228.5 413.5,228.5 415.8,231.4 C418.1,234.2 418.1,241.2 417.1,245.0Z"/></clipPath>
<g clip-path="url(#gc6)" opacity="0.85"><rect x="373" y="218" width="50" height="53" filter="url(#tNucD)"/></g>
<path d="M395.9,131.0 C395.5,133.6 393.7,136.0 392.3,138.1 C390.9,140.1 389.6,142.0 387.5,143.4 C385.3,144.8 382.0,147.1 379.7,146.5 C377.4,145.9 374.7,142.3 373.8,139.7 C372.8,137.1 374.0,133.7 374.2,131.0 C374.4,128.3 373.9,125.6 374.9,123.3 C375.9,121.0 378.0,118.3 380.2,117.2 C382.3,116.1 385.6,116.0 388.0,116.8 C390.3,117.6 393.1,119.8 394.4,122.2 C395.7,124.6 396.2,128.4 395.9,131.0Z" fill="#fbeaf8" filter="url(#b2)" opacity="0.92"/>
<clipPath id="gc7"><path d="M395.9,131.0 C395.5,133.6 393.7,136.0 392.3,138.1 C390.9,140.1 389.6,142.0 387.5,143.4 C385.3,144.8 382.0,147.1 379.7,146.5 C377.4,145.9 374.7,142.3 373.8,139.7 C372.8,137.1 374.0,133.7 374.2,131.0 C374.4,128.3 373.9,125.6 374.9,123.3 C375.9,121.0 378.0,118.3 380.2,117.2 C382.3,116.1 385.6,116.0 388.0,116.8 C390.3,117.6 393.1,119.8 394.4,122.2 C395.7,124.6 396.2,128.4 395.9,131.0Z"/></clipPath>
<g clip-path="url(#gc7)" opacity="0.85"><rect x="367" y="111" width="34" height="39" filter="url(#tNucD)"/></g>
<path d="M43.4,478.0 C43.8,480.7 42.5,485.2 40.8,487.2 C39.2,489.2 35.7,489.7 33.4,490.1 C31.0,490.5 29.1,490.2 26.7,489.7 C24.4,489.2 21.1,489.0 19.3,487.0 C17.6,485.1 15.9,480.9 16.1,478.0 C16.3,475.1 18.6,471.9 20.4,469.8 C22.1,467.8 24.3,466.3 26.5,465.5 C28.7,464.8 31.5,464.4 33.5,465.3 C35.6,466.1 36.9,468.6 38.6,470.7 C40.2,472.8 43.0,475.3 43.4,478.0Z" fill="#fbeaf8" filter="url(#b2)" opacity="0.92"/>
<clipPath id="gc8"><path d="M43.4,478.0 C43.8,480.7 42.5,485.2 40.8,487.2 C39.2,489.2 35.7,489.7 33.4,490.1 C31.0,490.5 29.1,490.2 26.7,489.7 C24.4,489.2 21.1,489.0 19.3,487.0 C17.6,485.1 15.9,480.9 16.1,478.0 C16.3,475.1 18.6,471.9 20.4,469.8 C22.1,467.8 24.3,466.3 26.5,465.5 C28.7,464.8 31.5,464.4 33.5,465.3 C35.6,466.1 36.9,468.6 38.6,470.7 C40.2,472.8 43.0,475.3 43.4,478.0Z"/></clipPath>
<g clip-path="url(#gc8)" opacity="0.85"><rect x="13" y="458" width="34" height="39" filter="url(#tNucD)"/></g>
<mask id="mLob" maskUnits="userSpaceOnUse" x="0" y="0" width="600" height="700"><path d="M462.0,171.0 C462.1,174.4 459.6,178.7 457.1,181.2 C454.5,183.7 450.0,184.7 446.8,186.2 C443.6,187.8 441.3,189.4 438.0,190.5 C434.8,191.5 431.0,192.8 427.4,192.6 C423.8,192.5 419.5,191.3 416.2,189.5 C413.0,187.6 409.4,184.7 408.0,181.6 C406.6,178.5 407.4,174.3 407.9,171.0 C408.3,167.7 409.2,164.6 410.7,161.6 C412.2,158.6 413.9,155.0 416.7,153.0 C419.5,151.1 423.9,150.1 427.5,149.8 C431.1,149.5 434.7,150.5 438.1,151.3 C441.6,152.0 445.1,152.6 448.2,154.2 C451.3,155.8 454.5,158.1 456.8,160.9 C459.0,163.7 461.9,167.6 462.0,171.0Z" fill="#fff"/><path d="M486.6,126.3 C485.8,129.1 482.5,131.8 480.2,134.0 C477.8,136.2 474.9,137.5 472.3,139.5 C469.6,141.6 467.8,144.9 464.2,146.4 C460.6,147.9 455.2,148.3 450.7,148.4 C446.2,148.4 440.6,148.0 437.2,146.5 C433.7,145.0 431.3,141.9 429.9,139.4 C428.5,136.8 428.9,134.0 428.7,131.4 C428.6,128.7 427.4,125.8 428.8,123.4 C430.2,121.0 433.9,118.5 437.3,116.9 C440.6,115.3 445.0,115.0 448.9,114.0 C452.9,113.0 456.6,111.3 460.9,110.9 C465.2,110.5 470.6,110.6 474.6,111.7 C478.6,112.8 482.9,115.1 484.9,117.5 C486.9,120.0 487.4,123.6 486.6,126.3Z" fill="#fff"/><path d="M430.9,210.0 C431.4,212.4 431.8,215.4 430.8,217.7 C429.9,220.0 427.6,222.3 425.3,223.8 C423.1,225.4 420.1,226.3 417.3,227.0 C414.5,227.6 411.3,228.0 408.5,227.6 C405.7,227.1 402.3,226.0 400.4,224.2 C398.5,222.4 397.9,219.2 397.2,216.8 C396.4,214.5 395.9,212.3 395.9,210.0 C395.8,207.7 396.3,205.5 397.1,203.1 C397.8,200.8 398.5,197.9 400.3,195.8 C402.2,193.7 405.1,191.1 408.0,190.5 C410.9,189.8 415.0,190.6 417.7,191.7 C420.4,192.9 422.4,195.5 424.1,197.5 C425.9,199.5 426.8,201.5 427.9,203.6 C429.0,205.7 430.4,207.6 430.9,210.0Z" fill="#fff"/><path d="M468.3,241.0 C468.1,245.2 465.8,250.1 463.5,253.2 C461.2,256.4 457.4,258.3 454.4,260.1 C451.5,261.8 448.7,262.8 445.6,263.9 C442.5,265.1 439.1,267.2 435.8,266.9 C432.5,266.6 428.7,264.6 426.0,262.3 C423.2,260.0 420.9,256.4 419.3,252.8 C417.7,249.3 416.7,245.1 416.5,241.0 C416.2,236.9 416.2,231.9 417.8,228.4 C419.4,224.9 423.1,221.9 426.2,220.0 C429.3,218.2 433.0,217.5 436.2,217.2 C439.4,216.9 442.5,217.5 445.6,218.3 C448.7,219.0 451.6,219.8 454.8,221.5 C457.9,223.1 462.4,224.9 464.7,228.1 C466.9,231.4 468.5,236.8 468.3,241.0Z" fill="#fff"/><path d="M511.7,236.0 C511.9,239.1 511.4,242.9 510.3,245.7 C509.2,248.4 506.9,250.6 504.9,252.4 C503.0,254.2 500.8,256.0 498.6,256.5 C496.3,257.0 493.8,256.1 491.6,255.3 C489.5,254.5 487.1,253.5 485.5,251.7 C483.8,249.9 482.8,247.0 481.7,244.4 C480.6,241.8 479.3,239.1 478.8,236.0 C478.3,232.9 477.7,228.6 478.5,225.6 C479.4,222.6 481.9,219.7 484.1,218.1 C486.3,216.4 489.2,216.0 491.5,215.9 C493.9,215.9 496.1,217.0 498.1,218.0 C500.2,219.0 501.8,220.2 503.7,221.7 C505.5,223.2 508.0,224.6 509.3,227.0 C510.7,229.3 511.6,232.9 511.7,236.0Z" fill="#fff"/><path d="M528.6,225.0 C529.3,227.7 529.7,231.5 528.9,234.2 C528.1,236.9 525.9,239.6 523.9,241.0 C521.9,242.3 519.2,242.6 517.1,242.4 C515.0,242.2 513.2,240.5 511.4,239.8 C509.5,239.0 507.8,238.9 506.1,237.8 C504.4,236.7 502.2,235.1 501.2,232.9 C500.1,230.8 499.8,227.6 499.8,225.0 C499.8,222.4 500.5,219.6 501.4,217.2 C502.2,214.8 503.4,212.2 505.0,210.5 C506.6,208.9 508.8,207.8 510.9,207.3 C512.9,206.8 515.3,206.7 517.1,207.5 C518.9,208.4 520.5,210.6 521.8,212.4 C523.1,214.2 523.7,216.2 524.8,218.3 C526.0,220.4 528.0,222.3 528.6,225.0Z" fill="#fff"/><path d="M543.3,176.0 C542.2,178.7 539.4,181.0 537.4,182.9 C535.4,184.8 533.3,185.9 531.1,187.4 C529.0,188.9 527.2,190.7 524.5,192.0 C521.7,193.3 517.8,195.4 514.6,195.2 C511.5,195.0 507.9,192.8 505.5,190.9 C503.1,189.0 501.7,186.3 500.2,183.8 C498.8,181.3 496.7,178.6 496.7,176.0 C496.6,173.4 498.1,170.3 499.8,168.0 C501.5,165.8 504.3,163.8 506.9,162.6 C509.6,161.4 512.8,161.4 515.8,160.8 C518.7,160.2 521.6,158.9 524.8,158.9 C528.0,158.9 531.7,159.4 534.9,160.7 C538.0,162.0 542.3,164.1 543.7,166.7 C545.1,169.2 544.3,173.3 543.3,176.0Z" fill="#fff"/><path d="M541.2,142.0 C541.3,143.8 540.2,145.7 538.9,147.4 C537.6,149.0 535.7,150.7 533.4,151.9 C531.1,153.2 528.0,154.1 524.9,154.7 C521.8,155.3 518.0,156.0 514.7,155.7 C511.4,155.4 507.7,154.3 505.1,153.0 C502.6,151.7 500.3,149.7 499.4,147.9 C498.5,146.0 499.5,143.8 500.0,142.0 C500.5,140.2 501.4,138.7 502.4,137.0 C503.4,135.3 504.0,133.2 506.0,131.6 C508.0,130.1 511.3,128.5 514.5,127.9 C517.8,127.3 522.3,127.3 525.4,128.0 C528.6,128.7 531.4,130.5 533.5,132.0 C535.7,133.5 537.0,135.1 538.3,136.8 C539.6,138.5 541.1,140.2 541.2,142.0Z" fill="#fff"/><path d="M501.8,163.0 C501.6,164.7 501.4,166.2 500.8,167.8 C500.1,169.3 499.3,171.0 498.1,172.3 C496.8,173.7 495.1,175.3 493.2,175.9 C491.3,176.5 488.7,176.3 486.8,175.8 C484.9,175.2 482.9,173.9 481.8,172.5 C480.6,171.1 480.5,169.1 479.9,167.5 C479.4,165.9 478.8,164.7 478.4,163.0 C478.0,161.3 477.3,159.3 477.7,157.5 C478.2,155.8 479.4,153.6 480.9,152.5 C482.5,151.4 485.0,151.1 487.0,150.8 C489.0,150.6 491.1,150.6 493.0,151.0 C494.9,151.4 496.9,152.1 498.4,153.3 C499.9,154.4 501.4,156.0 502.0,157.7 C502.6,159.3 502.0,161.3 501.8,163.0Z" fill="#fff"/><path d="M507.1,122.0 C507.0,123.5 506.4,124.9 505.7,126.4 C505.1,127.9 504.5,129.6 503.1,131.0 C501.8,132.4 499.8,134.4 497.7,134.9 C495.6,135.4 492.4,134.9 490.5,134.0 C488.6,133.2 487.2,131.1 486.1,129.8 C485.0,128.4 484.5,127.2 483.7,125.9 C482.9,124.6 481.5,123.5 481.1,122.0 C480.7,120.5 480.5,118.6 481.2,117.1 C481.8,115.7 483.3,114.1 484.9,113.1 C486.5,112.0 488.7,111.1 490.7,110.8 C492.8,110.5 495.0,111.0 497.1,111.4 C499.2,111.7 501.8,111.9 503.3,112.9 C504.8,113.9 505.5,115.9 506.2,117.4 C506.8,118.9 507.2,120.5 507.1,122.0Z" fill="#fff"/><path d="M385.5,225.0 C385.9,227.5 386.5,231.0 385.9,233.3 C385.2,235.6 383.1,237.7 381.5,238.7 C379.9,239.7 377.8,239.4 376.2,239.3 C374.7,239.1 373.4,238.2 372.0,237.8 C370.6,237.3 369.2,237.3 367.8,236.3 C366.4,235.4 364.9,234.0 363.9,232.1 C362.8,230.2 361.6,227.4 361.6,225.0 C361.5,222.6 362.5,219.7 363.4,217.6 C364.3,215.5 365.7,213.6 367.0,212.3 C368.4,211.1 370.1,210.4 371.7,210.1 C373.2,209.8 374.8,209.9 376.3,210.5 C377.7,211.0 379.2,212.1 380.3,213.5 C381.5,214.8 382.4,216.6 383.3,218.5 C384.1,220.4 385.0,222.5 385.5,225.0Z" fill="#fff"/><path d="M444.9,276.0 C444.9,278.2 444.2,281.0 442.8,282.7 C441.4,284.3 438.6,285.2 436.7,286.1 C434.7,287.0 432.9,287.7 431.0,288.1 C429.0,288.5 427.0,288.7 424.9,288.5 C422.8,288.4 420.1,288.4 418.3,287.4 C416.5,286.3 415.3,284.1 414.2,282.2 C413.2,280.3 412.2,278.2 412.0,276.0 C411.8,273.8 411.9,271.2 412.9,269.2 C413.9,267.2 415.8,265.1 417.9,264.1 C419.9,263.2 422.8,263.6 425.0,263.6 C427.1,263.6 429.0,263.5 431.0,263.9 C432.9,264.3 434.7,264.9 436.7,265.8 C438.7,266.7 441.6,267.6 442.9,269.3 C444.3,271.0 444.9,273.8 444.9,276.0Z" fill="#fff"/><path d="M400.3,283.0 C400.0,284.6 398.3,286.3 397.0,287.7 C395.8,289.1 394.5,290.5 392.7,291.4 C391.0,292.3 388.5,292.7 386.3,293.0 C384.1,293.2 381.8,293.0 379.8,292.6 C377.8,292.2 376.1,291.4 374.1,290.7 C372.0,290.0 368.8,289.5 367.2,288.2 C365.7,286.9 364.8,284.8 364.7,283.0 C364.7,281.2 365.4,279.0 367.0,277.7 C368.5,276.4 371.8,275.8 373.9,275.2 C376.1,274.5 377.8,274.0 379.9,273.7 C382.0,273.3 384.0,273.0 386.3,273.0 C388.6,273.0 391.9,272.8 393.9,273.6 C395.9,274.4 397.3,276.3 398.4,277.9 C399.5,279.5 400.5,281.4 400.3,283.0Z" fill="#fff"/><path d="M368.2,283.0 C368.3,285.6 369.1,288.2 368.6,290.8 C368.2,293.4 367.2,296.5 365.6,298.8 C364.1,301.2 361.6,304.2 359.2,304.7 C356.8,305.3 353.6,303.3 351.3,302.0 C349.1,300.8 347.0,299.0 345.6,297.0 C344.1,295.1 343.6,292.5 342.6,290.1 C341.6,287.8 339.9,285.6 339.6,283.0 C339.2,280.4 339.7,277.3 340.5,274.7 C341.3,272.1 342.6,269.0 344.4,267.2 C346.2,265.4 348.9,264.4 351.3,263.7 C353.7,263.1 356.3,262.9 358.8,263.4 C361.2,264.0 364.2,264.9 365.8,266.9 C367.4,268.9 367.8,272.8 368.2,275.5 C368.6,278.2 368.1,280.4 368.2,283.0Z" fill="#fff"/><path d="M420.3,289.0 C419.7,291.3 416.5,293.6 414.6,295.3 C412.7,297.0 410.7,298.1 408.7,299.3 C406.8,300.5 405.1,301.7 402.7,302.7 C400.4,303.7 397.4,305.1 394.6,305.1 C391.8,305.2 388.3,304.3 385.9,302.9 C383.5,301.4 381.5,298.9 380.4,296.6 C379.3,294.2 379.1,291.4 379.3,289.0 C379.6,286.6 380.4,284.0 381.8,282.0 C383.2,280.1 385.7,278.5 387.9,277.3 C390.2,276.1 392.6,275.4 395.1,274.8 C397.7,274.2 400.3,273.8 403.1,273.9 C405.9,273.9 409.4,274.1 411.9,275.4 C414.4,276.6 416.7,279.0 418.1,281.2 C419.5,283.5 420.9,286.7 420.3,289.0Z" fill="#fff"/><path d="M539.3,262.0 C539.4,264.1 539.2,266.4 538.5,268.3 C537.9,270.3 536.8,272.4 535.5,273.8 C534.2,275.2 532.4,276.0 530.7,276.8 C528.9,277.5 526.8,278.7 525.0,278.4 C523.2,278.1 520.8,276.8 519.7,275.0 C518.6,273.2 518.8,269.9 518.4,267.8 C518.0,265.6 517.5,264.0 517.4,262.0 C517.3,260.0 517.1,257.8 517.6,255.7 C518.0,253.7 518.9,251.4 520.2,249.7 C521.4,248.1 523.3,246.3 525.1,245.9 C526.8,245.5 529.1,246.4 530.7,247.3 C532.3,248.2 533.6,249.9 534.8,251.3 C536.0,252.8 537.4,254.1 538.1,255.9 C538.9,257.7 539.2,259.9 539.3,262.0Z" fill="#fff"/><path d="M535.8,382.0 C536.2,384.1 535.8,387.2 534.5,388.9 C533.1,390.7 530.0,392.0 527.8,392.7 C525.5,393.5 523.2,393.3 521.0,393.5 C518.8,393.7 517.0,394.2 514.8,394.1 C512.7,394.0 510.2,393.9 508.0,393.0 C505.8,392.1 502.9,390.7 501.6,388.9 C500.3,387.1 499.7,384.1 500.1,382.0 C500.5,379.9 503.0,378.0 504.3,376.2 C505.6,374.4 506.3,372.3 508.0,371.1 C509.7,369.8 512.3,369.1 514.5,368.7 C516.8,368.2 519.4,367.9 521.5,368.5 C523.6,369.0 525.3,370.8 527.0,372.1 C528.8,373.3 530.6,374.4 532.0,376.1 C533.5,377.7 535.4,379.9 535.8,382.0Z" fill="#fff"/><path d="M312.5,272.0 C312.7,274.0 313.6,276.2 313.4,278.3 C313.1,280.4 312.5,283.5 311.3,284.8 C310.1,286.2 307.9,286.5 306.3,286.4 C304.8,286.3 303.3,285.1 302.0,284.3 C300.7,283.5 299.7,282.6 298.5,281.6 C297.4,280.5 296.0,279.5 295.3,277.9 C294.6,276.3 294.3,274.0 294.2,272.0 C294.1,270.0 294.2,267.6 294.8,265.8 C295.4,264.0 296.7,262.5 297.9,261.2 C299.0,260.0 300.3,258.7 301.7,258.2 C303.2,257.6 304.9,257.4 306.3,258.0 C307.7,258.5 309.0,260.1 309.9,261.6 C310.9,263.0 311.8,264.7 312.2,266.5 C312.7,268.2 312.4,270.0 312.5,272.0Z" fill="#fff"/><path d="M340.3,262.0 C340.3,263.9 339.4,266.0 338.5,267.5 C337.7,269.0 336.5,270.3 335.3,270.9 C334.2,271.6 332.8,271.0 331.6,271.3 C330.4,271.6 329.5,272.5 328.2,272.7 C326.9,272.9 325.0,273.2 323.8,272.4 C322.5,271.6 321.3,269.6 320.8,267.9 C320.3,266.2 320.6,263.9 320.8,262.0 C320.9,260.1 321.2,258.3 321.9,256.8 C322.5,255.3 323.5,253.9 324.6,252.9 C325.6,251.9 326.8,250.9 328.1,250.6 C329.3,250.4 330.6,251.0 331.8,251.4 C333.0,251.9 334.0,252.5 335.2,253.3 C336.4,254.2 338.0,254.9 338.8,256.3 C339.7,257.8 340.4,260.1 340.3,262.0Z" fill="#fff"/><path d="M264.0,563.0 C263.7,565.3 264.1,567.5 263.2,569.6 C262.4,571.8 260.9,574.0 259.0,575.8 C257.0,577.5 254.4,579.2 251.6,580.1 C248.8,581.0 245.1,581.5 242.2,581.0 C239.2,580.5 236.0,578.8 233.8,577.1 C231.5,575.3 229.7,572.8 228.7,570.5 C227.7,568.1 227.6,565.4 227.9,563.0 C228.2,560.6 229.2,558.2 230.7,556.3 C232.1,554.4 234.4,553.4 236.4,551.7 C238.3,549.9 239.8,547.0 242.4,545.9 C245.0,544.8 248.7,544.8 251.8,545.2 C254.8,545.6 258.6,546.6 260.7,548.4 C262.9,550.1 264.3,553.3 264.8,555.7 C265.3,558.2 264.2,560.7 264.0,563.0Z" fill="#fff"/><path d="M328.7,575.0 C329.5,577.7 331.5,581.2 330.7,584.0 C329.9,586.9 327.1,590.7 323.6,592.3 C320.2,593.9 314.2,593.9 310.1,593.7 C305.9,593.6 302.3,592.2 298.7,591.3 C295.2,590.4 291.7,589.8 288.8,588.4 C286.0,586.9 284.2,584.8 281.7,582.5 C279.3,580.3 274.7,577.7 274.2,575.0 C273.6,572.3 276.3,568.8 278.5,566.3 C280.6,563.8 283.7,561.6 287.0,560.0 C290.3,558.4 294.3,557.1 298.0,556.6 C301.8,556.2 306.0,556.7 309.8,557.3 C313.5,557.9 318.1,558.5 320.8,560.2 C323.4,561.9 324.3,565.2 325.6,567.7 C326.9,570.1 327.8,572.3 328.7,575.0Z" fill="#fff"/><path d="M235.6,590.0 C235.2,591.8 234.7,593.2 234.2,594.8 C233.6,596.4 233.2,598.2 232.2,599.8 C231.2,601.4 229.8,603.8 228.1,604.5 C226.4,605.2 223.8,604.7 222.1,604.0 C220.3,603.3 218.6,601.8 217.4,600.4 C216.1,598.9 215.4,597.0 214.8,595.3 C214.2,593.6 214.0,591.8 213.9,590.0 C213.8,588.2 213.4,585.8 214.1,584.3 C214.8,582.8 216.9,582.0 218.2,580.8 C219.6,579.6 220.7,578.0 222.3,577.2 C223.9,576.4 226.0,576.0 227.9,576.1 C229.8,576.3 232.3,576.9 233.7,578.2 C235.0,579.6 235.9,582.2 236.2,584.2 C236.5,586.1 235.9,588.2 235.6,590.0Z" fill="#fff"/><path d="M222.2,613.0 C222.3,614.8 221.6,617.1 220.2,618.5 C218.9,619.9 216.3,621.0 214.2,621.7 C212.1,622.3 210.0,622.1 207.9,622.5 C205.8,623.0 203.9,624.1 201.6,624.3 C199.2,624.5 196.0,624.4 193.9,623.5 C191.8,622.6 189.8,620.6 188.8,618.9 C187.8,617.1 187.6,614.8 188.1,613.0 C188.5,611.2 190.4,609.6 191.7,608.2 C193.0,606.8 194.4,605.7 196.0,604.5 C197.6,603.4 199.4,602.2 201.5,601.5 C203.6,600.9 206.4,600.5 208.7,600.7 C211.1,601.0 213.7,601.9 215.5,603.1 C217.3,604.3 218.4,606.1 219.5,607.8 C220.6,609.4 222.1,611.2 222.2,613.0Z" fill="#fff"/><path d="M271.3,617.0 C270.8,619.0 268.3,620.9 266.5,622.5 C264.7,624.1 263.0,625.7 260.7,626.8 C258.3,627.9 255.3,628.7 252.5,629.1 C249.6,629.5 246.3,629.6 243.5,629.2 C240.7,628.8 238.0,627.8 235.5,626.7 C233.0,625.6 230.2,624.5 228.3,622.9 C226.5,621.2 224.7,619.0 224.5,617.0 C224.3,615.0 225.4,612.5 227.1,610.8 C228.9,609.1 232.2,607.7 235.0,606.9 C237.8,606.1 241.0,606.2 243.9,605.9 C246.8,605.6 249.5,605.0 252.4,605.1 C255.3,605.2 258.5,605.7 261.4,606.6 C264.3,607.5 268.1,608.8 269.8,610.5 C271.4,612.2 271.9,615.0 271.3,617.0Z" fill="#fff"/><path d="M118.7,574.0 C118.2,576.6 119.2,579.0 118.2,581.3 C117.2,583.6 115.1,586.1 112.6,587.7 C110.1,589.4 106.6,590.8 103.3,591.4 C100.0,592.0 96.3,591.6 92.7,591.3 C89.2,590.9 84.9,590.7 81.8,589.2 C78.7,587.8 75.6,585.2 74.1,582.6 C72.7,580.1 72.2,576.6 73.0,574.0 C73.9,571.4 77.0,569.1 79.1,567.2 C81.2,565.2 83.3,564.0 85.6,562.3 C87.9,560.7 89.8,558.5 92.9,557.1 C95.9,555.7 100.4,553.9 104.1,554.0 C107.7,554.2 112.0,556.3 114.7,558.3 C117.5,560.2 120.1,563.2 120.7,565.8 C121.4,568.4 119.1,571.4 118.7,574.0Z" fill="#fff"/><path d="M464.1,545.0 C464.1,547.5 462.4,550.6 460.7,552.6 C459.1,554.5 456.4,555.5 454.3,556.6 C452.2,557.8 450.5,558.6 448.3,559.5 C446.1,560.4 443.6,562.0 441.1,562.1 C438.6,562.1 435.5,561.2 433.2,559.7 C431.0,558.3 428.5,555.8 427.7,553.3 C426.9,550.9 427.8,547.5 428.3,545.0 C428.8,542.5 429.6,540.2 430.8,538.2 C432.0,536.2 433.7,534.5 435.4,533.0 C437.2,531.5 439.2,530.0 441.4,529.2 C443.6,528.5 446.3,528.3 448.7,528.7 C451.1,529.0 453.9,529.9 455.9,531.3 C457.9,532.8 459.5,535.1 460.9,537.3 C462.3,539.6 464.2,542.5 464.1,545.0Z" fill="#fff"/><path d="M440.9,562.0 C441.1,563.7 441.7,565.8 441.0,567.3 C440.3,568.8 438.3,570.2 436.6,571.2 C435.0,572.1 432.8,572.8 430.9,572.8 C429.1,572.9 427.2,571.9 425.5,571.4 C423.8,570.9 422.3,570.5 420.7,569.8 C419.1,569.0 416.9,568.3 415.6,567.0 C414.4,565.7 413.1,563.7 413.0,562.0 C412.8,560.3 413.5,558.0 414.7,556.6 C415.8,555.1 418.1,554.2 419.9,553.4 C421.7,552.6 423.5,552.2 425.3,552.0 C427.1,551.8 428.9,551.9 430.7,552.1 C432.4,552.4 434.5,552.6 436.0,553.5 C437.5,554.3 438.8,555.8 439.6,557.3 C440.4,558.7 440.6,560.3 440.9,562.0Z" fill="#fff"/><path d="M473.7,527.0 C473.9,528.8 474.3,530.9 473.7,532.6 C473.0,534.4 471.6,536.4 470.0,537.4 C468.4,538.4 465.8,538.8 463.9,538.7 C462.0,538.6 460.3,537.4 458.5,536.9 C456.8,536.4 455.3,536.3 453.6,535.6 C451.9,534.9 449.4,534.1 448.2,532.7 C446.9,531.3 446.1,528.9 446.2,527.0 C446.3,525.1 447.4,523.0 448.6,521.5 C449.7,520.0 451.5,518.8 453.2,517.9 C454.8,517.1 456.6,516.7 458.4,516.3 C460.1,515.9 462.1,515.2 463.8,515.5 C465.6,515.8 467.3,517.0 468.8,518.0 C470.2,519.1 471.8,520.3 472.6,521.8 C473.4,523.3 473.6,525.2 473.7,527.0Z" fill="#fff"/><path d="M75.0,611.0 C75.2,612.5 74.1,614.5 72.9,615.8 C71.7,617.0 69.5,618.0 67.8,618.5 C66.0,619.0 64.1,618.8 62.4,618.9 C60.6,619.1 59.2,619.6 57.5,619.6 C55.7,619.5 53.9,619.3 52.0,618.7 C50.2,618.1 47.5,617.3 46.4,616.0 C45.4,614.7 45.7,612.6 45.9,611.0 C46.1,609.4 46.7,607.7 47.8,606.5 C48.9,605.3 50.9,604.5 52.4,603.7 C54.0,602.9 55.4,601.8 57.2,601.5 C58.9,601.1 61.1,601.2 62.8,601.6 C64.5,602.0 65.9,603.0 67.4,603.9 C68.9,604.7 70.6,605.4 71.9,606.6 C73.1,607.8 74.8,609.5 75.0,611.0Z" fill="#fff"/><path d="M535.3,293.0 C535.3,294.4 535.1,296.0 534.4,297.2 C533.6,298.3 531.9,299.0 530.6,299.9 C529.3,300.8 528.2,302.0 526.6,302.6 C525.1,303.2 523.1,303.4 521.2,303.4 C519.2,303.3 516.5,303.3 515.1,302.3 C513.6,301.3 512.7,299.2 512.5,297.6 C512.2,296.1 513.0,294.4 513.4,293.0 C513.8,291.6 514.2,290.5 514.8,289.3 C515.4,288.1 515.9,286.8 517.0,285.7 C518.1,284.6 519.5,283.3 521.2,282.7 C522.8,282.1 525.2,281.8 527.0,282.1 C528.8,282.5 530.7,283.6 531.9,284.7 C533.1,285.9 533.8,287.5 534.4,288.8 C535.0,290.2 535.3,291.6 535.3,293.0Z" fill="#fff"/><path d="M289.2,612.0 C289.3,613.8 288.6,616.1 287.8,617.6 C286.9,619.2 285.4,620.3 284.1,621.1 C282.8,621.9 281.3,622.1 280.0,622.3 C278.6,622.5 277.4,622.5 276.0,622.4 C274.6,622.3 273.0,622.4 271.6,621.6 C270.2,620.9 268.5,619.5 267.7,617.9 C267.0,616.3 266.9,613.8 267.1,612.0 C267.4,610.2 268.4,608.5 269.1,606.9 C269.8,605.2 270.4,603.3 271.6,602.3 C272.7,601.3 274.5,601.2 275.9,601.0 C277.3,600.7 278.8,600.6 280.1,600.9 C281.4,601.3 282.8,602.0 284.0,603.0 C285.2,604.0 286.3,605.2 287.2,606.7 C288.0,608.2 289.1,610.2 289.2,612.0Z" fill="#fff"/><path d="M329.4,545.0 C329.6,546.7 329.5,548.5 329.1,550.3 C328.7,552.1 328.3,554.6 327.2,555.8 C326.0,557.0 323.9,557.3 322.4,557.4 C320.8,557.4 319.2,556.7 317.9,555.9 C316.7,555.1 315.9,553.8 314.8,552.8 C313.7,551.8 312.4,551.2 311.5,549.9 C310.7,548.6 309.9,546.8 309.7,545.0 C309.5,543.2 309.5,540.9 310.1,539.3 C310.8,537.7 312.4,536.5 313.6,535.4 C314.9,534.3 316.2,533.1 317.7,532.7 C319.1,532.3 320.9,532.3 322.3,532.9 C323.7,533.4 325.1,534.5 326.1,535.8 C327.2,537.0 327.9,538.6 328.4,540.1 C329.0,541.7 329.3,543.3 329.4,545.0Z" fill="#fff"/><path d="M199.3,586.0 C199.0,587.4 198.2,588.4 197.7,589.7 C197.1,591.0 197.0,592.6 196.1,593.7 C195.2,594.8 193.7,595.6 192.3,596.1 C190.9,596.6 189.0,597.0 187.6,596.7 C186.1,596.4 184.7,595.2 183.5,594.1 C182.4,593.1 181.3,591.8 180.7,590.5 C180.1,589.1 179.9,587.5 179.9,586.0 C180.0,584.5 180.3,582.8 181.1,581.7 C181.9,580.6 183.5,580.0 184.6,579.2 C185.7,578.4 186.6,577.5 187.9,576.9 C189.2,576.3 190.8,575.6 192.4,575.6 C193.9,575.6 196.2,575.8 197.3,576.8 C198.5,577.8 198.9,580.0 199.3,581.5 C199.6,583.1 199.5,584.6 199.3,586.0Z" fill="#fff"/><path d="M365.2,612.0 C365.2,613.5 364.3,615.2 363.4,616.6 C362.5,617.9 361.1,619.1 359.7,620.0 C358.2,620.9 356.4,621.7 354.7,621.8 C353.0,622.0 351.1,621.4 349.5,621.0 C348.0,620.5 346.6,619.8 345.3,619.0 C344.0,618.2 342.9,617.3 341.8,616.1 C340.7,614.9 339.0,613.5 338.7,612.0 C338.4,610.5 338.9,608.4 339.8,607.1 C340.8,605.8 343.0,604.9 344.6,604.3 C346.2,603.6 348.0,603.2 349.6,603.2 C351.2,603.2 352.5,603.9 354.2,604.0 C355.9,604.2 358.1,603.5 359.6,604.0 C361.2,604.6 362.5,606.1 363.5,607.4 C364.4,608.7 365.3,610.5 365.2,612.0Z" fill="#fff"/></mask>
<path d="M462.0,171.0 C462.1,174.4 459.6,178.7 457.1,181.2 C454.5,183.7 450.0,184.7 446.8,186.2 C443.6,187.8 441.3,189.4 438.0,190.5 C434.8,191.5 431.0,192.8 427.4,192.6 C423.8,192.5 419.5,191.3 416.2,189.5 C413.0,187.6 409.4,184.7 408.0,181.6 C406.6,178.5 407.4,174.3 407.9,171.0 C408.3,167.7 409.2,164.6 410.7,161.6 C412.2,158.6 413.9,155.0 416.7,153.0 C419.5,151.1 423.9,150.1 427.5,149.8 C431.1,149.5 434.7,150.5 438.1,151.3 C441.6,152.0 445.1,152.6 448.2,154.2 C451.3,155.8 454.5,158.1 456.8,160.9 C459.0,163.7 461.9,167.6 462.0,171.0Z" fill="#efcdee" stroke="#b97fd0" stroke-width="3" filter="url(#b0_6)"/>
<path d="M486.6,126.3 C485.8,129.1 482.5,131.8 480.2,134.0 C477.8,136.2 474.9,137.5 472.3,139.5 C469.6,141.6 467.8,144.9 464.2,146.4 C460.6,147.9 455.2,148.3 450.7,148.4 C446.2,148.4 440.6,148.0 437.2,146.5 C433.7,145.0 431.3,141.9 429.9,139.4 C428.5,136.8 428.9,134.0 428.7,131.4 C428.6,128.7 427.4,125.8 428.8,123.4 C430.2,121.0 433.9,118.5 437.3,116.9 C440.6,115.3 445.0,115.0 448.9,114.0 C452.9,113.0 456.6,111.3 460.9,110.9 C465.2,110.5 470.6,110.6 474.6,111.7 C478.6,112.8 482.9,115.1 484.9,117.5 C486.9,120.0 487.4,123.6 486.6,126.3Z" fill="#efcdee" stroke="#b97fd0" stroke-width="3" filter="url(#b0_6)"/>
<path d="M430.9,210.0 C431.4,212.4 431.8,215.4 430.8,217.7 C429.9,220.0 427.6,222.3 425.3,223.8 C423.1,225.4 420.1,226.3 417.3,227.0 C414.5,227.6 411.3,228.0 408.5,227.6 C405.7,227.1 402.3,226.0 400.4,224.2 C398.5,222.4 397.9,219.2 397.2,216.8 C396.4,214.5 395.9,212.3 395.9,210.0 C395.8,207.7 396.3,205.5 397.1,203.1 C397.8,200.8 398.5,197.9 400.3,195.8 C402.2,193.7 405.1,191.1 408.0,190.5 C410.9,189.8 415.0,190.6 417.7,191.7 C420.4,192.9 422.4,195.5 424.1,197.5 C425.9,199.5 426.8,201.5 427.9,203.6 C429.0,205.7 430.4,207.6 430.9,210.0Z" fill="#efcdee" stroke="#b97fd0" stroke-width="3" filter="url(#b0_6)"/>
<path d="M468.3,241.0 C468.1,245.2 465.8,250.1 463.5,253.2 C461.2,256.4 457.4,258.3 454.4,260.1 C451.5,261.8 448.7,262.8 445.6,263.9 C442.5,265.1 439.1,267.2 435.8,266.9 C432.5,266.6 428.7,264.6 426.0,262.3 C423.2,260.0 420.9,256.4 419.3,252.8 C417.7,249.3 416.7,245.1 416.5,241.0 C416.2,236.9 416.2,231.9 417.8,228.4 C419.4,224.9 423.1,221.9 426.2,220.0 C429.3,218.2 433.0,217.5 436.2,217.2 C439.4,216.9 442.5,217.5 445.6,218.3 C448.7,219.0 451.6,219.8 454.8,221.5 C457.9,223.1 462.4,224.9 464.7,228.1 C466.9,231.4 468.5,236.8 468.3,241.0Z" fill="#efcdee" stroke="#b97fd0" stroke-width="3" filter="url(#b0_6)"/>
<path d="M511.7,236.0 C511.9,239.1 511.4,242.9 510.3,245.7 C509.2,248.4 506.9,250.6 504.9,252.4 C503.0,254.2 500.8,256.0 498.6,256.5 C496.3,257.0 493.8,256.1 491.6,255.3 C489.5,254.5 487.1,253.5 485.5,251.7 C483.8,249.9 482.8,247.0 481.7,244.4 C480.6,241.8 479.3,239.1 478.8,236.0 C478.3,232.9 477.7,228.6 478.5,225.6 C479.4,222.6 481.9,219.7 484.1,218.1 C486.3,216.4 489.2,216.0 491.5,215.9 C493.9,215.9 496.1,217.0 498.1,218.0 C500.2,219.0 501.8,220.2 503.7,221.7 C505.5,223.2 508.0,224.6 509.3,227.0 C510.7,229.3 511.6,232.9 511.7,236.0Z" fill="#efcdee" stroke="#b97fd0" stroke-width="3" filter="url(#b0_6)"/>
<path d="M528.6,225.0 C529.3,227.7 529.7,231.5 528.9,234.2 C528.1,236.9 525.9,239.6 523.9,241.0 C521.9,242.3 519.2,242.6 517.1,242.4 C515.0,242.2 513.2,240.5 511.4,239.8 C509.5,239.0 507.8,238.9 506.1,237.8 C504.4,236.7 502.2,235.1 501.2,232.9 C500.1,230.8 499.8,227.6 499.8,225.0 C499.8,222.4 500.5,219.6 501.4,217.2 C502.2,214.8 503.4,212.2 505.0,210.5 C506.6,208.9 508.8,207.8 510.9,207.3 C512.9,206.8 515.3,206.7 517.1,207.5 C518.9,208.4 520.5,210.6 521.8,212.4 C523.1,214.2 523.7,216.2 524.8,218.3 C526.0,220.4 528.0,222.3 528.6,225.0Z" fill="#efcdee" stroke="#b97fd0" stroke-width="3" filter="url(#b0_6)"/>
<path d="M543.3,176.0 C542.2,178.7 539.4,181.0 537.4,182.9 C535.4,184.8 533.3,185.9 531.1,187.4 C529.0,188.9 527.2,190.7 524.5,192.0 C521.7,193.3 517.8,195.4 514.6,195.2 C511.5,195.0 507.9,192.8 505.5,190.9 C503.1,189.0 501.7,186.3 500.2,183.8 C498.8,181.3 496.7,178.6 496.7,176.0 C496.6,173.4 498.1,170.3 499.8,168.0 C501.5,165.8 504.3,163.8 506.9,162.6 C509.6,161.4 512.8,161.4 515.8,160.8 C518.7,160.2 521.6,158.9 524.8,158.9 C528.0,158.9 531.7,159.4 534.9,160.7 C538.0,162.0 542.3,164.1 543.7,166.7 C545.1,169.2 544.3,173.3 543.3,176.0Z" fill="#efcdee" stroke="#b97fd0" stroke-width="3" filter="url(#b0_6)"/>
<path d="M541.2,142.0 C541.3,143.8 540.2,145.7 538.9,147.4 C537.6,149.0 535.7,150.7 533.4,151.9 C531.1,153.2 528.0,154.1 524.9,154.7 C521.8,155.3 518.0,156.0 514.7,155.7 C511.4,155.4 507.7,154.3 505.1,153.0 C502.6,151.7 500.3,149.7 499.4,147.9 C498.5,146.0 499.5,143.8 500.0,142.0 C500.5,140.2 501.4,138.7 502.4,137.0 C503.4,135.3 504.0,133.2 506.0,131.6 C508.0,130.1 511.3,128.5 514.5,127.9 C517.8,127.3 522.3,127.3 525.4,128.0 C528.6,128.7 531.4,130.5 533.5,132.0 C535.7,133.5 537.0,135.1 538.3,136.8 C539.6,138.5 541.1,140.2 541.2,142.0Z" fill="#efcdee" stroke="#b97fd0" stroke-width="3" filter="url(#b0_6)"/>
<path d="M501.8,163.0 C501.6,164.7 501.4,166.2 500.8,167.8 C500.1,169.3 499.3,171.0 498.1,172.3 C496.8,173.7 495.1,175.3 493.2,175.9 C491.3,176.5 488.7,176.3 486.8,175.8 C484.9,175.2 482.9,173.9 481.8,172.5 C480.6,171.1 480.5,169.1 479.9,167.5 C479.4,165.9 478.8,164.7 478.4,163.0 C478.0,161.3 477.3,159.3 477.7,157.5 C478.2,155.8 479.4,153.6 480.9,152.5 C482.5,151.4 485.0,151.1 487.0,150.8 C489.0,150.6 491.1,150.6 493.0,151.0 C494.9,151.4 496.9,152.1 498.4,153.3 C499.9,154.4 501.4,156.0 502.0,157.7 C502.6,159.3 502.0,161.3 501.8,163.0Z" fill="#efcdee" stroke="#b97fd0" stroke-width="3" filter="url(#b0_6)"/>
<path d="M507.1,122.0 C507.0,123.5 506.4,124.9 505.7,126.4 C505.1,127.9 504.5,129.6 503.1,131.0 C501.8,132.4 499.8,134.4 497.7,134.9 C495.6,135.4 492.4,134.9 490.5,134.0 C488.6,133.2 487.2,131.1 486.1,129.8 C485.0,128.4 484.5,127.2 483.7,125.9 C482.9,124.6 481.5,123.5 481.1,122.0 C480.7,120.5 480.5,118.6 481.2,117.1 C481.8,115.7 483.3,114.1 484.9,113.1 C486.5,112.0 488.7,111.1 490.7,110.8 C492.8,110.5 495.0,111.0 497.1,111.4 C499.2,111.7 501.8,111.9 503.3,112.9 C504.8,113.9 505.5,115.9 506.2,117.4 C506.8,118.9 507.2,120.5 507.1,122.0Z" fill="#efcdee" stroke="#b97fd0" stroke-width="3" filter="url(#b0_6)"/>
<path d="M385.5,225.0 C385.9,227.5 386.5,231.0 385.9,233.3 C385.2,235.6 383.1,237.7 381.5,238.7 C379.9,239.7 377.8,239.4 376.2,239.3 C374.7,239.1 373.4,238.2 372.0,237.8 C370.6,237.3 369.2,237.3 367.8,236.3 C366.4,235.4 364.9,234.0 363.9,232.1 C362.8,230.2 361.6,227.4 361.6,225.0 C361.5,222.6 362.5,219.7 363.4,217.6 C364.3,215.5 365.7,213.6 367.0,212.3 C368.4,211.1 370.1,210.4 371.7,210.1 C373.2,209.8 374.8,209.9 376.3,210.5 C377.7,211.0 379.2,212.1 380.3,213.5 C381.5,214.8 382.4,216.6 383.3,218.5 C384.1,220.4 385.0,222.5 385.5,225.0Z" fill="#efcdee" stroke="#b97fd0" stroke-width="3" filter="url(#b0_6)"/>
<path d="M444.9,276.0 C444.9,278.2 444.2,281.0 442.8,282.7 C441.4,284.3 438.6,285.2 436.7,286.1 C434.7,287.0 432.9,287.7 431.0,288.1 C429.0,288.5 427.0,288.7 424.9,288.5 C422.8,288.4 420.1,288.4 418.3,287.4 C416.5,286.3 415.3,284.1 414.2,282.2 C413.2,280.3 412.2,278.2 412.0,276.0 C411.8,273.8 411.9,271.2 412.9,269.2 C413.9,267.2 415.8,265.1 417.9,264.1 C419.9,263.2 422.8,263.6 425.0,263.6 C427.1,263.6 429.0,263.5 431.0,263.9 C432.9,264.3 434.7,264.9 436.7,265.8 C438.7,266.7 441.6,267.6 442.9,269.3 C444.3,271.0 444.9,273.8 444.9,276.0Z" fill="#efcdee" stroke="#b97fd0" stroke-width="3" filter="url(#b0_6)"/>
<path d="M400.3,283.0 C400.0,284.6 398.3,286.3 397.0,287.7 C395.8,289.1 394.5,290.5 392.7,291.4 C391.0,292.3 388.5,292.7 386.3,293.0 C384.1,293.2 381.8,293.0 379.8,292.6 C377.8,292.2 376.1,291.4 374.1,290.7 C372.0,290.0 368.8,289.5 367.2,288.2 C365.7,286.9 364.8,284.8 364.7,283.0 C364.7,281.2 365.4,279.0 367.0,277.7 C368.5,276.4 371.8,275.8 373.9,275.2 C376.1,274.5 377.8,274.0 379.9,273.7 C382.0,273.3 384.0,273.0 386.3,273.0 C388.6,273.0 391.9,272.8 393.9,273.6 C395.9,274.4 397.3,276.3 398.4,277.9 C399.5,279.5 400.5,281.4 400.3,283.0Z" fill="#efcdee" stroke="#b97fd0" stroke-width="3" filter="url(#b0_6)"/>
<path d="M368.2,283.0 C368.3,285.6 369.1,288.2 368.6,290.8 C368.2,293.4 367.2,296.5 365.6,298.8 C364.1,301.2 361.6,304.2 359.2,304.7 C356.8,305.3 353.6,303.3 351.3,302.0 C349.1,300.8 347.0,299.0 345.6,297.0 C344.1,295.1 343.6,292.5 342.6,290.1 C341.6,287.8 339.9,285.6 339.6,283.0 C339.2,280.4 339.7,277.3 340.5,274.7 C341.3,272.1 342.6,269.0 344.4,267.2 C346.2,265.4 348.9,264.4 351.3,263.7 C353.7,263.1 356.3,262.9 358.8,263.4 C361.2,264.0 364.2,264.9 365.8,266.9 C367.4,268.9 367.8,272.8 368.2,275.5 C368.6,278.2 368.1,280.4 368.2,283.0Z" fill="#efcdee" stroke="#b97fd0" stroke-width="3" filter="url(#b0_6)"/>
<path d="M420.3,289.0 C419.7,291.3 416.5,293.6 414.6,295.3 C412.7,297.0 410.7,298.1 408.7,299.3 C406.8,300.5 405.1,301.7 402.7,302.7 C400.4,303.7 397.4,305.1 394.6,305.1 C391.8,305.2 388.3,304.3 385.9,302.9 C383.5,301.4 381.5,298.9 380.4,296.6 C379.3,294.2 379.1,291.4 379.3,289.0 C379.6,286.6 380.4,284.0 381.8,282.0 C383.2,280.1 385.7,278.5 387.9,277.3 C390.2,276.1 392.6,275.4 395.1,274.8 C397.7,274.2 400.3,273.8 403.1,273.9 C405.9,273.9 409.4,274.1 411.9,275.4 C414.4,276.6 416.7,279.0 418.1,281.2 C419.5,283.5 420.9,286.7 420.3,289.0Z" fill="#efcdee" stroke="#b97fd0" stroke-width="3" filter="url(#b0_6)"/>
<path d="M539.3,262.0 C539.4,264.1 539.2,266.4 538.5,268.3 C537.9,270.3 536.8,272.4 535.5,273.8 C534.2,275.2 532.4,276.0 530.7,276.8 C528.9,277.5 526.8,278.7 525.0,278.4 C523.2,278.1 520.8,276.8 519.7,275.0 C518.6,273.2 518.8,269.9 518.4,267.8 C518.0,265.6 517.5,264.0 517.4,262.0 C517.3,260.0 517.1,257.8 517.6,255.7 C518.0,253.7 518.9,251.4 520.2,249.7 C521.4,248.1 523.3,246.3 525.1,245.9 C526.8,245.5 529.1,246.4 530.7,247.3 C532.3,248.2 533.6,249.9 534.8,251.3 C536.0,252.8 537.4,254.1 538.1,255.9 C538.9,257.7 539.2,259.9 539.3,262.0Z" fill="#efcdee" stroke="#b97fd0" stroke-width="3" filter="url(#b0_6)"/>
<path d="M535.8,382.0 C536.2,384.1 535.8,387.2 534.5,388.9 C533.1,390.7 530.0,392.0 527.8,392.7 C525.5,393.5 523.2,393.3 521.0,393.5 C518.8,393.7 517.0,394.2 514.8,394.1 C512.7,394.0 510.2,393.9 508.0,393.0 C505.8,392.1 502.9,390.7 501.6,388.9 C500.3,387.1 499.7,384.1 500.1,382.0 C500.5,379.9 503.0,378.0 504.3,376.2 C505.6,374.4 506.3,372.3 508.0,371.1 C509.7,369.8 512.3,369.1 514.5,368.7 C516.8,368.2 519.4,367.9 521.5,368.5 C523.6,369.0 525.3,370.8 527.0,372.1 C528.8,373.3 530.6,374.4 532.0,376.1 C533.5,377.7 535.4,379.9 535.8,382.0Z" fill="#efcdee" stroke="#b97fd0" stroke-width="3" filter="url(#b0_6)"/>
<path d="M312.5,272.0 C312.7,274.0 313.6,276.2 313.4,278.3 C313.1,280.4 312.5,283.5 311.3,284.8 C310.1,286.2 307.9,286.5 306.3,286.4 C304.8,286.3 303.3,285.1 302.0,284.3 C300.7,283.5 299.7,282.6 298.5,281.6 C297.4,280.5 296.0,279.5 295.3,277.9 C294.6,276.3 294.3,274.0 294.2,272.0 C294.1,270.0 294.2,267.6 294.8,265.8 C295.4,264.0 296.7,262.5 297.9,261.2 C299.0,260.0 300.3,258.7 301.7,258.2 C303.2,257.6 304.9,257.4 306.3,258.0 C307.7,258.5 309.0,260.1 309.9,261.6 C310.9,263.0 311.8,264.7 312.2,266.5 C312.7,268.2 312.4,270.0 312.5,272.0Z" fill="#efcdee" stroke="#b97fd0" stroke-width="3" filter="url(#b0_6)"/>
<path d="M340.3,262.0 C340.3,263.9 339.4,266.0 338.5,267.5 C337.7,269.0 336.5,270.3 335.3,270.9 C334.2,271.6 332.8,271.0 331.6,271.3 C330.4,271.6 329.5,272.5 328.2,272.7 C326.9,272.9 325.0,273.2 323.8,272.4 C322.5,271.6 321.3,269.6 320.8,267.9 C320.3,266.2 320.6,263.9 320.8,262.0 C320.9,260.1 321.2,258.3 321.9,256.8 C322.5,255.3 323.5,253.9 324.6,252.9 C325.6,251.9 326.8,250.9 328.1,250.6 C329.3,250.4 330.6,251.0 331.8,251.4 C333.0,251.9 334.0,252.5 335.2,253.3 C336.4,254.2 338.0,254.9 338.8,256.3 C339.7,257.8 340.4,260.1 340.3,262.0Z" fill="#efcdee" stroke="#b97fd0" stroke-width="3" filter="url(#b0_6)"/>
<path d="M264.0,563.0 C263.7,565.3 264.1,567.5 263.2,569.6 C262.4,571.8 260.9,574.0 259.0,575.8 C257.0,577.5 254.4,579.2 251.6,580.1 C248.8,581.0 245.1,581.5 242.2,581.0 C239.2,580.5 236.0,578.8 233.8,577.1 C231.5,575.3 229.7,572.8 228.7,570.5 C227.7,568.1 227.6,565.4 227.9,563.0 C228.2,560.6 229.2,558.2 230.7,556.3 C232.1,554.4 234.4,553.4 236.4,551.7 C238.3,549.9 239.8,547.0 242.4,545.9 C245.0,544.8 248.7,544.8 251.8,545.2 C254.8,545.6 258.6,546.6 260.7,548.4 C262.9,550.1 264.3,553.3 264.8,555.7 C265.3,558.2 264.2,560.7 264.0,563.0Z" fill="#efcdee" stroke="#b97fd0" stroke-width="3" filter="url(#b0_6)"/>
<path d="M328.7,575.0 C329.5,577.7 331.5,581.2 330.7,584.0 C329.9,586.9 327.1,590.7 323.6,592.3 C320.2,593.9 314.2,593.9 310.1,593.7 C305.9,593.6 302.3,592.2 298.7,591.3 C295.2,590.4 291.7,589.8 288.8,588.4 C286.0,586.9 284.2,584.8 281.7,582.5 C279.3,580.3 274.7,577.7 274.2,575.0 C273.6,572.3 276.3,568.8 278.5,566.3 C280.6,563.8 283.7,561.6 287.0,560.0 C290.3,558.4 294.3,557.1 298.0,556.6 C301.8,556.2 306.0,556.7 309.8,557.3 C313.5,557.9 318.1,558.5 320.8,560.2 C323.4,561.9 324.3,565.2 325.6,567.7 C326.9,570.1 327.8,572.3 328.7,575.0Z" fill="#efcdee" stroke="#b97fd0" stroke-width="3" filter="url(#b0_6)"/>
<path d="M235.6,590.0 C235.2,591.8 234.7,593.2 234.2,594.8 C233.6,596.4 233.2,598.2 232.2,599.8 C231.2,601.4 229.8,603.8 228.1,604.5 C226.4,605.2 223.8,604.7 222.1,604.0 C220.3,603.3 218.6,601.8 217.4,600.4 C216.1,598.9 215.4,597.0 214.8,595.3 C214.2,593.6 214.0,591.8 213.9,590.0 C213.8,588.2 213.4,585.8 214.1,584.3 C214.8,582.8 216.9,582.0 218.2,580.8 C219.6,579.6 220.7,578.0 222.3,577.2 C223.9,576.4 226.0,576.0 227.9,576.1 C229.8,576.3 232.3,576.9 233.7,578.2 C235.0,579.6 235.9,582.2 236.2,584.2 C236.5,586.1 235.9,588.2 235.6,590.0Z" fill="#efcdee" stroke="#b97fd0" stroke-width="3" filter="url(#b0_6)"/>
<path d="M222.2,613.0 C222.3,614.8 221.6,617.1 220.2,618.5 C218.9,619.9 216.3,621.0 214.2,621.7 C212.1,622.3 210.0,622.1 207.9,622.5 C205.8,623.0 203.9,624.1 201.6,624.3 C199.2,624.5 196.0,624.4 193.9,623.5 C191.8,622.6 189.8,620.6 188.8,618.9 C187.8,617.1 187.6,614.8 188.1,613.0 C188.5,611.2 190.4,609.6 191.7,608.2 C193.0,606.8 194.4,605.7 196.0,604.5 C197.6,603.4 199.4,602.2 201.5,601.5 C203.6,600.9 206.4,600.5 208.7,600.7 C211.1,601.0 213.7,601.9 215.5,603.1 C217.3,604.3 218.4,606.1 219.5,607.8 C220.6,609.4 222.1,611.2 222.2,613.0Z" fill="#efcdee" stroke="#b97fd0" stroke-width="3" filter="url(#b0_6)"/>
<path d="M271.3,617.0 C270.8,619.0 268.3,620.9 266.5,622.5 C264.7,624.1 263.0,625.7 260.7,626.8 C258.3,627.9 255.3,628.7 252.5,629.1 C249.6,629.5 246.3,629.6 243.5,629.2 C240.7,628.8 238.0,627.8 235.5,626.7 C233.0,625.6 230.2,624.5 228.3,622.9 C226.5,621.2 224.7,619.0 224.5,617.0 C224.3,615.0 225.4,612.5 227.1,610.8 C228.9,609.1 232.2,607.7 235.0,606.9 C237.8,606.1 241.0,606.2 243.9,605.9 C246.8,605.6 249.5,605.0 252.4,605.1 C255.3,605.2 258.5,605.7 261.4,606.6 C264.3,607.5 268.1,608.8 269.8,610.5 C271.4,612.2 271.9,615.0 271.3,617.0Z" fill="#efcdee" stroke="#b97fd0" stroke-width="3" filter="url(#b0_6)"/>
<path d="M118.7,574.0 C118.2,576.6 119.2,579.0 118.2,581.3 C117.2,583.6 115.1,586.1 112.6,587.7 C110.1,589.4 106.6,590.8 103.3,591.4 C100.0,592.0 96.3,591.6 92.7,591.3 C89.2,590.9 84.9,590.7 81.8,589.2 C78.7,587.8 75.6,585.2 74.1,582.6 C72.7,580.1 72.2,576.6 73.0,574.0 C73.9,571.4 77.0,569.1 79.1,567.2 C81.2,565.2 83.3,564.0 85.6,562.3 C87.9,560.7 89.8,558.5 92.9,557.1 C95.9,555.7 100.4,553.9 104.1,554.0 C107.7,554.2 112.0,556.3 114.7,558.3 C117.5,560.2 120.1,563.2 120.7,565.8 C121.4,568.4 119.1,571.4 118.7,574.0Z" fill="#efcdee" stroke="#b97fd0" stroke-width="3" filter="url(#b0_6)"/>
<path d="M464.1,545.0 C464.1,547.5 462.4,550.6 460.7,552.6 C459.1,554.5 456.4,555.5 454.3,556.6 C452.2,557.8 450.5,558.6 448.3,559.5 C446.1,560.4 443.6,562.0 441.1,562.1 C438.6,562.1 435.5,561.2 433.2,559.7 C431.0,558.3 428.5,555.8 427.7,553.3 C426.9,550.9 427.8,547.5 428.3,545.0 C428.8,542.5 429.6,540.2 430.8,538.2 C432.0,536.2 433.7,534.5 435.4,533.0 C437.2,531.5 439.2,530.0 441.4,529.2 C443.6,528.5 446.3,528.3 448.7,528.7 C451.1,529.0 453.9,529.9 455.9,531.3 C457.9,532.8 459.5,535.1 460.9,537.3 C462.3,539.6 464.2,542.5 464.1,545.0Z" fill="#efcdee" stroke="#b97fd0" stroke-width="3" filter="url(#b0_6)"/>
<path d="M440.9,562.0 C441.1,563.7 441.7,565.8 441.0,567.3 C440.3,568.8 438.3,570.2 436.6,571.2 C435.0,572.1 432.8,572.8 430.9,572.8 C429.1,572.9 427.2,571.9 425.5,571.4 C423.8,570.9 422.3,570.5 420.7,569.8 C419.1,569.0 416.9,568.3 415.6,567.0 C414.4,565.7 413.1,563.7 413.0,562.0 C412.8,560.3 413.5,558.0 414.7,556.6 C415.8,555.1 418.1,554.2 419.9,553.4 C421.7,552.6 423.5,552.2 425.3,552.0 C427.1,551.8 428.9,551.9 430.7,552.1 C432.4,552.4 434.5,552.6 436.0,553.5 C437.5,554.3 438.8,555.8 439.6,557.3 C440.4,558.7 440.6,560.3 440.9,562.0Z" fill="#efcdee" stroke="#b97fd0" stroke-width="3" filter="url(#b0_6)"/>
<path d="M473.7,527.0 C473.9,528.8 474.3,530.9 473.7,532.6 C473.0,534.4 471.6,536.4 470.0,537.4 C468.4,538.4 465.8,538.8 463.9,538.7 C462.0,538.6 460.3,537.4 458.5,536.9 C456.8,536.4 455.3,536.3 453.6,535.6 C451.9,534.9 449.4,534.1 448.2,532.7 C446.9,531.3 446.1,528.9 446.2,527.0 C446.3,525.1 447.4,523.0 448.6,521.5 C449.7,520.0 451.5,518.8 453.2,517.9 C454.8,517.1 456.6,516.7 458.4,516.3 C460.1,515.9 462.1,515.2 463.8,515.5 C465.6,515.8 467.3,517.0 468.8,518.0 C470.2,519.1 471.8,520.3 472.6,521.8 C473.4,523.3 473.6,525.2 473.7,527.0Z" fill="#efcdee" stroke="#b97fd0" stroke-width="3" filter="url(#b0_6)"/>
<path d="M75.0,611.0 C75.2,612.5 74.1,614.5 72.9,615.8 C71.7,617.0 69.5,618.0 67.8,618.5 C66.0,619.0 64.1,618.8 62.4,618.9 C60.6,619.1 59.2,619.6 57.5,619.6 C55.7,619.5 53.9,619.3 52.0,618.7 C50.2,618.1 47.5,617.3 46.4,616.0 C45.4,614.7 45.7,612.6 45.9,611.0 C46.1,609.4 46.7,607.7 47.8,606.5 C48.9,605.3 50.9,604.5 52.4,603.7 C54.0,602.9 55.4,601.8 57.2,601.5 C58.9,601.1 61.1,601.2 62.8,601.6 C64.5,602.0 65.9,603.0 67.4,603.9 C68.9,604.7 70.6,605.4 71.9,606.6 C73.1,607.8 74.8,609.5 75.0,611.0Z" fill="#efcdee" stroke="#b97fd0" stroke-width="3" filter="url(#b0_6)"/>
<path d="M535.3,293.0 C535.3,294.4 535.1,296.0 534.4,297.2 C533.6,298.3 531.9,299.0 530.6,299.9 C529.3,300.8 528.2,302.0 526.6,302.6 C525.1,303.2 523.1,303.4 521.2,303.4 C519.2,303.3 516.5,303.3 515.1,302.3 C513.6,301.3 512.7,299.2 512.5,297.6 C512.2,296.1 513.0,294.4 513.4,293.0 C513.8,291.6 514.2,290.5 514.8,289.3 C515.4,288.1 515.9,286.8 517.0,285.7 C518.1,284.6 519.5,283.3 521.2,282.7 C522.8,282.1 525.2,281.8 527.0,282.1 C528.8,282.5 530.7,283.6 531.9,284.7 C533.1,285.9 533.8,287.5 534.4,288.8 C535.0,290.2 535.3,291.6 535.3,293.0Z" fill="#efcdee" stroke="#b97fd0" stroke-width="3" filter="url(#b0_6)"/>
<path d="M289.2,612.0 C289.3,613.8 288.6,616.1 287.8,617.6 C286.9,619.2 285.4,620.3 284.1,621.1 C282.8,621.9 281.3,622.1 280.0,622.3 C278.6,622.5 277.4,622.5 276.0,622.4 C274.6,622.3 273.0,622.4 271.6,621.6 C270.2,620.9 268.5,619.5 267.7,617.9 C267.0,616.3 266.9,613.8 267.1,612.0 C267.4,610.2 268.4,608.5 269.1,606.9 C269.8,605.2 270.4,603.3 271.6,602.3 C272.7,601.3 274.5,601.2 275.9,601.0 C277.3,600.7 278.8,600.6 280.1,600.9 C281.4,601.3 282.8,602.0 284.0,603.0 C285.2,604.0 286.3,605.2 287.2,606.7 C288.0,608.2 289.1,610.2 289.2,612.0Z" fill="#efcdee" stroke="#b97fd0" stroke-width="3" filter="url(#b0_6)"/>
<path d="M329.4,545.0 C329.6,546.7 329.5,548.5 329.1,550.3 C328.7,552.1 328.3,554.6 327.2,555.8 C326.0,557.0 323.9,557.3 322.4,557.4 C320.8,557.4 319.2,556.7 317.9,555.9 C316.7,555.1 315.9,553.8 314.8,552.8 C313.7,551.8 312.4,551.2 311.5,549.9 C310.7,548.6 309.9,546.8 309.7,545.0 C309.5,543.2 309.5,540.9 310.1,539.3 C310.8,537.7 312.4,536.5 313.6,535.4 C314.9,534.3 316.2,533.1 317.7,532.7 C319.1,532.3 320.9,532.3 322.3,532.9 C323.7,533.4 325.1,534.5 326.1,535.8 C327.2,537.0 327.9,538.6 328.4,540.1 C329.0,541.7 329.3,543.3 329.4,545.0Z" fill="#efcdee" stroke="#b97fd0" stroke-width="3" filter="url(#b0_6)"/>
<path d="M199.3,586.0 C199.0,587.4 198.2,588.4 197.7,589.7 C197.1,591.0 197.0,592.6 196.1,593.7 C195.2,594.8 193.7,595.6 192.3,596.1 C190.9,596.6 189.0,597.0 187.6,596.7 C186.1,596.4 184.7,595.2 183.5,594.1 C182.4,593.1 181.3,591.8 180.7,590.5 C180.1,589.1 179.9,587.5 179.9,586.0 C180.0,584.5 180.3,582.8 181.1,581.7 C181.9,580.6 183.5,580.0 184.6,579.2 C185.7,578.4 186.6,577.5 187.9,576.9 C189.2,576.3 190.8,575.6 192.4,575.6 C193.9,575.6 196.2,575.8 197.3,576.8 C198.5,577.8 198.9,580.0 199.3,581.5 C199.6,583.1 199.5,584.6 199.3,586.0Z" fill="#efcdee" stroke="#b97fd0" stroke-width="3" filter="url(#b0_6)"/>
<path d="M365.2,612.0 C365.2,613.5 364.3,615.2 363.4,616.6 C362.5,617.9 361.1,619.1 359.7,620.0 C358.2,620.9 356.4,621.7 354.7,621.8 C353.0,622.0 351.1,621.4 349.5,621.0 C348.0,620.5 346.6,619.8 345.3,619.0 C344.0,618.2 342.9,617.3 341.8,616.1 C340.7,614.9 339.0,613.5 338.7,612.0 C338.4,610.5 338.9,608.4 339.8,607.1 C340.8,605.8 343.0,604.9 344.6,604.3 C346.2,603.6 348.0,603.2 349.6,603.2 C351.2,603.2 352.5,603.9 354.2,604.0 C355.9,604.2 358.1,603.5 359.6,604.0 C361.2,604.6 362.5,606.1 363.5,607.4 C364.4,608.7 365.3,610.5 365.2,612.0Z" fill="#efcdee" stroke="#b97fd0" stroke-width="3" filter="url(#b0_6)"/>
<g mask="url(#mLob)"><rect x="20.0" y="111.0" width="522.0" height="521.0" filter="url(#tWhite2)" opacity="0.8"/><rect x="20.0" y="111.0" width="522.0" height="521.0" filter="url(#tNuc)" opacity="0.15"/></g>
<path d="M386.2,517.0 C387.1,522.4 390.6,530.6 388.5,535.4 C386.5,540.2 379.0,544.2 373.7,545.8 C368.4,547.4 361.4,547.0 356.6,544.9 C351.7,542.8 347.1,537.7 344.5,533.0 C342.0,528.4 341.2,522.3 341.3,517.0 C341.4,511.7 342.6,506.2 345.1,501.4 C347.6,496.6 351.4,490.4 356.3,488.0 C361.1,485.6 369.7,484.4 374.1,486.9 C378.5,489.5 380.7,498.2 382.7,503.2 C384.7,508.2 385.2,511.6 386.2,517.0Z" fill="#9a78cf" filter="url(#b2)" opacity="0.85"/>
<path d="M370.8,572.0 C370.0,577.5 368.7,580.7 367.1,585.6 C365.5,590.5 364.2,598.5 361.1,601.3 C358.1,604.1 352.0,604.8 348.6,602.5 C345.3,600.2 343.1,592.8 341.1,587.7 C339.1,582.6 336.5,577.1 336.6,572.0 C336.7,566.9 339.4,561.0 341.6,556.8 C343.8,552.7 346.6,549.6 349.8,547.3 C353.1,545.0 357.4,542.2 361.0,543.1 C364.7,544.1 370.3,548.1 371.9,552.9 C373.5,557.7 371.6,566.5 370.8,572.0Z" fill="#9472cc" filter="url(#b2)" opacity="0.85"/>
<path d="M359.8,393.0 C359.5,396.4 356.2,400.4 353.9,402.7 C351.6,405.0 348.9,404.9 345.9,406.6 C343.0,408.3 339.5,413.1 336.2,413.0 C332.9,412.9 327.3,409.4 326.0,406.1 C324.7,402.7 327.5,396.7 328.3,393.0 C329.0,389.3 329.2,386.6 330.7,383.7 C332.1,380.9 334.4,377.2 337.1,375.9 C339.8,374.6 343.8,375.1 346.9,376.1 C349.9,377.1 353.3,379.2 355.4,382.0 C357.6,384.9 360.1,389.6 359.8,393.0Z" fill="#a47ed3" filter="url(#b2)" opacity="0.85"/>
<path d="M421.2,398.0 C421.4,401.7 418.4,406.9 415.4,409.4 C412.4,411.8 407.2,411.7 403.3,412.6 C399.4,413.6 395.4,415.8 391.8,415.0 C388.3,414.3 384.5,411.1 382.3,408.3 C380.0,405.5 378.7,401.7 378.3,398.0 C378.0,394.3 377.8,389.1 380.1,386.3 C382.4,383.5 388.1,381.7 392.0,381.3 C395.8,380.9 399.5,382.7 403.2,383.7 C406.8,384.8 411.1,385.1 414.1,387.5 C417.1,389.9 421.0,394.3 421.2,398.0Z" fill="#a27fd4" filter="url(#b2)" opacity="0.85"/>
<path d="M534.4,455.0 C533.6,458.5 530.6,460.6 528.9,463.3 C527.1,465.9 526.3,469.2 524.0,470.9 C521.8,472.7 517.9,474.6 515.2,473.8 C512.6,473.0 509.6,469.4 507.9,466.3 C506.2,463.2 504.7,458.7 504.8,455.0 C504.9,451.3 506.6,446.6 508.5,444.3 C510.4,441.9 513.8,441.9 516.4,440.8 C519.1,439.7 521.5,437.5 524.4,437.7 C527.2,438.0 531.9,439.5 533.6,442.3 C535.2,445.2 535.1,451.5 534.4,455.0Z" fill="#9d7bd0" filter="url(#b2)" opacity="0.85"/>
<path d="M466.0,497.0 C466.4,499.9 465.9,504.2 463.9,506.5 C461.9,508.7 457.2,510.5 454.1,510.7 C450.9,510.9 447.9,508.7 445.0,507.6 C442.2,506.6 439.7,506.4 437.0,504.6 C434.4,502.8 429.5,499.8 429.2,497.0 C428.8,494.2 432.4,490.1 435.0,488.1 C437.5,486.1 441.3,485.4 444.5,484.8 C447.6,484.1 450.9,483.5 453.7,484.2 C456.6,484.9 459.4,486.9 461.5,489.1 C463.5,491.2 465.6,494.1 466.0,497.0Z" fill="#9d7bd0" filter="url(#b2)" opacity="0.85"/>
<path d="M332.8,352.0 C332.1,354.7 330.8,356.5 328.8,359.0 C326.8,361.5 325.0,365.5 321.0,366.9 C317.0,368.4 308.9,368.7 304.7,367.5 C300.6,366.2 298.4,362.0 296.3,359.4 C294.2,356.8 292.7,354.7 292.3,352.0 C291.8,349.3 291.5,345.9 293.6,343.4 C295.8,340.9 300.6,337.8 305.0,337.0 C309.4,336.3 315.4,337.7 320.1,338.7 C324.9,339.7 331.4,340.7 333.5,342.9 C335.6,345.2 333.6,349.3 332.8,352.0Z" fill="#a582d5" filter="url(#b2)" opacity="0.85"/>
<path d="M361.3,395.0 C360.5,399.2 358.1,402.0 356.4,405.4 C354.6,408.8 353.5,413.3 350.8,415.5 C348.2,417.6 343.6,419.4 340.5,418.3 C337.4,417.2 334.2,412.7 332.2,408.8 C330.1,404.9 327.6,399.3 328.0,395.0 C328.3,390.7 332.0,386.2 334.3,383.3 C336.6,380.3 338.9,379.2 341.8,377.2 C344.7,375.2 348.4,370.9 351.6,371.3 C354.8,371.8 359.4,376.1 361.0,380.0 C362.6,383.9 362.0,390.8 361.3,395.0Z" fill="#9a78cf" filter="url(#b2)" opacity="0.85"/>
<path d="M311.9,391.0 C311.0,395.3 310.5,398.3 308.8,401.7 C307.1,405.2 305.0,409.6 301.8,411.6 C298.6,413.6 293.2,415.0 289.6,413.7 C286.0,412.5 282.6,408.1 280.2,404.3 C277.8,400.5 274.8,395.1 275.2,391.0 C275.5,386.9 279.6,382.5 282.2,379.4 C284.8,376.3 287.4,374.2 290.7,372.3 C294.1,370.3 298.6,367.1 302.6,367.6 C306.5,368.2 312.7,371.8 314.2,375.7 C315.8,379.6 312.8,386.7 311.9,391.0Z" fill="#ab88d8" filter="url(#b2)" opacity="0.85"/>
<path d="M283.5,505.0 C283.6,509.5 285.6,514.5 283.4,518.6 C281.1,522.7 275.6,528.0 270.0,529.7 C264.5,531.4 256.3,530.6 250.3,529.0 C244.2,527.4 236.8,524.2 233.8,520.2 C230.7,516.2 230.8,509.5 231.8,505.0 C232.9,500.5 237.2,497.6 240.2,493.5 C243.3,489.5 244.9,483.6 250.1,480.7 C255.4,477.8 266.2,474.5 271.7,476.3 C277.1,478.1 281.1,486.8 283.1,491.6 C285.0,496.4 283.5,500.5 283.5,505.0Z" fill="#b08ad6" filter="url(#b2)" opacity="0.85"/>
<path d="M422.6,402.0 C421.9,406.2 421.7,409.2 419.9,412.8 C418.2,416.5 415.9,421.6 412.1,423.8 C408.3,426.0 401.1,427.7 397.2,426.0 C393.2,424.4 390.3,418.1 388.4,414.1 C386.5,410.1 385.6,406.0 385.6,402.0 C385.5,398.0 386.0,392.9 388.2,389.8 C390.4,386.6 394.8,384.8 398.8,383.0 C402.9,381.3 408.1,378.6 412.3,379.4 C416.6,380.2 422.8,384.0 424.5,387.8 C426.3,391.6 423.4,397.8 422.6,402.0Z" fill="#a07cd2" filter="url(#b2)" opacity="0.85"/>
<path d="M468.5,305.0 C469.1,307.4 466.9,311.8 464.8,313.6 C462.6,315.4 458.6,315.4 455.8,315.8 C453.0,316.3 450.4,317.1 448.0,316.5 C445.5,315.9 442.9,314.2 441.1,312.3 C439.4,310.4 437.9,307.7 437.6,305.0 C437.3,302.3 437.6,298.6 439.3,296.4 C440.9,294.2 444.7,292.2 447.4,292.0 C450.1,291.7 453.2,293.9 455.5,295.0 C457.7,296.2 458.8,297.3 461.0,298.9 C463.1,300.6 467.8,302.6 468.5,305.0Z" fill="#9a78cf" filter="url(#b2)" opacity="0.85"/>
<path d="M476.6,333.0 C477.0,335.8 476.1,339.7 474.1,342.0 C472.1,344.4 468.0,346.7 464.6,347.3 C461.3,347.9 456.8,346.8 454.1,345.5 C451.3,344.2 450.1,341.5 448.3,339.4 C446.5,337.3 444.5,335.8 443.4,333.0 C442.3,330.2 440.1,325.0 441.8,322.7 C443.5,320.4 449.9,319.2 453.5,319.1 C457.1,319.0 460.2,321.0 463.3,322.0 C466.4,323.0 469.9,323.4 472.1,325.2 C474.3,327.0 476.3,330.2 476.6,333.0Z" fill="#a27fd4" filter="url(#b2)" opacity="0.85"/>
<path d="M511.1,337.0 C511.6,338.9 511.0,342.4 509.5,343.9 C508.0,345.4 504.5,345.6 502.2,346.0 C499.9,346.5 497.5,347.0 495.6,346.4 C493.8,345.8 492.3,343.8 491.1,342.2 C489.8,340.7 488.6,339.0 488.3,337.0 C487.9,335.0 487.8,332.2 489.0,330.4 C490.1,328.5 492.8,326.2 495.0,325.8 C497.2,325.4 500.4,326.9 502.2,327.9 C504.1,329.0 504.7,330.7 506.2,332.2 C507.7,333.8 510.6,335.1 511.1,337.0Z" fill="#9a78cf" filter="url(#b2)" opacity="0.85"/>
<path d="M535.4,414.0 C535.0,417.9 533.2,421.6 531.4,424.5 C529.5,427.3 527.0,430.0 524.4,431.1 C521.8,432.2 518.3,432.3 515.6,431.3 C512.8,430.3 509.9,428.2 507.7,425.3 C505.6,422.4 502.9,417.8 502.8,414.0 C502.8,410.2 505.1,404.6 507.4,402.4 C509.7,400.3 513.8,402.2 516.7,401.1 C519.6,400.0 521.8,395.8 524.7,395.8 C527.5,395.9 532.0,398.3 533.8,401.3 C535.6,404.3 535.8,410.1 535.4,414.0Z" fill="#a07cd2" filter="url(#b2)" opacity="0.85"/>
<path d="M487.5,283.0 C488.1,285.7 488.7,290.6 487.1,292.5 C485.5,294.4 480.4,294.3 477.7,294.3 C475.0,294.3 473.4,293.0 470.9,292.5 C468.4,292.0 464.7,292.9 462.6,291.3 C460.6,289.7 458.4,285.6 458.6,283.0 C458.9,280.4 462.1,277.7 464.0,275.7 C465.9,273.8 468.0,272.1 470.2,271.4 C472.5,270.8 475.5,271.0 477.6,271.8 C479.8,272.6 481.6,274.5 483.2,276.3 C484.8,278.2 486.8,280.3 487.5,283.0Z" fill="#8f6ec8" filter="url(#b2)" opacity="0.85"/>
<path d="M332.2,349.0 C332.8,351.4 335.0,354.8 333.6,357.0 C332.1,359.3 327.1,362.0 323.5,362.4 C319.9,362.8 315.2,360.6 311.9,359.4 C308.6,358.3 305.5,357.2 303.6,355.5 C301.7,353.8 300.6,351.2 300.4,349.0 C300.3,346.8 300.9,344.2 302.6,342.0 C304.3,339.9 307.2,337.0 310.6,336.0 C314.1,334.9 320.2,334.7 323.4,335.8 C326.6,336.9 328.5,340.5 329.9,342.7 C331.4,344.9 331.6,346.6 332.2,349.0Z" fill="#a07cd2" filter="url(#b2)" opacity="0.85"/>
<path d="M499.8,470.0 C500.2,473.3 501.2,478.1 500.0,481.2 C498.8,484.3 495.4,487.7 492.7,488.6 C490.0,489.5 486.6,487.7 483.9,486.4 C481.1,485.1 477.6,483.7 476.3,480.9 C474.9,478.2 475.5,473.4 475.8,470.0 C476.1,466.6 476.9,463.9 478.1,460.8 C479.4,457.6 480.7,452.8 483.2,450.9 C485.7,449.1 490.8,447.9 493.1,449.7 C495.5,451.4 496.3,457.8 497.4,461.2 C498.5,464.6 499.4,466.7 499.8,470.0Z" fill="#9f7dd1" filter="url(#b2)" opacity="0.85"/>
<path d="M381.7,575.0 C382.0,579.0 382.9,584.5 382.3,588.3 C381.7,592.1 379.5,596.9 377.9,597.6 C376.3,598.4 374.2,594.7 372.7,592.8 C371.2,590.8 370.1,588.7 369.1,585.7 C368.1,582.8 366.6,578.9 366.5,575.0 C366.3,571.1 367.0,565.5 368.0,562.3 C369.0,559.1 370.9,557.0 372.5,555.8 C374.1,554.6 376.2,553.7 377.6,555.1 C379.0,556.5 380.2,560.9 380.9,564.3 C381.6,567.6 381.5,571.0 381.7,575.0Z" fill="#9472cc" filter="url(#b2)" opacity="0.85"/>
<path d="M187.2,615.0 C187.5,617.3 188.0,620.4 185.5,622.2 C183.0,624.0 177.2,624.9 172.3,625.8 C167.5,626.7 161.7,628.0 156.5,627.6 C151.3,627.2 143.6,625.4 141.2,623.3 C138.8,621.2 140.4,617.3 141.9,615.0 C143.3,612.7 147.4,611.8 149.8,609.7 C152.3,607.6 152.4,603.9 156.5,602.5 C160.6,601.0 169.8,600.2 174.3,601.2 C178.9,602.2 181.6,606.2 183.7,608.5 C185.8,610.8 186.9,612.7 187.2,615.0Z" fill="#ae8ad8" filter="url(#b2)" opacity="0.85"/>
<path d="M540.1,318.0 C540.5,323.8 540.5,333.3 539.1,338.1 C537.7,342.9 534.2,345.6 531.7,346.7 C529.3,347.9 526.7,346.9 524.5,345.0 C522.2,343.2 519.5,340.3 518.2,335.8 C516.9,331.3 517.0,324.0 517.0,318.0 C516.9,312.0 516.8,305.2 517.9,299.6 C519.0,294.0 521.3,286.2 523.6,284.4 C526.0,282.6 529.7,285.8 531.8,288.9 C533.9,292.0 534.8,298.2 536.2,303.1 C537.6,307.9 539.6,312.2 540.1,318.0Z" fill="#b592da" filter="url(#b2)" opacity="0.85"/>
<path d="M431.1,470.0 C432.2,472.0 432.6,475.5 430.0,477.3 C427.4,479.0 420.0,480.2 415.4,480.3 C410.8,480.4 406.6,478.6 402.4,477.9 C398.2,477.1 393.7,477.2 390.2,475.9 C386.7,474.6 381.7,472.1 381.4,470.0 C381.1,467.9 385.2,465.1 388.5,463.6 C391.9,462.1 397.2,461.3 401.5,460.9 C405.8,460.5 410.8,460.4 414.4,461.1 C418.0,461.8 420.2,463.6 423.0,465.1 C425.8,466.5 429.9,468.0 431.1,470.0Z" fill="#b08ad6" filter="url(#b2)" opacity="0.85"/>
<g opacity="0.55">
<clipPath id="nc0"><path d="M386.2,517.0 C387.1,522.4 390.6,530.6 388.5,535.4 C386.5,540.2 379.0,544.2 373.7,545.8 C368.4,547.4 361.4,547.0 356.6,544.9 C351.7,542.8 347.1,537.7 344.5,533.0 C342.0,528.4 341.2,522.3 341.3,517.0 C341.4,511.7 342.6,506.2 345.1,501.4 C347.6,496.6 351.4,490.4 356.3,488.0 C361.1,485.6 369.7,484.4 374.1,486.9 C378.5,489.5 380.7,498.2 382.7,503.2 C384.7,508.2 385.2,511.6 386.2,517.0Z"/></clipPath>
<g clip-path="url(#nc0)"><rect x="329" y="478" width="73" height="78" filter="url(#tNucN)"/></g>
<clipPath id="nc1"><path d="M370.8,572.0 C370.0,577.5 368.7,580.7 367.1,585.6 C365.5,590.5 364.2,598.5 361.1,601.3 C358.1,604.1 352.0,604.8 348.6,602.5 C345.3,600.2 343.1,592.8 341.1,587.7 C339.1,582.6 336.5,577.1 336.6,572.0 C336.7,566.9 339.4,561.0 341.6,556.8 C343.8,552.7 346.6,549.6 349.8,547.3 C353.1,545.0 357.4,542.2 361.0,543.1 C364.7,544.1 370.3,548.1 371.9,552.9 C373.5,557.7 371.6,566.5 370.8,572.0Z"/></clipPath>
<g clip-path="url(#nc1)"><rect x="330" y="533" width="50" height="78" filter="url(#tNucN)"/></g>
<clipPath id="nc2"><path d="M359.8,393.0 C359.5,396.4 356.2,400.4 353.9,402.7 C351.6,405.0 348.9,404.9 345.9,406.6 C343.0,408.3 339.5,413.1 336.2,413.0 C332.9,412.9 327.3,409.4 326.0,406.1 C324.7,402.7 327.5,396.7 328.3,393.0 C329.0,389.3 329.2,386.6 330.7,383.7 C332.1,380.9 334.4,377.2 337.1,375.9 C339.8,374.6 343.8,375.1 346.9,376.1 C349.9,377.1 353.3,379.2 355.4,382.0 C357.6,384.9 360.1,389.6 359.8,393.0Z"/></clipPath>
<g clip-path="url(#nc2)"><rect x="320" y="368" width="45" height="50" filter="url(#tNucN)"/></g>
<clipPath id="nc3"><path d="M421.2,398.0 C421.4,401.7 418.4,406.9 415.4,409.4 C412.4,411.8 407.2,411.7 403.3,412.6 C399.4,413.6 395.4,415.8 391.8,415.0 C388.3,414.3 384.5,411.1 382.3,408.3 C380.0,405.5 378.7,401.7 378.3,398.0 C378.0,394.3 377.8,389.1 380.1,386.3 C382.4,383.5 388.1,381.7 392.0,381.3 C395.8,380.9 399.5,382.7 403.2,383.7 C406.8,384.8 411.1,385.1 414.1,387.5 C417.1,389.9 421.0,394.3 421.2,398.0Z"/></clipPath>
<g clip-path="url(#nc3)"><rect x="370" y="373" width="56" height="50" filter="url(#tNucN)"/></g>
<clipPath id="nc4"><path d="M534.4,455.0 C533.6,458.5 530.6,460.6 528.9,463.3 C527.1,465.9 526.3,469.2 524.0,470.9 C521.8,472.7 517.9,474.6 515.2,473.8 C512.6,473.0 509.6,469.4 507.9,466.3 C506.2,463.2 504.7,458.7 504.8,455.0 C504.9,451.3 506.6,446.6 508.5,444.3 C510.4,441.9 513.8,441.9 516.4,440.8 C519.1,439.7 521.5,437.5 524.4,437.7 C527.2,438.0 531.9,439.5 533.6,442.3 C535.2,445.2 535.1,451.5 534.4,455.0Z"/></clipPath>
<g clip-path="url(#nc4)"><rect x="500" y="430" width="39" height="50" filter="url(#tNucN)"/></g>
<clipPath id="nc5"><path d="M466.0,497.0 C466.4,499.9 465.9,504.2 463.9,506.5 C461.9,508.7 457.2,510.5 454.1,510.7 C450.9,510.9 447.9,508.7 445.0,507.6 C442.2,506.6 439.7,506.4 437.0,504.6 C434.4,502.8 429.5,499.8 429.2,497.0 C428.8,494.2 432.4,490.1 435.0,488.1 C437.5,486.1 441.3,485.4 444.5,484.8 C447.6,484.1 450.9,483.5 453.7,484.2 C456.6,484.9 459.4,486.9 461.5,489.1 C463.5,491.2 465.6,494.1 466.0,497.0Z"/></clipPath>
<g clip-path="url(#nc5)"><rect x="427" y="477" width="45" height="39" filter="url(#tNucN)"/></g>
<clipPath id="nc6"><path d="M332.8,352.0 C332.1,354.7 330.8,356.5 328.8,359.0 C326.8,361.5 325.0,365.5 321.0,366.9 C317.0,368.4 308.9,368.7 304.7,367.5 C300.6,366.2 298.4,362.0 296.3,359.4 C294.2,356.8 292.7,354.7 292.3,352.0 C291.8,349.3 291.5,345.9 293.6,343.4 C295.8,340.9 300.6,337.8 305.0,337.0 C309.4,336.3 315.4,337.7 320.1,338.7 C324.9,339.7 331.4,340.7 333.5,342.9 C335.6,345.2 333.6,349.3 332.8,352.0Z"/></clipPath>
<g clip-path="url(#nc6)"><rect x="281" y="332" width="64" height="39" filter="url(#tNucN)"/></g>
<clipPath id="nc7"><path d="M361.3,395.0 C360.5,399.2 358.1,402.0 356.4,405.4 C354.6,408.8 353.5,413.3 350.8,415.5 C348.2,417.6 343.6,419.4 340.5,418.3 C337.4,417.2 334.2,412.7 332.2,408.8 C330.1,404.9 327.6,399.3 328.0,395.0 C328.3,390.7 332.0,386.2 334.3,383.3 C336.6,380.3 338.9,379.2 341.8,377.2 C344.7,375.2 348.4,370.9 351.6,371.3 C354.8,371.8 359.4,376.1 361.0,380.0 C362.6,383.9 362.0,390.8 361.3,395.0Z"/></clipPath>
<g clip-path="url(#nc7)"><rect x="324" y="364" width="45" height="62" filter="url(#tNucN)"/></g>
<clipPath id="nc8"><path d="M311.9,391.0 C311.0,395.3 310.5,398.3 308.8,401.7 C307.1,405.2 305.0,409.6 301.8,411.6 C298.6,413.6 293.2,415.0 289.6,413.7 C286.0,412.5 282.6,408.1 280.2,404.3 C277.8,400.5 274.8,395.1 275.2,391.0 C275.5,386.9 279.6,382.5 282.2,379.4 C284.8,376.3 287.4,374.2 290.7,372.3 C294.1,370.3 298.6,367.1 302.6,367.6 C306.5,368.2 312.7,371.8 314.2,375.7 C315.8,379.6 312.8,386.7 311.9,391.0Z"/></clipPath>
<g clip-path="url(#nc8)"><rect x="269" y="360" width="53" height="62" filter="url(#tNucN)"/></g>
<clipPath id="nc9"><path d="M283.5,505.0 C283.6,509.5 285.6,514.5 283.4,518.6 C281.1,522.7 275.6,528.0 270.0,529.7 C264.5,531.4 256.3,530.6 250.3,529.0 C244.2,527.4 236.8,524.2 233.8,520.2 C230.7,516.2 230.8,509.5 231.8,505.0 C232.9,500.5 237.2,497.6 240.2,493.5 C243.3,489.5 244.9,483.6 250.1,480.7 C255.4,477.8 266.2,474.5 271.7,476.3 C277.1,478.1 281.1,486.8 283.1,491.6 C285.0,496.4 283.5,500.5 283.5,505.0Z"/></clipPath>
<g clip-path="url(#nc9)"><rect x="218" y="471" width="84" height="67" filter="url(#tNucN)"/></g>
<clipPath id="nc10"><path d="M422.6,402.0 C421.9,406.2 421.7,409.2 419.9,412.8 C418.2,416.5 415.9,421.6 412.1,423.8 C408.3,426.0 401.1,427.7 397.2,426.0 C393.2,424.4 390.3,418.1 388.4,414.1 C386.5,410.1 385.6,406.0 385.6,402.0 C385.5,398.0 386.0,392.9 388.2,389.8 C390.4,386.6 394.8,384.8 398.8,383.0 C402.9,381.3 408.1,378.6 412.3,379.4 C416.6,380.2 422.8,384.0 424.5,387.8 C426.3,391.6 423.4,397.8 422.6,402.0Z"/></clipPath>
<g clip-path="url(#nc10)"><rect x="376" y="373" width="59" height="59" filter="url(#tNucN)"/></g>
<clipPath id="nc11"><path d="M468.5,305.0 C469.1,307.4 466.9,311.8 464.8,313.6 C462.6,315.4 458.6,315.4 455.8,315.8 C453.0,316.3 450.4,317.1 448.0,316.5 C445.5,315.9 442.9,314.2 441.1,312.3 C439.4,310.4 437.9,307.7 437.6,305.0 C437.3,302.3 437.6,298.6 439.3,296.4 C440.9,294.2 444.7,292.2 447.4,292.0 C450.1,291.7 453.2,293.9 455.5,295.0 C457.7,296.2 458.8,297.3 461.0,298.9 C463.1,300.6 467.8,302.6 468.5,305.0Z"/></clipPath>
<g clip-path="url(#nc11)"><rect x="432" y="287" width="39" height="36" filter="url(#tNucN)"/></g>
<clipPath id="nc12"><path d="M476.6,333.0 C477.0,335.8 476.1,339.7 474.1,342.0 C472.1,344.4 468.0,346.7 464.6,347.3 C461.3,347.9 456.8,346.8 454.1,345.5 C451.3,344.2 450.1,341.5 448.3,339.4 C446.5,337.3 444.5,335.8 443.4,333.0 C442.3,330.2 440.1,325.0 441.8,322.7 C443.5,320.4 449.9,319.2 453.5,319.1 C457.1,319.0 460.2,321.0 463.3,322.0 C466.4,323.0 469.9,323.4 472.1,325.2 C474.3,327.0 476.3,330.2 476.6,333.0Z"/></clipPath>
<g clip-path="url(#nc12)"><rect x="435" y="313" width="48" height="39" filter="url(#tNucN)"/></g>
<clipPath id="nc13"><path d="M511.1,337.0 C511.6,338.9 511.0,342.4 509.5,343.9 C508.0,345.4 504.5,345.6 502.2,346.0 C499.9,346.5 497.5,347.0 495.6,346.4 C493.8,345.8 492.3,343.8 491.1,342.2 C489.8,340.7 488.6,339.0 488.3,337.0 C487.9,335.0 487.8,332.2 489.0,330.4 C490.1,328.5 492.8,326.2 495.0,325.8 C497.2,325.4 500.4,326.9 502.2,327.9 C504.1,329.0 504.7,330.7 506.2,332.2 C507.7,333.8 510.6,335.1 511.1,337.0Z"/></clipPath>
<g clip-path="url(#nc13)"><rect x="484" y="323" width="31" height="28" filter="url(#tNucN)"/></g>
<clipPath id="nc14"><path d="M535.4,414.0 C535.0,417.9 533.2,421.6 531.4,424.5 C529.5,427.3 527.0,430.0 524.4,431.1 C521.8,432.2 518.3,432.3 515.6,431.3 C512.8,430.3 509.9,428.2 507.7,425.3 C505.6,422.4 502.9,417.8 502.8,414.0 C502.8,410.2 505.1,404.6 507.4,402.4 C509.7,400.3 513.8,402.2 516.7,401.1 C519.6,400.0 521.8,395.8 524.7,395.8 C527.5,395.9 532.0,398.3 533.8,401.3 C535.6,404.3 535.8,410.1 535.4,414.0Z"/></clipPath>
<g clip-path="url(#nc14)"><rect x="499" y="387" width="42" height="53" filter="url(#tNucN)"/></g>
<clipPath id="nc15"><path d="M487.5,283.0 C488.1,285.7 488.7,290.6 487.1,292.5 C485.5,294.4 480.4,294.3 477.7,294.3 C475.0,294.3 473.4,293.0 470.9,292.5 C468.4,292.0 464.7,292.9 462.6,291.3 C460.6,289.7 458.4,285.6 458.6,283.0 C458.9,280.4 462.1,277.7 464.0,275.7 C465.9,273.8 468.0,272.1 470.2,271.4 C472.5,270.8 475.5,271.0 477.6,271.8 C479.8,272.6 481.6,274.5 483.2,276.3 C484.8,278.2 486.8,280.3 487.5,283.0Z"/></clipPath>
<g clip-path="url(#nc15)"><rect x="456" y="265" width="36" height="36" filter="url(#tNucN)"/></g>
<clipPath id="nc16"><path d="M332.2,349.0 C332.8,351.4 335.0,354.8 333.6,357.0 C332.1,359.3 327.1,362.0 323.5,362.4 C319.9,362.8 315.2,360.6 311.9,359.4 C308.6,358.3 305.5,357.2 303.6,355.5 C301.7,353.8 300.6,351.2 300.4,349.0 C300.3,346.8 300.9,344.2 302.6,342.0 C304.3,339.9 307.2,337.0 310.6,336.0 C314.1,334.9 320.2,334.7 323.4,335.8 C326.6,336.9 328.5,340.5 329.9,342.7 C331.4,344.9 331.6,346.6 332.2,349.0Z"/></clipPath>
<g clip-path="url(#nc16)"><rect x="292" y="332" width="50" height="34" filter="url(#tNucN)"/></g>
<clipPath id="nc17"><path d="M499.8,470.0 C500.2,473.3 501.2,478.1 500.0,481.2 C498.8,484.3 495.4,487.7 492.7,488.6 C490.0,489.5 486.6,487.7 483.9,486.4 C481.1,485.1 477.6,483.7 476.3,480.9 C474.9,478.2 475.5,473.4 475.8,470.0 C476.1,466.6 476.9,463.9 478.1,460.8 C479.4,457.6 480.7,452.8 483.2,450.9 C485.7,449.1 490.8,447.9 493.1,449.7 C495.5,451.4 496.3,457.8 497.4,461.2 C498.5,464.6 499.4,466.7 499.8,470.0Z"/></clipPath>
<g clip-path="url(#nc17)"><rect x="468" y="445" width="39" height="50" filter="url(#tNucN)"/></g>
<clipPath id="nc18"><path d="M381.7,575.0 C382.0,579.0 382.9,584.5 382.3,588.3 C381.7,592.1 379.5,596.9 377.9,597.6 C376.3,598.4 374.2,594.7 372.7,592.8 C371.2,590.8 370.1,588.7 369.1,585.7 C368.1,582.8 366.6,578.9 366.5,575.0 C366.3,571.1 367.0,565.5 368.0,562.3 C369.0,559.1 370.9,557.0 372.5,555.8 C374.1,554.6 376.2,553.7 377.6,555.1 C379.0,556.5 380.2,560.9 380.9,564.3 C381.6,567.6 381.5,571.0 381.7,575.0Z"/></clipPath>
<g clip-path="url(#nc18)"><rect x="364" y="547" width="22" height="56" filter="url(#tNucN)"/></g>
<clipPath id="nc19"><path d="M187.2,615.0 C187.5,617.3 188.0,620.4 185.5,622.2 C183.0,624.0 177.2,624.9 172.3,625.8 C167.5,626.7 161.7,628.0 156.5,627.6 C151.3,627.2 143.6,625.4 141.2,623.3 C138.8,621.2 140.4,617.3 141.9,615.0 C143.3,612.7 147.4,611.8 149.8,609.7 C152.3,607.6 152.4,603.9 156.5,602.5 C160.6,601.0 169.8,600.2 174.3,601.2 C178.9,602.2 181.6,606.2 183.7,608.5 C185.8,610.8 186.9,612.7 187.2,615.0Z"/></clipPath>
<g clip-path="url(#nc19)"><rect x="130" y="598" width="70" height="34" filter="url(#tNucN)"/></g>
<clipPath id="nc20"><path d="M540.1,318.0 C540.5,323.8 540.5,333.3 539.1,338.1 C537.7,342.9 534.2,345.6 531.7,346.7 C529.3,347.9 526.7,346.9 524.5,345.0 C522.2,343.2 519.5,340.3 518.2,335.8 C516.9,331.3 517.0,324.0 517.0,318.0 C516.9,312.0 516.8,305.2 517.9,299.6 C519.0,294.0 521.3,286.2 523.6,284.4 C526.0,282.6 529.7,285.8 531.8,288.9 C533.9,292.0 534.8,298.2 536.2,303.1 C537.6,307.9 539.6,312.2 540.1,318.0Z"/></clipPath>
<g clip-path="url(#nc20)"><rect x="511" y="276" width="34" height="84" filter="url(#tNucN)"/></g>
<clipPath id="nc21"><path d="M431.1,470.0 C432.2,472.0 432.6,475.5 430.0,477.3 C427.4,479.0 420.0,480.2 415.4,480.3 C410.8,480.4 406.6,478.6 402.4,477.9 C398.2,477.1 393.7,477.2 390.2,475.9 C386.7,474.6 381.7,472.1 381.4,470.0 C381.1,467.9 385.2,465.1 388.5,463.6 C391.9,462.1 397.2,461.3 401.5,460.9 C405.8,460.5 410.8,460.4 414.4,461.1 C418.0,461.8 420.2,463.6 423.0,465.1 C425.8,466.5 429.9,468.0 431.1,470.0Z"/></clipPath>
<g clip-path="url(#nc21)"><rect x="377" y="456" width="62" height="28" filter="url(#tNucN)"/></g>
</g>
<g opacity="0.5"><clipPath id="nw0"><path d="M386.2,517.0 C387.1,522.4 390.6,530.6 388.5,535.4 C386.5,540.2 379.0,544.2 373.7,545.8 C368.4,547.4 361.4,547.0 356.6,544.9 C351.7,542.8 347.1,537.7 344.5,533.0 C342.0,528.4 341.2,522.3 341.3,517.0 C341.4,511.7 342.6,506.2 345.1,501.4 C347.6,496.6 351.4,490.4 356.3,488.0 C361.1,485.6 369.7,484.4 374.1,486.9 C378.5,489.5 380.7,498.2 382.7,503.2 C384.7,508.2 385.2,511.6 386.2,517.0Z"/></clipPath><g clip-path="url(#nw0)"><rect x="329" y="478" width="73" height="78" filter="url(#tWhite2)"/></g><clipPath id="nw1"><path d="M370.8,572.0 C370.0,577.5 368.7,580.7 367.1,585.6 C365.5,590.5 364.2,598.5 361.1,601.3 C358.1,604.1 352.0,604.8 348.6,602.5 C345.3,600.2 343.1,592.8 341.1,587.7 C339.1,582.6 336.5,577.1 336.6,572.0 C336.7,566.9 339.4,561.0 341.6,556.8 C343.8,552.7 346.6,549.6 349.8,547.3 C353.1,545.0 357.4,542.2 361.0,543.1 C364.7,544.1 370.3,548.1 371.9,552.9 C373.5,557.7 371.6,566.5 370.8,572.0Z"/></clipPath><g clip-path="url(#nw1)"><rect x="330" y="533" width="50" height="78" filter="url(#tWhite2)"/></g><clipPath id="nw2"><path d="M359.8,393.0 C359.5,396.4 356.2,400.4 353.9,402.7 C351.6,405.0 348.9,404.9 345.9,406.6 C343.0,408.3 339.5,413.1 336.2,413.0 C332.9,412.9 327.3,409.4 326.0,406.1 C324.7,402.7 327.5,396.7 328.3,393.0 C329.0,389.3 329.2,386.6 330.7,383.7 C332.1,380.9 334.4,377.2 337.1,375.9 C339.8,374.6 343.8,375.1 346.9,376.1 C349.9,377.1 353.3,379.2 355.4,382.0 C357.6,384.9 360.1,389.6 359.8,393.0Z"/></clipPath><g clip-path="url(#nw2)"><rect x="320" y="368" width="45" height="50" filter="url(#tWhite2)"/></g><clipPath id="nw3"><path d="M421.2,398.0 C421.4,401.7 418.4,406.9 415.4,409.4 C412.4,411.8 407.2,411.7 403.3,412.6 C399.4,413.6 395.4,415.8 391.8,415.0 C388.3,414.3 384.5,411.1 382.3,408.3 C380.0,405.5 378.7,401.7 378.3,398.0 C378.0,394.3 377.8,389.1 380.1,386.3 C382.4,383.5 388.1,381.7 392.0,381.3 C395.8,380.9 399.5,382.7 403.2,383.7 C406.8,384.8 411.1,385.1 414.1,387.5 C417.1,389.9 421.0,394.3 421.2,398.0Z"/></clipPath><g clip-path="url(#nw3)"><rect x="370" y="373" width="56" height="50" filter="url(#tWhite2)"/></g><clipPath id="nw4"><path d="M534.4,455.0 C533.6,458.5 530.6,460.6 528.9,463.3 C527.1,465.9 526.3,469.2 524.0,470.9 C521.8,472.7 517.9,474.6 515.2,473.8 C512.6,473.0 509.6,469.4 507.9,466.3 C506.2,463.2 504.7,458.7 504.8,455.0 C504.9,451.3 506.6,446.6 508.5,444.3 C510.4,441.9 513.8,441.9 516.4,440.8 C519.1,439.7 521.5,437.5 524.4,437.7 C527.2,438.0 531.9,439.5 533.6,442.3 C535.2,445.2 535.1,451.5 534.4,455.0Z"/></clipPath><g clip-path="url(#nw4)"><rect x="500" y="430" width="39" height="50" filter="url(#tWhite2)"/></g><clipPath id="nw5"><path d="M466.0,497.0 C466.4,499.9 465.9,504.2 463.9,506.5 C461.9,508.7 457.2,510.5 454.1,510.7 C450.9,510.9 447.9,508.7 445.0,507.6 C442.2,506.6 439.7,506.4 437.0,504.6 C434.4,502.8 429.5,499.8 429.2,497.0 C428.8,494.2 432.4,490.1 435.0,488.1 C437.5,486.1 441.3,485.4 444.5,484.8 C447.6,484.1 450.9,483.5 453.7,484.2 C456.6,484.9 459.4,486.9 461.5,489.1 C463.5,491.2 465.6,494.1 466.0,497.0Z"/></clipPath><g clip-path="url(#nw5)"><rect x="427" y="477" width="45" height="39" filter="url(#tWhite2)"/></g><clipPath id="nw6"><path d="M332.8,352.0 C332.1,354.7 330.8,356.5 328.8,359.0 C326.8,361.5 325.0,365.5 321.0,366.9 C317.0,368.4 308.9,368.7 304.7,367.5 C300.6,366.2 298.4,362.0 296.3,359.4 C294.2,356.8 292.7,354.7 292.3,352.0 C291.8,349.3 291.5,345.9 293.6,343.4 C295.8,340.9 300.6,337.8 305.0,337.0 C309.4,336.3 315.4,337.7 320.1,338.7 C324.9,339.7 331.4,340.7 333.5,342.9 C335.6,345.2 333.6,349.3 332.8,352.0Z"/></clipPath><g clip-path="url(#nw6)"><rect x="281" y="332" width="64" height="39" filter="url(#tWhite2)"/></g><clipPath id="nw7"><path d="M361.3,395.0 C360.5,399.2 358.1,402.0 356.4,405.4 C354.6,408.8 353.5,413.3 350.8,415.5 C348.2,417.6 343.6,419.4 340.5,418.3 C337.4,417.2 334.2,412.7 332.2,408.8 C330.1,404.9 327.6,399.3 328.0,395.0 C328.3,390.7 332.0,386.2 334.3,383.3 C336.6,380.3 338.9,379.2 341.8,377.2 C344.7,375.2 348.4,370.9 351.6,371.3 C354.8,371.8 359.4,376.1 361.0,380.0 C362.6,383.9 362.0,390.8 361.3,395.0Z"/></clipPath><g clip-path="url(#nw7)"><rect x="324" y="364" width="45" height="62" filter="url(#tWhite2)"/></g><clipPath id="nw8"><path d="M311.9,391.0 C311.0,395.3 310.5,398.3 308.8,401.7 C307.1,405.2 305.0,409.6 301.8,411.6 C298.6,413.6 293.2,415.0 289.6,413.7 C286.0,412.5 282.6,408.1 280.2,404.3 C277.8,400.5 274.8,395.1 275.2,391.0 C275.5,386.9 279.6,382.5 282.2,379.4 C284.8,376.3 287.4,374.2 290.7,372.3 C294.1,370.3 298.6,367.1 302.6,367.6 C306.5,368.2 312.7,371.8 314.2,375.7 C315.8,379.6 312.8,386.7 311.9,391.0Z"/></clipPath><g clip-path="url(#nw8)"><rect x="269" y="360" width="53" height="62" filter="url(#tWhite2)"/></g><clipPath id="nw9"><path d="M283.5,505.0 C283.6,509.5 285.6,514.5 283.4,518.6 C281.1,522.7 275.6,528.0 270.0,529.7 C264.5,531.4 256.3,530.6 250.3,529.0 C244.2,527.4 236.8,524.2 233.8,520.2 C230.7,516.2 230.8,509.5 231.8,505.0 C232.9,500.5 237.2,497.6 240.2,493.5 C243.3,489.5 244.9,483.6 250.1,480.7 C255.4,477.8 266.2,474.5 271.7,476.3 C277.1,478.1 281.1,486.8 283.1,491.6 C285.0,496.4 283.5,500.5 283.5,505.0Z"/></clipPath><g clip-path="url(#nw9)"><rect x="218" y="471" width="84" height="67" filter="url(#tWhite2)"/></g><clipPath id="nw10"><path d="M422.6,402.0 C421.9,406.2 421.7,409.2 419.9,412.8 C418.2,416.5 415.9,421.6 412.1,423.8 C408.3,426.0 401.1,427.7 397.2,426.0 C393.2,424.4 390.3,418.1 388.4,414.1 C386.5,410.1 385.6,406.0 385.6,402.0 C385.5,398.0 386.0,392.9 388.2,389.8 C390.4,386.6 394.8,384.8 398.8,383.0 C402.9,381.3 408.1,378.6 412.3,379.4 C416.6,380.2 422.8,384.0 424.5,387.8 C426.3,391.6 423.4,397.8 422.6,402.0Z"/></clipPath><g clip-path="url(#nw10)"><rect x="376" y="373" width="59" height="59" filter="url(#tWhite2)"/></g><clipPath id="nw11"><path d="M468.5,305.0 C469.1,307.4 466.9,311.8 464.8,313.6 C462.6,315.4 458.6,315.4 455.8,315.8 C453.0,316.3 450.4,317.1 448.0,316.5 C445.5,315.9 442.9,314.2 441.1,312.3 C439.4,310.4 437.9,307.7 437.6,305.0 C437.3,302.3 437.6,298.6 439.3,296.4 C440.9,294.2 444.7,292.2 447.4,292.0 C450.1,291.7 453.2,293.9 455.5,295.0 C457.7,296.2 458.8,297.3 461.0,298.9 C463.1,300.6 467.8,302.6 468.5,305.0Z"/></clipPath><g clip-path="url(#nw11)"><rect x="432" y="287" width="39" height="36" filter="url(#tWhite2)"/></g><clipPath id="nw12"><path d="M476.6,333.0 C477.0,335.8 476.1,339.7 474.1,342.0 C472.1,344.4 468.0,346.7 464.6,347.3 C461.3,347.9 456.8,346.8 454.1,345.5 C451.3,344.2 450.1,341.5 448.3,339.4 C446.5,337.3 444.5,335.8 443.4,333.0 C442.3,330.2 440.1,325.0 441.8,322.7 C443.5,320.4 449.9,319.2 453.5,319.1 C457.1,319.0 460.2,321.0 463.3,322.0 C466.4,323.0 469.9,323.4 472.1,325.2 C474.3,327.0 476.3,330.2 476.6,333.0Z"/></clipPath><g clip-path="url(#nw12)"><rect x="435" y="313" width="48" height="39" filter="url(#tWhite2)"/></g><clipPath id="nw13"><path d="M511.1,337.0 C511.6,338.9 511.0,342.4 509.5,343.9 C508.0,345.4 504.5,345.6 502.2,346.0 C499.9,346.5 497.5,347.0 495.6,346.4 C493.8,345.8 492.3,343.8 491.1,342.2 C489.8,340.7 488.6,339.0 488.3,337.0 C487.9,335.0 487.8,332.2 489.0,330.4 C490.1,328.5 492.8,326.2 495.0,325.8 C497.2,325.4 500.4,326.9 502.2,327.9 C504.1,329.0 504.7,330.7 506.2,332.2 C507.7,333.8 510.6,335.1 511.1,337.0Z"/></clipPath><g clip-path="url(#nw13)"><rect x="484" y="323" width="31" height="28" filter="url(#tWhite2)"/></g><clipPath id="nw14"><path d="M535.4,414.0 C535.0,417.9 533.2,421.6 531.4,424.5 C529.5,427.3 527.0,430.0 524.4,431.1 C521.8,432.2 518.3,432.3 515.6,431.3 C512.8,430.3 509.9,428.2 507.7,425.3 C505.6,422.4 502.9,417.8 502.8,414.0 C502.8,410.2 505.1,404.6 507.4,402.4 C509.7,400.3 513.8,402.2 516.7,401.1 C519.6,400.0 521.8,395.8 524.7,395.8 C527.5,395.9 532.0,398.3 533.8,401.3 C535.6,404.3 535.8,410.1 535.4,414.0Z"/></clipPath><g clip-path="url(#nw14)"><rect x="499" y="387" width="42" height="53" filter="url(#tWhite2)"/></g><clipPath id="nw15"><path d="M487.5,283.0 C488.1,285.7 488.7,290.6 487.1,292.5 C485.5,294.4 480.4,294.3 477.7,294.3 C475.0,294.3 473.4,293.0 470.9,292.5 C468.4,292.0 464.7,292.9 462.6,291.3 C460.6,289.7 458.4,285.6 458.6,283.0 C458.9,280.4 462.1,277.7 464.0,275.7 C465.9,273.8 468.0,272.1 470.2,271.4 C472.5,270.8 475.5,271.0 477.6,271.8 C479.8,272.6 481.6,274.5 483.2,276.3 C484.8,278.2 486.8,280.3 487.5,283.0Z"/></clipPath><g clip-path="url(#nw15)"><rect x="456" y="265" width="36" height="36" filter="url(#tWhite2)"/></g><clipPath id="nw16"><path d="M332.2,349.0 C332.8,351.4 335.0,354.8 333.6,357.0 C332.1,359.3 327.1,362.0 323.5,362.4 C319.9,362.8 315.2,360.6 311.9,359.4 C308.6,358.3 305.5,357.2 303.6,355.5 C301.7,353.8 300.6,351.2 300.4,349.0 C300.3,346.8 300.9,344.2 302.6,342.0 C304.3,339.9 307.2,337.0 310.6,336.0 C314.1,334.9 320.2,334.7 323.4,335.8 C326.6,336.9 328.5,340.5 329.9,342.7 C331.4,344.9 331.6,346.6 332.2,349.0Z"/></clipPath><g clip-path="url(#nw16)"><rect x="292" y="332" width="50" height="34" filter="url(#tWhite2)"/></g><clipPath id="nw17"><path d="M499.8,470.0 C500.2,473.3 501.2,478.1 500.0,481.2 C498.8,484.3 495.4,487.7 492.7,488.6 C490.0,489.5 486.6,487.7 483.9,486.4 C481.1,485.1 477.6,483.7 476.3,480.9 C474.9,478.2 475.5,473.4 475.8,470.0 C476.1,466.6 476.9,463.9 478.1,460.8 C479.4,457.6 480.7,452.8 483.2,450.9 C485.7,449.1 490.8,447.9 493.1,449.7 C495.5,451.4 496.3,457.8 497.4,461.2 C498.5,464.6 499.4,466.7 499.8,470.0Z"/></clipPath><g clip-path="url(#nw17)"><rect x="468" y="445" width="39" height="50" filter="url(#tWhite2)"/></g><clipPath id="nw18"><path d="M381.7,575.0 C382.0,579.0 382.9,584.5 382.3,588.3 C381.7,592.1 379.5,596.9 377.9,597.6 C376.3,598.4 374.2,594.7 372.7,592.8 C371.2,590.8 370.1,588.7 369.1,585.7 C368.1,582.8 366.6,578.9 366.5,575.0 C366.3,571.1 367.0,565.5 368.0,562.3 C369.0,559.1 370.9,557.0 372.5,555.8 C374.1,554.6 376.2,553.7 377.6,555.1 C379.0,556.5 380.2,560.9 380.9,564.3 C381.6,567.6 381.5,571.0 381.7,575.0Z"/></clipPath><g clip-path="url(#nw18)"><rect x="364" y="547" width="22" height="56" filter="url(#tWhite2)"/></g><clipPath id="nw19"><path d="M187.2,615.0 C187.5,617.3 188.0,620.4 185.5,622.2 C183.0,624.0 177.2,624.9 172.3,625.8 C167.5,626.7 161.7,628.0 156.5,627.6 C151.3,627.2 143.6,625.4 141.2,623.3 C138.8,621.2 140.4,617.3 141.9,615.0 C143.3,612.7 147.4,611.8 149.8,609.7 C152.3,607.6 152.4,603.9 156.5,602.5 C160.6,601.0 169.8,600.2 174.3,601.2 C178.9,602.2 181.6,606.2 183.7,608.5 C185.8,610.8 186.9,612.7 187.2,615.0Z"/></clipPath><g clip-path="url(#nw19)"><rect x="130" y="598" width="70" height="34" filter="url(#tWhite2)"/></g><clipPath id="nw20"><path d="M540.1,318.0 C540.5,323.8 540.5,333.3 539.1,338.1 C537.7,342.9 534.2,345.6 531.7,346.7 C529.3,347.9 526.7,346.9 524.5,345.0 C522.2,343.2 519.5,340.3 518.2,335.8 C516.9,331.3 517.0,324.0 517.0,318.0 C516.9,312.0 516.8,305.2 517.9,299.6 C519.0,294.0 521.3,286.2 523.6,284.4 C526.0,282.6 529.7,285.8 531.8,288.9 C533.9,292.0 534.8,298.2 536.2,303.1 C537.6,307.9 539.6,312.2 540.1,318.0Z"/></clipPath><g clip-path="url(#nw20)"><rect x="511" y="276" width="34" height="84" filter="url(#tWhite2)"/></g><clipPath id="nw21"><path d="M431.1,470.0 C432.2,472.0 432.6,475.5 430.0,477.3 C427.4,479.0 420.0,480.2 415.4,480.3 C410.8,480.4 406.6,478.6 402.4,477.9 C398.2,477.1 393.7,477.2 390.2,475.9 C386.7,474.6 381.7,472.1 381.4,470.0 C381.1,467.9 385.2,465.1 388.5,463.6 C391.9,462.1 397.2,461.3 401.5,460.9 C405.8,460.5 410.8,460.4 414.4,461.1 C418.0,461.8 420.2,463.6 423.0,465.1 C425.8,466.5 429.9,468.0 431.1,470.0Z"/></clipPath><g clip-path="url(#nw21)"><rect x="377" y="456" width="62" height="28" filter="url(#tWhite2)"/></g></g>
<g transform="rotate(52 396 474)"><ellipse cx="396" cy="474" rx="46" ry="21" fill="#c08ad4" filter="url(#b1)"/><ellipse cx="396" cy="474" rx="39" ry="15" fill="#d6b0e8" stroke="#a070c8" stroke-width="2.2"/><ellipse cx="396" cy="474" rx="30" ry="10" fill="#ecd4f2" stroke="#e07cc8" stroke-width="1.6"/><ellipse cx="396" cy="474" rx="20" ry="5" fill="#fff6fc" stroke="#c986d6" stroke-width="1"/></g>
<path d="M457.4,548.1 C456.7,554.5 455.9,563.5 453.1,568.6 C450.2,573.7 444.7,577.4 440.5,578.8 C436.3,580.2 431.0,579.8 427.9,576.9 C424.7,573.9 422.6,566.8 421.6,561.0 C420.6,555.1 420.6,547.8 421.8,541.8 C423.0,535.8 425.9,530.6 428.8,524.8 C431.7,519.0 435.4,509.2 439.5,506.8 C443.5,504.4 450.2,506.5 453.2,510.4 C456.1,514.3 456.4,523.8 457.1,530.1 C457.8,536.4 458.1,541.7 457.4,548.1Z" fill="#f4e4f6" opacity="0.85" filter="url(#b3)"/>
<path d="M426.9,440.6 C427.0,443.0 425.6,446.4 424.2,448.1 C422.8,449.8 420.3,450.5 418.4,451.0 C416.5,451.5 414.6,451.6 412.8,451.1 C410.9,450.6 408.4,449.7 407.2,447.9 C406.0,446.2 405.7,443.0 405.7,440.6 C405.7,438.2 406.2,435.3 407.3,433.4 C408.4,431.5 410.7,429.7 412.5,429.2 C414.4,428.7 416.5,429.7 418.4,430.4 C420.2,431.2 422.1,432.0 423.5,433.7 C424.9,435.4 426.8,438.2 426.9,440.6Z" fill="#dcc0ec" stroke="#9c70c8" stroke-width="2.6" opacity="0.9" filter="url(#b0_6)"/>
<path d="M420.9,440.6 C420.9,441.8 419.6,443.7 418.7,444.4 C417.9,445.1 416.7,444.8 415.6,444.9 C414.5,445.0 412.7,445.7 411.9,445.0 C411.1,444.3 410.7,441.9 410.8,440.6 C411.0,439.3 411.9,437.9 412.7,437.1 C413.5,436.2 414.6,435.6 415.6,435.6 C416.6,435.5 417.8,436.1 418.7,436.9 C419.5,437.8 420.9,439.4 420.9,440.6Z" fill="#f6e8f8" opacity="0.75"/>
<path d="M489.8,494.3 C489.6,497.1 488.6,499.8 487.3,502.3 C486.0,504.9 484.4,508.5 482.1,509.8 C479.7,511.1 475.6,511.5 473.2,510.3 C470.8,509.1 469.0,505.2 467.9,502.6 C466.7,499.9 466.2,497.1 466.1,494.3 C466.0,491.5 466.0,488.0 467.2,485.5 C468.4,483.0 471.0,480.1 473.4,479.2 C475.9,478.3 479.3,478.9 481.7,480.0 C484.2,481.0 487.0,483.0 488.4,485.3 C489.7,487.7 490.0,491.5 489.8,494.3Z" fill="#dcc0ec" stroke="#9c70c8" stroke-width="2.6" opacity="0.9" filter="url(#b0_6)"/>
<path d="M482.7,494.3 C482.6,495.9 482.4,497.4 481.6,498.8 C480.8,500.2 479.0,502.6 477.7,502.6 C476.4,502.6 474.7,500.1 473.9,498.7 C473.1,497.3 472.8,495.9 472.7,494.3 C472.6,492.7 472.3,490.3 473.1,489.0 C474.0,487.8 476.2,487.0 477.7,487.0 C479.2,487.0 481.4,487.8 482.3,489.0 C483.1,490.3 482.8,492.7 482.7,494.3Z" fill="#f6e8f8" opacity="0.75"/>
<path d="M476.3,525.4 C476.4,528.0 476.6,531.0 475.3,533.3 C474.0,535.6 471.1,538.4 468.4,539.2 C465.7,540.0 461.9,539.1 459.2,538.1 C456.5,537.0 453.8,535.2 452.2,533.1 C450.7,531.0 449.6,527.9 449.6,525.4 C449.7,522.9 450.8,520.0 452.4,517.9 C454.0,515.7 456.5,513.7 459.2,512.7 C461.8,511.8 465.6,511.4 468.2,512.2 C470.9,513.0 473.7,515.5 475.0,517.7 C476.4,519.9 476.3,522.8 476.3,525.4Z" fill="#dcc0ec" stroke="#9c70c8" stroke-width="2.6" opacity="0.9" filter="url(#b0_6)"/>
<path d="M469.2,525.4 C469.0,526.8 468.4,528.0 467.5,529.0 C466.6,530.1 465.0,531.5 463.6,531.6 C462.2,531.7 460.1,530.7 459.0,529.6 C458.0,528.6 457.0,526.7 457.1,525.4 C457.3,524.1 458.9,523.0 459.9,522.0 C461.0,521.1 462.1,519.9 463.6,519.7 C465.1,519.4 467.9,519.6 468.9,520.5 C469.8,521.5 469.4,524.0 469.2,525.4Z" fill="#f6e8f8" opacity="0.75"/>
<path d="M457.4,553.6 C457.7,555.7 456.5,558.8 454.9,560.4 C453.3,562.1 450.1,563.0 447.6,563.5 C445.1,564.0 442.3,564.2 439.9,563.6 C437.6,563.0 435.1,561.6 433.6,559.9 C432.1,558.2 430.9,555.8 430.8,553.6 C430.7,551.4 431.3,548.7 432.8,546.8 C434.3,545.0 437.1,543.2 439.6,542.7 C442.1,542.1 445.4,542.8 447.6,543.7 C449.8,544.6 451.4,546.3 453.0,547.9 C454.7,549.6 457.1,551.5 457.4,553.6Z" fill="#dcc0ec" stroke="#9c70c8" stroke-width="2.6" opacity="0.9" filter="url(#b0_6)"/>
<path d="M449.3,553.6 C449.3,554.7 448.8,556.2 447.9,557.1 C447.0,558.0 445.2,558.8 443.8,558.8 C442.4,558.9 440.1,558.3 439.3,557.4 C438.5,556.5 439.1,554.8 439.2,553.6 C439.2,552.4 438.8,551.0 439.5,550.0 C440.3,549.0 442.4,547.7 443.8,547.7 C445.2,547.8 446.8,549.3 447.7,550.3 C448.6,551.3 449.2,552.5 449.3,553.6Z" fill="#f6e8f8" opacity="0.75"/>
<path d="M437.5,584.7 C437.4,587.0 436.6,589.4 435.5,591.5 C434.4,593.6 432.6,596.3 430.6,597.2 C428.6,598.0 425.3,597.8 423.3,596.8 C421.3,595.9 419.4,593.4 418.4,591.4 C417.4,589.4 417.3,587.1 417.2,584.7 C417.1,582.3 416.5,579.3 417.6,577.3 C418.6,575.3 421.2,573.3 423.3,572.7 C425.4,572.1 428.1,572.9 430.2,573.8 C432.2,574.6 434.4,576.0 435.6,577.8 C436.8,579.6 437.5,582.4 437.5,584.7Z" fill="#dcc0ec" stroke="#9c70c8" stroke-width="2.6" opacity="0.9" filter="url(#b0_6)"/>
<path d="M432.6,584.7 C432.6,585.9 431.2,587.5 430.2,588.3 C429.3,589.2 428.0,589.8 426.9,589.7 C425.8,589.6 424.8,588.8 423.9,588.0 C422.9,587.2 421.4,585.9 421.3,584.7 C421.2,583.5 422.3,581.4 423.2,580.7 C424.1,579.9 425.7,580.1 426.9,580.2 C428.1,580.3 429.3,580.3 430.2,581.0 C431.2,581.8 432.6,583.5 432.6,584.7Z" fill="#f6e8f8" opacity="0.75"/>
<path d="M401.3,553.6 C401.5,555.7 401.3,558.3 400.4,560.2 C399.5,562.1 397.7,564.1 396.0,564.8 C394.3,565.5 391.9,565.2 390.1,564.5 C388.4,563.7 386.4,562.1 385.5,560.3 C384.5,558.5 384.3,555.7 384.4,553.6 C384.6,551.5 385.2,549.4 386.2,547.5 C387.1,545.7 388.4,543.4 390.0,542.4 C391.7,541.5 394.5,541.2 396.1,542.1 C397.7,542.9 398.8,545.8 399.7,547.7 C400.5,549.6 401.2,551.5 401.3,553.6Z" fill="#dcc0ec" stroke="#9c70c8" stroke-width="2.6" opacity="0.9" filter="url(#b0_6)"/>
<path d="M396.8,553.6 C396.8,554.7 396.5,556.1 395.8,557.1 C395.2,558.0 393.9,559.5 393.0,559.5 C392.1,559.4 391.1,557.7 390.5,556.7 C389.8,555.7 389.4,554.8 389.3,553.6 C389.2,552.4 389.1,550.5 389.7,549.6 C390.4,548.8 392.0,548.3 393.0,548.4 C394.0,548.5 395.0,549.5 395.6,550.4 C396.3,551.2 396.8,552.5 396.8,553.6Z" fill="#f6e8f8" opacity="0.75"/>
<path d="M346.6,610.0 C346.6,612.3 346.0,615.0 344.3,616.9 C342.5,618.8 339.3,620.9 336.2,621.6 C333.0,622.4 328.9,622.1 325.6,621.4 C322.2,620.7 318.1,619.4 316.2,617.5 C314.3,615.6 313.8,612.3 314.2,610.0 C314.6,607.7 316.9,605.7 318.8,603.8 C320.7,601.9 322.6,599.7 325.6,598.6 C328.5,597.6 333.5,596.6 336.6,597.4 C339.7,598.1 342.7,601.0 344.3,603.1 C346.0,605.2 346.6,607.7 346.6,610.0Z" fill="#dcc0ec" stroke="#9c70c8" stroke-width="2.6" opacity="0.9" filter="url(#b0_6)"/>
<path d="M339.2,610.0 C338.9,611.2 336.4,612.1 335.0,613.0 C333.6,613.8 332.6,614.9 330.8,615.1 C329.0,615.4 325.7,615.3 324.4,614.5 C323.2,613.6 323.1,611.4 323.2,610.0 C323.4,608.6 324.1,607.1 325.4,606.2 C326.7,605.3 329.0,604.7 330.8,604.6 C332.6,604.6 335.0,605.2 336.4,606.0 C337.8,606.9 339.4,608.8 339.2,610.0Z" fill="#f6e8f8" opacity="0.75"/>
<path d="M364.9,459.0 C365.0,460.8 364.6,463.1 363.6,464.5 C362.6,466.0 360.6,467.5 358.9,468.0 C357.2,468.4 354.9,468.0 353.3,467.3 C351.7,466.6 350.6,465.1 349.5,463.7 C348.3,462.3 346.7,460.8 346.4,459.0 C346.1,457.2 346.7,454.4 347.8,453.1 C349.0,451.7 351.5,451.2 353.3,450.8 C355.1,450.4 357.0,450.3 358.7,450.8 C360.3,451.3 362.1,452.4 363.2,453.8 C364.2,455.2 364.8,457.2 364.9,459.0Z" fill="#dcc0ec" stroke="#9c70c8" stroke-width="2.6" opacity="0.9" filter="url(#b0_6)"/>
<path d="M360.8,459.0 C360.7,459.9 359.4,461.0 358.6,461.6 C357.8,462.3 357.0,462.7 356.0,462.8 C355.0,462.9 353.4,462.9 352.8,462.2 C352.1,461.6 352.0,460.0 352.1,459.0 C352.2,458.0 352.7,457.0 353.4,456.4 C354.1,455.7 355.1,455.2 356.0,455.1 C356.9,455.1 358.1,455.4 358.9,456.1 C359.7,456.7 360.8,458.1 360.8,459.0Z" fill="#f6e8f8" opacity="0.75"/>
<path d="M509.2,513.0 C509.4,515.0 509.0,517.8 507.9,519.4 C506.8,521.0 504.5,522.1 502.8,522.5 C501.0,522.8 499.1,522.3 497.5,521.7 C495.8,521.1 494.0,520.2 492.8,518.8 C491.6,517.4 490.3,515.0 490.3,513.0 C490.2,511.0 491.3,508.4 492.5,506.9 C493.7,505.4 495.6,504.4 497.3,503.9 C499.0,503.4 501.1,503.3 502.7,503.9 C504.2,504.5 505.6,506.1 506.7,507.6 C507.8,509.1 509.0,511.0 509.2,513.0Z" fill="#dcc0ec" stroke="#9c70c8" stroke-width="2.6" opacity="0.9" filter="url(#b0_6)"/>
<path d="M504.3,513.0 C504.2,514.1 503.6,515.5 502.9,516.2 C502.2,516.9 501.0,517.1 500.0,517.1 C499.0,517.2 497.8,517.0 497.0,516.3 C496.2,515.6 495.2,514.0 495.3,513.0 C495.3,512.0 496.6,510.8 497.4,510.1 C498.2,509.4 499.1,508.8 500.0,508.7 C500.9,508.6 502.4,508.9 503.1,509.6 C503.8,510.3 504.3,511.9 504.3,513.0Z" fill="#f6e8f8" opacity="0.75"/>
<path d="M522.1,385.0 C521.9,386.8 520.5,388.4 519.3,389.8 C518.2,391.2 516.7,392.5 515.0,393.2 C513.2,393.9 510.7,394.5 508.7,394.1 C506.8,393.7 504.2,392.3 503.2,390.8 C502.2,389.2 502.5,386.8 502.6,385.0 C502.7,383.2 503.0,381.2 504.1,379.8 C505.1,378.4 507.1,377.3 509.0,376.7 C510.9,376.0 513.3,375.6 515.2,376.0 C517.2,376.5 519.6,377.8 520.8,379.3 C521.9,380.8 522.3,383.2 522.1,385.0Z" fill="#dcc0ec" stroke="#9c70c8" stroke-width="2.6" opacity="0.9" filter="url(#b0_6)"/>
<path d="M516.5,385.0 C516.6,386.0 516.3,387.5 515.5,388.2 C514.8,388.9 513.0,389.3 512.0,389.2 C511.0,389.0 510.3,387.9 509.5,387.2 C508.7,386.5 507.4,385.9 507.2,385.0 C507.0,384.1 507.5,382.2 508.3,381.7 C509.1,381.1 510.9,381.5 512.0,381.7 C513.1,381.8 514.1,381.9 514.9,382.4 C515.6,383.0 516.4,384.0 516.5,385.0Z" fill="#f6e8f8" opacity="0.75"/>
<path d="M486.2,430.0 C486.0,432.0 485.0,433.9 484.0,435.5 C483.0,437.0 481.8,438.4 480.4,439.1 C478.9,439.8 477.0,440.2 475.5,439.6 C474.0,439.1 472.4,437.6 471.4,435.9 C470.5,434.3 469.7,432.0 469.8,430.0 C469.8,428.0 470.5,425.5 471.5,424.1 C472.5,422.7 474.3,422.1 475.8,421.5 C477.3,420.9 478.9,420.2 480.5,420.5 C482.1,420.8 484.4,421.8 485.3,423.3 C486.3,424.9 486.4,428.0 486.2,430.0Z" fill="#dcc0ec" stroke="#9c70c8" stroke-width="2.6" opacity="0.9" filter="url(#b0_6)"/>
<path d="M481.5,430.0 C481.6,431.1 481.6,433.1 481.0,433.7 C480.4,434.4 478.9,434.0 478.0,433.9 C477.1,433.8 476.3,433.7 475.5,433.1 C474.8,432.4 473.7,431.0 473.7,430.0 C473.7,429.0 474.7,427.6 475.5,426.8 C476.2,426.1 477.2,425.6 478.0,425.7 C478.8,425.7 479.8,426.3 480.4,427.0 C481.0,427.7 481.4,428.9 481.5,430.0Z" fill="#f6e8f8" opacity="0.75"/>
<path d="M437.7,505.0 C437.5,506.5 436.8,508.0 435.9,509.3 C435.0,510.5 433.9,511.8 432.4,512.5 C431.0,513.2 428.8,513.8 427.3,513.4 C425.8,512.9 424.2,511.2 423.4,509.8 C422.6,508.4 422.3,506.5 422.4,505.0 C422.4,503.5 423.0,501.8 423.9,500.5 C424.7,499.3 426.2,498.1 427.6,497.6 C429.0,497.1 430.9,497.1 432.4,497.5 C434.0,497.9 436.0,498.8 436.8,500.0 C437.7,501.3 437.9,503.5 437.7,505.0Z" fill="#dcc0ec" stroke="#9c70c8" stroke-width="2.6" opacity="0.9" filter="url(#b0_6)"/>
<path d="M433.6,505.0 C433.7,505.9 433.5,507.3 432.9,507.9 C432.3,508.4 430.9,508.3 430.0,508.2 C429.1,508.2 428.3,507.9 427.6,507.4 C426.9,506.9 425.8,505.8 425.8,505.0 C425.8,504.2 427.0,503.3 427.7,502.7 C428.4,502.2 429.2,501.8 430.0,501.8 C430.8,501.7 432.1,501.7 432.7,502.3 C433.4,502.8 433.6,504.1 433.6,505.0Z" fill="#f6e8f8" opacity="0.75"/>
<path d="M528.5,495.0 C528.3,496.8 527.0,498.6 526.0,499.9 C525.0,501.2 523.7,502.5 522.3,503.1 C520.9,503.7 519.0,504.0 517.5,503.5 C516.1,503.0 514.7,501.6 513.7,500.2 C512.7,498.7 511.7,496.8 511.6,495.0 C511.5,493.2 512.1,490.6 513.1,489.4 C514.2,488.1 516.3,487.9 517.9,487.6 C519.4,487.2 520.7,486.9 522.3,487.2 C523.8,487.4 526.2,487.8 527.2,489.1 C528.2,490.4 528.7,493.2 528.5,495.0Z" fill="#dcc0ec" stroke="#9c70c8" stroke-width="2.6" opacity="0.9" filter="url(#b0_6)"/>
<path d="M523.6,495.0 C523.6,495.9 523.1,497.1 522.5,497.8 C521.9,498.5 520.8,499.3 520.0,499.2 C519.2,499.2 518.4,498.1 517.8,497.4 C517.3,496.7 516.7,496.0 516.6,495.0 C516.4,494.0 516.3,492.1 516.9,491.5 C517.5,490.9 519.1,491.1 520.0,491.2 C520.9,491.4 521.7,491.8 522.3,492.4 C522.9,493.0 523.6,494.1 523.6,495.0Z" fill="#f6e8f8" opacity="0.75"/>
<path d="M357.6,470.0 C357.4,471.6 356.1,473.1 355.1,474.3 C354.2,475.4 353.2,476.5 352.0,477.1 C350.8,477.7 349.1,478.2 347.8,477.9 C346.4,477.5 344.8,476.3 344.0,475.0 C343.2,473.7 342.9,471.6 342.9,470.0 C343.0,468.4 343.5,466.5 344.3,465.3 C345.2,464.1 346.6,463.0 347.9,462.7 C349.2,462.3 350.6,462.6 352.0,463.0 C353.4,463.4 355.2,463.7 356.1,464.9 C357.1,466.1 357.8,468.4 357.6,470.0Z" fill="#dcc0ec" stroke="#9c70c8" stroke-width="2.6" opacity="0.9" filter="url(#b0_6)"/>
<path d="M352.7,470.0 C352.6,470.9 352.6,471.9 352.2,472.5 C351.7,473.1 350.8,473.7 350.0,473.7 C349.2,473.8 348.0,473.5 347.5,472.9 C347.0,472.3 346.8,470.8 346.9,470.0 C347.1,469.2 347.7,468.7 348.2,468.0 C348.7,467.2 349.3,465.8 350.0,465.7 C350.7,465.6 351.9,466.6 352.4,467.3 C352.8,468.0 352.7,469.1 352.7,470.0Z" fill="#f6e8f8" opacity="0.75"/>
<path d="M307.5,465.0 C307.6,466.5 307.6,468.6 306.8,469.9 C305.9,471.2 304.2,472.4 302.6,473.0 C301.0,473.5 298.9,473.7 297.3,473.2 C295.8,472.7 294.1,471.2 293.4,469.8 C292.7,468.4 292.9,466.5 293.0,465.0 C293.1,463.5 293.3,462.0 294.0,460.6 C294.7,459.2 295.8,457.2 297.2,456.5 C298.7,455.8 301.2,456.0 302.7,456.7 C304.2,457.3 305.2,459.2 306.0,460.6 C306.8,462.0 307.4,463.5 307.5,465.0Z" fill="#dcc0ec" stroke="#9c70c8" stroke-width="2.6" opacity="0.9" filter="url(#b0_6)"/>
<path d="M303.5,465.0 C303.6,465.9 303.5,467.3 302.9,467.9 C302.4,468.6 300.8,469.1 300.0,468.9 C299.2,468.8 298.6,467.7 298.0,467.0 C297.3,466.4 296.4,465.8 296.3,465.0 C296.2,464.2 296.7,462.8 297.3,462.3 C297.9,461.7 299.2,461.7 300.0,461.7 C300.8,461.8 301.7,462.1 302.3,462.7 C302.9,463.2 303.4,464.1 303.5,465.0Z" fill="#f6e8f8" opacity="0.75"/>
<path d="M465.0,617.0 C464.9,618.6 463.9,620.3 462.7,621.5 C461.5,622.6 459.6,623.3 457.8,623.9 C456.0,624.5 453.6,625.5 451.7,625.2 C449.7,625.0 447.0,623.6 445.9,622.3 C444.9,620.9 445.2,618.6 445.5,617.0 C445.8,615.4 446.5,614.0 447.6,612.7 C448.6,611.4 450.1,609.9 451.9,609.3 C453.7,608.7 456.4,608.5 458.3,608.9 C460.2,609.4 462.2,610.8 463.3,612.2 C464.5,613.5 465.1,615.4 465.0,617.0Z" fill="#dcc0ec" stroke="#9c70c8" stroke-width="2.6" opacity="0.9" filter="url(#b0_6)"/>
<path d="M460.2,617.0 C460.4,617.8 459.4,619.2 458.5,619.8 C457.7,620.4 456.1,620.8 455.0,620.7 C453.9,620.6 452.9,619.9 452.2,619.3 C451.4,618.7 450.9,617.9 450.7,617.0 C450.5,616.1 450.5,614.5 451.2,613.9 C451.9,613.3 454.0,613.2 455.0,613.4 C456.0,613.5 456.6,614.4 457.5,615.0 C458.3,615.6 460.0,616.2 460.2,617.0Z" fill="#f6e8f8" opacity="0.75"/>
<path d="M397.4,605.0 C397.5,606.6 397.1,608.9 396.0,610.2 C394.9,611.4 392.6,612.4 390.8,612.7 C389.1,613.0 387.1,612.4 385.5,611.8 C383.9,611.3 382.2,610.7 380.9,609.6 C379.7,608.4 378.0,606.6 377.9,605.0 C377.8,603.4 379.0,601.1 380.2,600.0 C381.5,598.8 383.8,598.5 385.5,598.1 C387.2,597.8 388.9,597.6 390.6,597.9 C392.2,598.3 394.2,599.1 395.3,600.3 C396.5,601.4 397.3,603.4 397.4,605.0Z" fill="#dcc0ec" stroke="#9c70c8" stroke-width="2.6" opacity="0.9" filter="url(#b0_6)"/>
<path d="M392.1,605.0 C392.1,605.9 391.8,607.2 391.1,607.7 C390.4,608.2 389.0,608.0 388.0,608.0 C387.0,608.0 385.9,608.1 385.1,607.6 C384.2,607.1 382.9,605.8 382.9,605.0 C383.0,604.2 384.6,603.3 385.5,602.7 C386.3,602.2 387.1,601.7 388.0,601.6 C388.9,601.5 390.4,601.7 391.1,602.2 C391.8,602.8 392.1,604.1 392.1,605.0Z" fill="#f6e8f8" opacity="0.75"/>
<path d="M327.6,440.0 C327.7,441.4 326.8,443.3 325.9,444.3 C324.9,445.3 323.2,445.5 321.9,445.9 C320.6,446.2 319.4,446.4 318.0,446.1 C316.7,445.9 314.7,445.5 313.8,444.5 C313.0,443.5 312.9,441.4 313.0,440.0 C313.1,438.6 313.5,437.0 314.3,435.9 C315.1,434.8 316.5,433.6 317.8,433.3 C319.1,432.9 320.7,433.4 322.0,433.8 C323.3,434.3 324.7,434.9 325.6,435.9 C326.6,436.9 327.6,438.6 327.6,440.0Z" fill="#dcc0ec" stroke="#9c70c8" stroke-width="2.6" opacity="0.9" filter="url(#b0_6)"/>
<path d="M322.6,440.0 C322.6,440.8 323.0,442.0 322.5,442.5 C322.1,443.1 320.7,443.5 320.0,443.4 C319.3,443.3 318.7,442.4 318.2,441.8 C317.7,441.3 317.1,440.7 317.0,440.0 C316.9,439.3 317.1,438.2 317.7,437.7 C318.2,437.1 319.2,436.5 320.0,436.5 C320.8,436.5 321.9,437.1 322.3,437.7 C322.8,438.3 322.5,439.2 322.6,440.0Z" fill="#f6e8f8" opacity="0.75"/>
<path d="M512.2,455.0 C512.2,456.6 511.7,458.6 510.8,459.9 C510.0,461.1 508.5,462.2 507.2,462.6 C505.8,463.0 504.2,462.7 503.0,462.2 C501.7,461.7 500.5,460.8 499.5,459.6 C498.5,458.4 497.2,456.6 497.1,455.0 C497.0,453.4 498.1,451.2 499.1,450.1 C500.1,449.0 501.8,448.7 503.1,448.3 C504.4,447.9 505.8,447.4 507.1,447.7 C508.4,447.9 510.2,448.8 511.0,450.0 C511.9,451.2 512.3,453.4 512.2,455.0Z" fill="#dcc0ec" stroke="#9c70c8" stroke-width="2.6" opacity="0.9" filter="url(#b0_6)"/>
<path d="M508.6,455.0 C508.6,455.9 508.0,457.1 507.4,457.8 C506.8,458.4 505.7,458.8 505.0,458.7 C504.3,458.6 503.6,457.8 503.1,457.2 C502.5,456.6 501.7,455.8 501.6,455.0 C501.5,454.2 501.9,452.6 502.5,452.2 C503.1,451.7 504.2,452.0 505.0,452.1 C505.8,452.1 506.5,452.1 507.1,452.6 C507.7,453.1 508.5,454.1 508.6,455.0Z" fill="#f6e8f8" opacity="0.75"/>
<circle cx="488.8" cy="183.9" r="5.5" fill="#8060c0" filter="url(#b1)"/>
<path d="M486,282 L488,310 L491,335 L495,352" fill="none" stroke="#5a3a6a" stroke-width="1.6" stroke-dasharray="2 1.5" opacity="0.8"/>
<path d="M545,496 L540.5,501.3 L534.6,509.1 L522.7,521 L507,532.8 L499,542.7 L487.2,552.5 L479.4,562.4 L474.4,572.2 L469.5,584.1 L455.7,597.9 L443.9,609.7 L434,621.5 L430,629.4 L429,640" fill="none" stroke="#b479c9" stroke-width="16" transform="translate(-7,-5)" opacity="0.85" filter="url(#b1)"/>
<path d="M545,496 L540.5,501.3 L534.6,509.1 L522.7,521 L507,532.8 L499,542.7 L487.2,552.5 L479.4,562.4 L474.4,572.2 L469.5,584.1 L455.7,597.9 L443.9,609.7 L434,621.5 L430,629.4 L429,640" fill="none" stroke="#d48ad2" stroke-width="4" transform="translate(-1,-1)" opacity="0.9"/>
<path d="M545,496 L540.5,501.3 L534.6,509.1 L522.7,521 L507,532.8 L499,542.7 L487.2,552.5 L479.4,562.4 L474.4,572.2 L469.5,584.1 L455.7,597.9 L443.9,609.7 L434,621.5 L430,629.4 L429,640 L545,640 Z" fill="#fff"/>
<path d="M470,580 L487,570" stroke="#e8a0d0" stroke-width="1.2" fill="none"/>
<ellipse cx="313" cy="433.5" rx="3.5" ry="5" fill="#111" transform="rotate(20 313 433.5)"/>
<ellipse cx="150.5" cy="374" rx="3" ry="4" fill="#222"/>
<path d="M20,511 L46.6,523" stroke="#222" stroke-width="1.4"/>
<rect x="55.8" y="592.8" width="72" height="14" fill="#fff" stroke="#444" stroke-width="1.6"/>
</g></g>
<rect x="20.0" y="111.0" width="522.0" height="521.0" fill="none" stroke="#3a3a3a" stroke-width="2.2"/>
<circle cx="149.0" cy="154.3" r="11.2" fill="#fff200" stroke="#111" stroke-width="2.2"/>
<rect x="231.5" y="357.0" width="19.3" height="18.9" fill="#00e400" stroke="#111" stroke-width="2"/>
<polygon points="449.00,450.55 454.26,459.27 464.77,459.27 459.51,468.00 464.77,476.73 454.26,476.73 449.00,485.45 443.74,476.73 433.23,476.73 438.49,468.00 433.23,459.27 443.74,459.27" fill="#ee1d26" stroke="#111" stroke-width="3.3" stroke-linejoin="miter" stroke-miterlimit="10"/>
<polygon points="152.20,674.30 157.19,682.45 167.17,682.45 162.18,690.60 167.17,698.75 157.19,698.75 152.20,706.90 147.21,698.75 137.23,698.75 142.22,690.60 137.23,682.45 147.21,682.45" fill="#ee1d26" stroke="#111" stroke-width="3.3" stroke-linejoin="miter" stroke-miterlimit="10"/>
<rect x="130.6" y="738.1" width="26.4" height="26.2" fill="#8dc63f" stroke="#111" stroke-width="3"/>
<circle cx="143.8" cy="814.2" r="13.2" fill="#fff200" stroke="#111" stroke-width="3"/>
<line x1="691.0" y1="181.3" x2="691.0" y2="858.6" stroke="#949494" stroke-width="1.55"/>
<line x1="691.0" y1="405.9" x2="979.0" y2="405.9" stroke="#949494" stroke-width="1.55"/>
<line x1="691.0" y1="632.4" x2="979.0" y2="632.4" stroke="#949494" stroke-width="1.55"/>
<line x1="691.0" y1="858.6" x2="979.0" y2="858.6" stroke="#949494" stroke-width="1.55"/>
<line x1="727.6" y1="405.9" x2="727.6" y2="402.9" stroke="#707070" stroke-width="1.1"/>
<line x1="765.0" y1="405.9" x2="765.0" y2="402.9" stroke="#707070" stroke-width="1.1"/>
<line x1="802.0" y1="405.9" x2="802.0" y2="402.9" stroke="#707070" stroke-width="1.1"/>
<line x1="839.2" y1="405.9" x2="839.2" y2="402.9" stroke="#707070" stroke-width="1.1"/>
<line x1="876.4" y1="405.9" x2="876.4" y2="402.9" stroke="#707070" stroke-width="1.1"/>
<line x1="913.8" y1="405.9" x2="913.8" y2="402.9" stroke="#707070" stroke-width="1.1"/>
<line x1="951.0" y1="405.9" x2="951.0" y2="402.9" stroke="#707070" stroke-width="1.1"/>
<line x1="727.6" y1="632.4" x2="727.6" y2="629.4" stroke="#707070" stroke-width="1.1"/>
<line x1="765.0" y1="632.4" x2="765.0" y2="629.4" stroke="#707070" stroke-width="1.1"/>
<line x1="802.0" y1="632.4" x2="802.0" y2="629.4" stroke="#707070" stroke-width="1.1"/>
<line x1="839.2" y1="632.4" x2="839.2" y2="629.4" stroke="#707070" stroke-width="1.1"/>
<line x1="876.4" y1="632.4" x2="876.4" y2="629.4" stroke="#707070" stroke-width="1.1"/>
<line x1="913.8" y1="632.4" x2="913.8" y2="629.4" stroke="#707070" stroke-width="1.1"/>
<line x1="951.0" y1="632.4" x2="951.0" y2="629.4" stroke="#707070" stroke-width="1.1"/>
<line x1="727.6" y1="858.6" x2="727.6" y2="855.6" stroke="#707070" stroke-width="1.1"/>
<line x1="765.0" y1="858.6" x2="765.0" y2="855.6" stroke="#707070" stroke-width="1.1"/>
<line x1="802.0" y1="858.6" x2="802.0" y2="855.6" stroke="#707070" stroke-width="1.1"/>
<line x1="839.2" y1="858.6" x2="839.2" y2="855.6" stroke="#707070" stroke-width="1.1"/>
<line x1="876.4" y1="858.6" x2="876.4" y2="855.6" stroke="#707070" stroke-width="1.1"/>
<line x1="913.8" y1="858.6" x2="913.8" y2="855.6" stroke="#707070" stroke-width="1.1"/>
<line x1="951.0" y1="858.6" x2="951.0" y2="855.6" stroke="#707070" stroke-width="1.1"/>
<line x1="691.0" y1="223.5" x2="694.5" y2="223.5" stroke="#949494" stroke-width="1.1"/>
<line x1="691.0" y1="268.5" x2="694.5" y2="268.5" stroke="#949494" stroke-width="1.1"/>
<line x1="691.0" y1="315.0" x2="694.5" y2="315.0" stroke="#949494" stroke-width="1.1"/>
<line x1="691.0" y1="360.0" x2="694.5" y2="360.0" stroke="#949494" stroke-width="1.1"/>
<line x1="691.0" y1="431.5" x2="694.5" y2="431.5" stroke="#949494" stroke-width="1.1"/>
<line x1="691.0" y1="464.8" x2="694.5" y2="464.8" stroke="#949494" stroke-width="1.1"/>
<line x1="691.0" y1="498.9" x2="694.5" y2="498.9" stroke="#949494" stroke-width="1.1"/>
<line x1="691.0" y1="531.8" x2="694.5" y2="531.8" stroke="#949494" stroke-width="1.1"/>
<line x1="691.0" y1="565.0" x2="694.5" y2="565.0" stroke="#949494" stroke-width="1.1"/>
<line x1="691.0" y1="599.0" x2="694.5" y2="599.0" stroke="#949494" stroke-width="1.1"/>
<line x1="691.0" y1="661.5" x2="694.5" y2="661.5" stroke="#949494" stroke-width="1.1"/>
<line x1="691.0" y1="694.8" x2="694.5" y2="694.8" stroke="#949494" stroke-width="1.1"/>
<line x1="691.0" y1="728.0" x2="694.5" y2="728.0" stroke="#949494" stroke-width="1.1"/>
<line x1="691.0" y1="761.3" x2="694.5" y2="761.3" stroke="#949494" stroke-width="1.1"/>
<line x1="691.0" y1="793.7" x2="694.5" y2="793.7" stroke="#949494" stroke-width="1.1"/>
<line x1="691.0" y1="826.4" x2="694.5" y2="826.4" stroke="#949494" stroke-width="1.1"/>
<path d="M690.8,183.3 L692.1,187.2 L693.4,186.9 L694.7,191.0 L696.0,190.4 L697.3,191.1 L698.6,193.7 L699.9,192.9 L701.2,197.0 L702.5,196.8 L703.8,196.1 L705.1,197.4 L706.4,200.7 L707.7,200.3 L709.0,203.5 L710.3,202.7 L711.6,205.0 L712.9,203.7 L714.2,203.1 L715.5,205.1 L716.8,206.1 L718.1,203.8 L719.4,206.6 L720.7,207.1 L722.0,208.5 L723.3,207.1 L724.6,208.1 L725.9,212.9 L727.2,213.5 L728.5,217.4 L729.8,215.9 L731.1,218.4 L732.4,215.7 L733.7,218.1 L735.0,215.4 L736.3,216.8 L737.6,215.3 L738.9,216.3 L740.2,219.4 L741.5,218.3 L742.8,222.5 L744.1,223.5 L745.4,222.7 L746.7,226.8 L748.0,225.0 L749.3,224.7 L750.6,225.4 L751.9,225.5 L753.2,226.7 L754.5,227.0 L755.8,232.4 L757.1,234.0 L758.4,241.2 L759.7,243.1 L761.0,244.5 L762.3,237.5 L763.6,236.9 L764.9,238.2 L766.2,244.2 L767.5,252.3 L768.8,251.9 L770.1,256.1 L771.4,255.5 L772.7,256.5 L774.0,254.1 L775.3,255.5 L776.6,253.4 L777.9,255.1 L779.2,253.6 L780.5,257.1 L781.8,257.1 L783.1,261.3 L784.4,263.0 L785.7,270.2 L787.0,272.2 L788.3,278.8 L789.6,280.9 L790.9,285.5 L792.2,283.6 L793.5,287.1 L794.8,284.6 L796.1,287.4 L797.4,285.1 L798.7,287.8 L800.0,285.6 L801.3,283.8 L802.6,284.9 L803.9,279.2 L805.2,278.7 L806.5,272.8 L807.8,268.4 L809.1,264.0 L810.4,265.3 L811.7,265.8 L813.0,262.6 L814.3,264.2 L815.6,261.1 L816.9,259.9 L818.2,253.1 L819.5,252.9 L820.8,250.5 L822.1,252.6 L823.4,255.5 L824.7,258.0 L826.0,258.3 L827.3,266.2 L828.6,272.7 L829.9,280.0 L831.2,282.1 L832.5,290.8 L833.8,294.0 L835.1,298.3 L836.4,303.1 L837.7,303.3 L839.0,299.8 L840.3,295.9 L841.6,290.9 L842.9,288.2 L844.2,276.4 L845.5,267.1 L846.8,252.2 L848.1,248.5 L849.4,250.1 L850.7,261.0 L852.0,275.6 L853.3,289.3 L854.6,303.1 L855.9,317.8 L857.2,324.8 L858.5,328.5 L859.8,333.1 L861.1,330.7 L862.4,330.3 L863.7,331.7 L865.0,329.3 L866.3,332.0 L867.6,328.1 L868.9,328.3 L870.2,328.6 L871.5,324.1 L872.8,323.9 L874.1,322.7 L875.4,319.7 L876.7,319.9 L878.0,318.7 L879.3,313.4 L880.6,306.3 L881.9,300.7 L883.2,297.5 L884.5,288.1 L885.8,283.1 L887.1,276.3 L888.4,272.2 L889.7,273.1 L891.0,277.0 L892.3,283.1 L893.6,299.5 L894.9,311.5 L896.2,321.4 L897.5,334.8 L898.8,341.4 L900.1,348.2 L901.4,351.8 L902.7,357.6 L904.0,358.2 L905.3,364.5 L906.6,364.7 L907.9,369.0 L909.2,371.3 L910.5,370.5 L911.8,372.8 L913.1,376.2 L914.4,377.1 L915.7,378.0 L917.0,378.9 L918.3,377.6 L919.6,378.3 L920.9,379.2 L922.2,381.9 L923.5,381.1 L924.8,383.6 L926.1,382.1 L927.4,381.5 L928.7,384.6 L930.0,384.8 L931.3,383.1 L932.6,384.8 L933.9,383.6 L935.2,385.3 L936.5,384.3 L937.8,386.0 L939.1,386.3 L940.4,384.3 L941.7,386.2 L943.0,384.9 L944.3,387.3 L945.6,385.2 L946.9,388.0 L948.2,386.5 L949.5,388.8 L950.8,389.6 L952.1,386.9 L953.4,389.1 L954.7,387.3 L956.0,390.8 L957.3,390.5 L958.6,388.3 L959.9,391.7 L961.2,389.4 L962.5,389.3 L963.8,390.1 L965.1,392.5 L966.4,390.8 L967.7,392.8 L969.0,391.1 L970.3,393.9 L971.6,391.6 L972.9,395.0 L974.2,394.8 L975.5,392.0 L976.8,393.3" fill="none" stroke="#333" stroke-width="1.0" stroke-linejoin="round"/>
<path d="M691.0,470.9 L692.3,470.8 L693.6,471.9 L694.9,475.5 L696.2,474.8 L697.5,478.0 L698.8,477.6 L700.1,481.2 L701.4,481.2 L702.7,479.6 L704.0,480.8 L705.3,479.3 L706.6,481.3 L707.9,478.2 L709.2,479.3 L710.5,477.5 L711.8,478.6 L713.1,474.9 L714.4,472.6 L715.7,474.3 L717.0,470.2 L718.3,472.6 L719.6,471.4 L720.9,470.9 L722.2,475.5 L723.5,475.4 L724.8,481.4 L726.1,479.6 L727.4,477.9 L728.7,476.5 L730.0,470.9 L731.3,471.3 L732.6,468.6 L733.9,465.9 L735.2,459.5 L736.5,448.3 L737.8,438.6 L739.1,437.8 L740.4,444.4 L741.7,448.1 L743.0,459.6 L744.3,467.1 L745.6,465.9 L746.9,460.8 L748.2,457.9 L749.5,450.2 L750.8,448.6 L752.1,448.7 L753.4,451.5 L754.7,460.9 L756.0,467.3 L757.3,479.1 L758.6,487.5 L759.9,494.2 L761.2,488.3 L762.5,485.1 L763.8,487.0 L765.1,485.2 L766.4,485.1 L767.7,486.6 L769.0,484.3 L770.3,486.6 L771.6,484.8 L772.9,487.5 L774.2,488.1 L775.5,488.7 L776.8,487.5 L778.1,490.2 L779.4,491.5 L780.7,496.0 L782.0,501.5 L783.3,504.4 L784.6,509.3 L785.9,515.8 L787.2,516.8 L788.5,518.9 L789.8,516.6 L791.1,516.9 L792.4,513.1 L793.7,513.4 L795.0,516.8 L796.3,515.5 L797.6,519.1 L798.9,517.6 L800.2,519.6 L801.5,517.2 L802.8,515.4 L804.1,502.7 L805.4,491.2 L806.7,482.4 L808.0,477.7 L809.3,470.9 L810.6,472.3 L811.9,473.7 L813.2,474.3 L814.5,479.3 L815.8,480.5 L817.1,485.0 L818.4,488.5 L819.7,489.8 L821.0,497.0 L822.3,502.6 L823.6,506.0 L824.9,514.3 L826.2,522.1 L827.5,526.2 L828.8,531.4 L830.1,529.0 L831.4,530.1 L832.7,526.6 L834.0,528.4 L835.3,524.8 L836.6,525.8 L837.9,522.3 L839.2,521.3 L840.5,508.5 L841.8,496.2 L843.1,482.1 L844.4,471.8 L845.7,460.3 L847.0,460.6 L848.3,464.6 L849.6,476.3 L850.9,498.0 L852.2,521.1 L853.5,536.1 L854.8,551.3 L856.1,555.3 L857.4,559.1 L858.7,561.2 L860.0,564.0 L861.3,561.8 L862.6,563.7 L863.9,565.1 L865.2,563.0 L866.5,564.3 L867.8,562.3 L869.1,564.6 L870.4,562.2 L871.7,561.7 L873.0,563.8 L874.3,561.4 L875.6,558.9 L876.9,557.5 L878.2,554.0 L879.5,547.5 L880.8,542.3 L882.1,533.3 L883.4,529.5 L884.7,521.5 L886.0,517.9 L887.3,511.3 L888.6,511.5 L889.9,515.9 L891.2,517.1 L892.5,529.9 L893.8,540.0 L895.1,554.5 L896.4,571.0 L897.7,576.5 L899.0,585.1 L900.3,584.9 L901.6,589.5 L902.9,591.2 L904.2,589.2 L905.5,592.2 L906.8,591.2 L908.1,594.7 L909.4,593.1 L910.7,596.2 L912.0,595.7 L913.3,599.6 L914.6,598.6 L915.9,601.6 L917.2,599.6 L918.5,603.1 L919.8,601.6 L921.1,603.3 L922.4,601.8 L923.7,604.9 L925.0,602.9 L926.3,605.6 L927.6,605.1 L928.9,603.8 L930.2,605.8 L931.5,604.1 L932.8,604.7 L934.1,606.8 L935.4,604.7 L936.7,607.8 L938.0,605.8 L939.3,606.8 L940.6,606.9 L941.9,609.6 L943.2,607.6 L944.5,608.4 L945.8,610.3 L947.1,608.2 L948.4,611.4 L949.7,609.9 L951.0,611.7 L952.3,609.8 L953.6,613.3 L954.9,611.4 L956.2,613.3 L957.5,612.6 L958.8,614.5 L960.1,615.7 L961.4,613.3 L962.7,614.1 L964.0,616.1 L965.3,614.5 L966.6,617.0 L967.9,615.8 L969.2,615.7 L970.5,618.7 L971.8,616.1 L973.1,616.9 L974.4,620.0 L975.7,617.3 L977.0,617.4" fill="none" stroke="#333" stroke-width="1.0" stroke-linejoin="round"/>
<path d="M691.1,825.9 L692.1,825.9 L693.1,825.2 L694.1,825.2 L695.1,824.8 L696.1,825.1 L697.1,825.7 L698.1,826.8 L699.1,827.5 L700.1,828.9 L701.1,829.4 L702.1,830.3 L703.1,830.4 L704.1,830.3 L705.1,830.2 L706.1,829.0 L707.1,828.6 L708.1,827.2 L709.1,826.4 L710.1,825.6 L711.1,824.3 L712.1,822.6 L713.1,821.3 L714.1,819.5 L715.1,818.7 L716.1,817.5 L717.1,817.3 L718.1,817.8 L719.1,818.3 L720.1,818.7 L721.1,819.1 L722.1,820.3 L723.1,821.8 L724.1,822.6 L725.1,821.7 L726.1,820.5 L727.1,818.0 L728.1,815.7 L729.1,811.8 L730.1,806.1 L731.1,799.6 L732.1,793.7 L733.1,787.5 L734.1,781.1 L735.1,774.0 L736.1,768.1 L737.1,763.5 L738.1,762.2 L739.1,761.1 L740.1,760.1 L741.1,760.1 L742.1,760.3 L743.1,762.9 L744.1,767.0 L745.1,771.1 L746.1,775.3 L747.1,778.7 L748.1,780.4 L749.1,782.3 L750.1,783.5 L751.1,785.0 L752.1,785.7 L753.1,786.8 L754.1,787.0 L755.1,787.6 L756.1,787.5 L757.1,788.1 L758.1,789.3 L759.1,792.7 L760.1,795.4 L761.1,796.8 L762.1,794.8 L763.1,791.7 L764.1,788.3 L765.1,786.2 L766.1,785.5 L767.1,784.5 L768.1,783.7 L769.1,782.7 L770.1,780.9 L771.1,776.1 L772.1,769.5 L773.1,763.1 L774.1,755.4 L775.1,746.2 L776.1,741.4 L777.1,744.1 L778.1,751.8 L779.1,760.1 L780.1,767.9 L781.1,776.1 L782.1,784.1 L783.1,789.9 L784.1,793.8 L785.1,796.7 L786.1,799.6 L787.1,801.9 L788.1,802.8 L789.1,803.8 L790.1,804.1 L791.1,804.9 L792.1,805.9 L793.1,808.3 L794.1,811.1 L795.1,813.5 L796.1,814.6 L797.1,815.1 L798.1,814.8 L799.1,815.0 L800.1,814.5 L801.1,814.5 L802.1,813.8 L803.1,812.9 L804.1,806.3 L805.1,797.1 L806.1,786.5 L807.1,777.3 L808.1,771.2 L809.1,767.1 L810.1,763.1 L811.1,759.9 L812.1,755.8 L813.1,751.2 L814.1,744.3 L815.1,732.2 L816.1,719.6 L817.1,711.3 L818.1,712.3 L819.1,717.0 L820.1,725.0 L821.1,733.7 L822.1,750.5 L823.1,772.7 L824.1,792.5 L825.1,801.6 L826.1,807.1 L827.1,811.8 L828.1,814.9 L829.1,817.9 L830.1,819.5 L831.1,821.6 L832.1,822.6 L833.1,823.9 L834.1,823.3 L835.1,817.4 L836.1,806.3 L837.1,793.7 L838.1,776.8 L839.1,752.2 L840.1,724.5 L841.1,701.8 L842.1,679.9 L843.1,659.2 L844.1,644.9 L845.1,642.8 L846.1,649.4 L847.1,660.3 L848.1,674.9 L849.1,694.9 L850.1,728.6 L851.1,764.7 L852.1,789.3 L853.1,804.2 L854.1,816.2 L855.1,824.6 L856.1,826.0 L857.1,825.2 L858.1,823.2 L859.1,821.9 L860.1,821.2 L861.1,823.2 L862.1,826.5 L863.1,830.0 L864.1,833.4 L865.1,835.1 L866.1,837.6 L867.1,839.6 L868.1,841.1 L869.1,842.5 L870.1,843.5 L871.1,843.3 L872.1,843.5 L873.1,843.2 L874.1,843.5 L875.1,842.9 L876.1,843.2 L877.1,842.6 L878.1,842.6 L879.1,842.1 L880.1,839.1 L881.1,831.3 L882.1,822.3 L883.1,811.8 L884.1,796.7 L885.1,780.5 L886.1,770.3 L887.1,771.8 L888.1,780.5 L889.1,791.4 L890.1,801.9 L891.1,810.6 L892.1,820.6 L893.1,830.1 L894.1,837.0 L895.1,840.9 L896.1,843.4 L897.1,844.7 L898.1,846.2 L899.1,846.7 L900.1,847.1 L901.1,844.3 L902.1,839.9 L903.1,834.5 L904.1,831.0 L905.1,830.2 L906.1,832.2 L907.1,836.2 L908.1,839.5 L909.1,842.5 L910.1,845.4 L911.1,848.5 L912.1,850.4 L913.1,852.1 L914.1,851.9 L915.1,852.1 L916.1,852.5 L917.1,852.4 L918.1,852.8 L919.1,852.7 L920.1,853.0 L921.1,852.7 L922.1,853.0 L923.1,853.1 L924.1,852.9 L925.1,853.3 L926.1,853.0 L927.1,853.3 L928.1,853.0 L929.1,853.4 L930.1,853.1 L931.1,853.4 L932.1,853.4 L933.1,853.3 L934.1,853.5 L935.1,853.3 L936.1,853.7 L937.1,853.3 L938.1,853.6 L939.1,853.4 L940.1,853.7 L941.1,853.5 L942.1,853.8 L943.1,853.8 L944.1,853.5 L945.1,853.7 L946.1,853.5 L947.1,853.8 L948.1,853.6 L949.1,853.5 L950.1,853.6 L951.1,853.9 L952.1,853.5 L953.1,853.8 L954.1,853.9 L955.1,853.5 L956.1,853.9 L957.1,853.5 L958.1,853.8 L959.1,853.5 L960.1,853.9 L961.1,853.6 L962.1,853.9 L963.1,853.8 L964.1,853.5 L965.1,853.8 L966.1,853.6 L967.1,853.9 L968.1,853.5 L969.1,853.8 L970.1,853.9 L971.1,853.9 L972.1,853.6 L973.1,853.5 L974.1,853.6 L975.1,853.9 L976.1,853.6 L977.1,853.8 L978.1,853.5" fill="none" stroke="#333" stroke-width="1.25" stroke-linejoin="round"/>
<polygon points="917.80,179.55 922.72,187.72 932.57,187.73 927.65,195.90 932.57,204.07 922.72,204.08 917.80,212.25 912.88,204.08 903.03,204.07 907.95,195.90 903.03,187.72 912.88,187.73" fill="#ee1d26" stroke="#111" stroke-width="3.3" stroke-linejoin="miter" stroke-miterlimit="10"/>
<rect x="935.9" y="443.1" width="25.7" height="25.8" fill="#8dc63f" stroke="#111" stroke-width="3"/>
<circle cx="950.9" cy="684.2" r="12.3" fill="#fff200" stroke="#111" stroke-width="3"/>
<line x1="1092.5" y1="168.7" x2="1092.5" y2="857.8" stroke="#949494" stroke-width="1.55"/>
<line x1="1390.6" y1="168.7" x2="1390.6" y2="857.8" stroke="#949494" stroke-width="1.55"/>
<line x1="1092.5" y1="392.4" x2="1390.6" y2="392.4" stroke="#949494" stroke-width="1.55"/>
<line x1="1092.5" y1="622.3" x2="1390.6" y2="622.3" stroke="#949494" stroke-width="1.55"/>
<line x1="1092.5" y1="857.8" x2="1390.6" y2="857.8" stroke="#949494" stroke-width="1.55"/>
<line x1="1125.2" y1="392.4" x2="1125.2" y2="389.4" stroke="#707070" stroke-width="1.1"/>
<line x1="1158.4" y1="392.4" x2="1158.4" y2="389.4" stroke="#707070" stroke-width="1.1"/>
<line x1="1191.4" y1="392.4" x2="1191.4" y2="389.4" stroke="#707070" stroke-width="1.1"/>
<line x1="1224.9" y1="392.4" x2="1224.9" y2="389.4" stroke="#707070" stroke-width="1.1"/>
<line x1="1258.4" y1="392.4" x2="1258.4" y2="389.4" stroke="#707070" stroke-width="1.1"/>
<line x1="1291.9" y1="392.4" x2="1291.9" y2="389.4" stroke="#707070" stroke-width="1.1"/>
<line x1="1325.0" y1="392.4" x2="1325.0" y2="389.4" stroke="#707070" stroke-width="1.1"/>
<line x1="1358.1" y1="392.4" x2="1358.1" y2="389.4" stroke="#707070" stroke-width="1.1"/>
<line x1="1125.2" y1="622.3" x2="1125.2" y2="619.3" stroke="#707070" stroke-width="1.1"/>
<line x1="1158.4" y1="622.3" x2="1158.4" y2="619.3" stroke="#707070" stroke-width="1.1"/>
<line x1="1191.4" y1="622.3" x2="1191.4" y2="619.3" stroke="#707070" stroke-width="1.1"/>
<line x1="1224.9" y1="622.3" x2="1224.9" y2="619.3" stroke="#707070" stroke-width="1.1"/>
<line x1="1258.4" y1="622.3" x2="1258.4" y2="619.3" stroke="#707070" stroke-width="1.1"/>
<line x1="1291.9" y1="622.3" x2="1291.9" y2="619.3" stroke="#707070" stroke-width="1.1"/>
<line x1="1325.0" y1="622.3" x2="1325.0" y2="619.3" stroke="#707070" stroke-width="1.1"/>
<line x1="1358.1" y1="622.3" x2="1358.1" y2="619.3" stroke="#707070" stroke-width="1.1"/>
<line x1="1125.2" y1="857.8" x2="1125.2" y2="854.8" stroke="#707070" stroke-width="1.1"/>
<line x1="1158.4" y1="857.8" x2="1158.4" y2="854.8" stroke="#707070" stroke-width="1.1"/>
<line x1="1191.4" y1="857.8" x2="1191.4" y2="854.8" stroke="#707070" stroke-width="1.1"/>
<line x1="1224.9" y1="857.8" x2="1224.9" y2="854.8" stroke="#707070" stroke-width="1.1"/>
<line x1="1258.4" y1="857.8" x2="1258.4" y2="854.8" stroke="#707070" stroke-width="1.1"/>
<line x1="1291.9" y1="857.8" x2="1291.9" y2="854.8" stroke="#707070" stroke-width="1.1"/>
<line x1="1325.0" y1="857.8" x2="1325.0" y2="854.8" stroke="#707070" stroke-width="1.1"/>
<line x1="1358.1" y1="857.8" x2="1358.1" y2="854.8" stroke="#707070" stroke-width="1.1"/>
<line x1="1092.5" y1="184.4" x2="1096.0" y2="184.4" stroke="#949494" stroke-width="1.1"/>
<line x1="1390.6" y1="184.4" x2="1387.1" y2="184.4" stroke="#949494" stroke-width="1.1"/>
<line x1="1092.5" y1="209.6" x2="1096.0" y2="209.6" stroke="#949494" stroke-width="1.1"/>
<line x1="1390.6" y1="209.6" x2="1387.1" y2="209.6" stroke="#949494" stroke-width="1.1"/>
<line x1="1092.5" y1="235.7" x2="1096.0" y2="235.7" stroke="#949494" stroke-width="1.1"/>
<line x1="1390.6" y1="235.7" x2="1387.1" y2="235.7" stroke="#949494" stroke-width="1.1"/>
<line x1="1092.5" y1="262.2" x2="1096.0" y2="262.2" stroke="#949494" stroke-width="1.1"/>
<line x1="1390.6" y1="262.2" x2="1387.1" y2="262.2" stroke="#949494" stroke-width="1.1"/>
<line x1="1092.5" y1="288.4" x2="1096.0" y2="288.4" stroke="#949494" stroke-width="1.1"/>
<line x1="1390.6" y1="288.4" x2="1387.1" y2="288.4" stroke="#949494" stroke-width="1.1"/>
<line x1="1092.5" y1="314.6" x2="1096.0" y2="314.6" stroke="#949494" stroke-width="1.1"/>
<line x1="1390.6" y1="314.6" x2="1387.1" y2="314.6" stroke="#949494" stroke-width="1.1"/>
<line x1="1092.5" y1="340.7" x2="1096.0" y2="340.7" stroke="#949494" stroke-width="1.1"/>
<line x1="1390.6" y1="340.7" x2="1387.1" y2="340.7" stroke="#949494" stroke-width="1.1"/>
<line x1="1092.5" y1="366.4" x2="1096.0" y2="366.4" stroke="#949494" stroke-width="1.1"/>
<line x1="1390.6" y1="366.4" x2="1387.1" y2="366.4" stroke="#949494" stroke-width="1.1"/>
<line x1="1092.5" y1="416.3" x2="1096.0" y2="416.3" stroke="#949494" stroke-width="1.1"/>
<line x1="1390.6" y1="416.3" x2="1387.1" y2="416.3" stroke="#949494" stroke-width="1.1"/>
<line x1="1092.5" y1="446.2" x2="1096.0" y2="446.2" stroke="#949494" stroke-width="1.1"/>
<line x1="1390.6" y1="446.2" x2="1387.1" y2="446.2" stroke="#949494" stroke-width="1.1"/>
<line x1="1092.5" y1="475.7" x2="1096.0" y2="475.7" stroke="#949494" stroke-width="1.1"/>
<line x1="1390.6" y1="475.7" x2="1387.1" y2="475.7" stroke="#949494" stroke-width="1.1"/>
<line x1="1092.5" y1="504.9" x2="1096.0" y2="504.9" stroke="#949494" stroke-width="1.1"/>
<line x1="1390.6" y1="504.9" x2="1387.1" y2="504.9" stroke="#949494" stroke-width="1.1"/>
<line x1="1092.5" y1="534.5" x2="1096.0" y2="534.5" stroke="#949494" stroke-width="1.1"/>
<line x1="1390.6" y1="534.5" x2="1387.1" y2="534.5" stroke="#949494" stroke-width="1.1"/>
<line x1="1092.5" y1="563.7" x2="1096.0" y2="563.7" stroke="#949494" stroke-width="1.1"/>
<line x1="1390.6" y1="563.7" x2="1387.1" y2="563.7" stroke="#949494" stroke-width="1.1"/>
<line x1="1092.5" y1="593.5" x2="1096.0" y2="593.5" stroke="#949494" stroke-width="1.1"/>
<line x1="1390.6" y1="593.5" x2="1387.1" y2="593.5" stroke="#949494" stroke-width="1.1"/>
<line x1="1092.5" y1="648.0" x2="1096.0" y2="648.0" stroke="#949494" stroke-width="1.1"/>
<line x1="1390.6" y1="648.0" x2="1387.1" y2="648.0" stroke="#949494" stroke-width="1.1"/>
<line x1="1092.5" y1="674.3" x2="1096.0" y2="674.3" stroke="#949494" stroke-width="1.1"/>
<line x1="1390.6" y1="674.3" x2="1387.1" y2="674.3" stroke="#949494" stroke-width="1.1"/>
<line x1="1092.5" y1="700.7" x2="1096.0" y2="700.7" stroke="#949494" stroke-width="1.1"/>
<line x1="1390.6" y1="700.7" x2="1387.1" y2="700.7" stroke="#949494" stroke-width="1.1"/>
<line x1="1092.5" y1="727.0" x2="1096.0" y2="727.0" stroke="#949494" stroke-width="1.1"/>
<line x1="1390.6" y1="727.0" x2="1387.1" y2="727.0" stroke="#949494" stroke-width="1.1"/>
<line x1="1092.5" y1="753.4" x2="1096.0" y2="753.4" stroke="#949494" stroke-width="1.1"/>
<line x1="1390.6" y1="753.4" x2="1387.1" y2="753.4" stroke="#949494" stroke-width="1.1"/>
<line x1="1092.5" y1="779.7" x2="1096.0" y2="779.7" stroke="#949494" stroke-width="1.1"/>
<line x1="1390.6" y1="779.7" x2="1387.1" y2="779.7" stroke="#949494" stroke-width="1.1"/>
<line x1="1092.5" y1="806.0" x2="1096.0" y2="806.0" stroke="#949494" stroke-width="1.1"/>
<line x1="1390.6" y1="806.0" x2="1387.1" y2="806.0" stroke="#949494" stroke-width="1.1"/>
<line x1="1092.5" y1="831.8" x2="1096.0" y2="831.8" stroke="#949494" stroke-width="1.1"/>
<line x1="1390.6" y1="831.8" x2="1387.1" y2="831.8" stroke="#949494" stroke-width="1.1"/>
<path d="M1117.6,174.9 L1119.1,181.3 L1120.6,187.3 L1122.1,192.4 L1123.6,196.7 L1125.1,200.0 L1126.6,203.4 L1128.1,206.1 L1129.6,209.0 L1131.1,211.9 L1132.6,214.9 L1134.1,217.3 L1135.6,220.0 L1137.1,222.7 L1138.6,225.1 L1140.1,227.8 L1141.6,230.5 L1143.1,232.9 L1144.6,235.4 L1146.1,238.0 L1147.6,240.7 L1149.1,242.9 L1150.6,245.3 L1152.1,247.4 L1153.6,249.3 L1155.1,251.7 L1156.6,253.5 L1158.1,255.7 L1159.6,258.1 L1161.1,260.2 L1162.6,262.7 L1164.1,264.6 L1165.6,266.8 L1167.1,269.1 L1168.6,270.9 L1170.1,273.2 L1171.6,275.1 L1173.1,277.3 L1174.6,279.3 L1176.1,280.7 L1177.6,282.8 L1179.1,284.5 L1180.6,285.9 L1182.1,287.9 L1183.6,289.2 L1185.1,291.0 L1186.6,292.4 L1188.1,294.2 L1189.6,295.7 L1191.1,297.6 L1192.6,299.2 L1194.1,300.8 L1195.6,302.8 L1197.1,304.4 L1198.6,306.2 L1200.1,307.7 L1201.6,309.6 L1203.1,310.8 L1204.6,312.5 L1206.1,313.9 L1207.6,315.0 L1209.1,316.6 L1210.6,317.6 L1212.1,319.0 L1213.6,320.5 L1215.1,321.5 L1216.6,323.0 L1218.1,323.9 L1219.6,325.0 L1221.1,326.2 L1222.6,327.3 L1224.1,328.7 L1225.6,329.5 L1227.1,330.8 L1228.6,331.8 L1230.1,332.5 L1231.6,333.8 L1233.1,334.7 L1234.6,335.4 L1236.1,336.7 L1237.6,337.5 L1239.1,338.6 L1240.6,339.3 L1242.1,340.2 L1243.6,341.0 L1245.1,342.1 L1246.6,342.8 L1248.1,344.0 L1249.6,344.6 L1251.1,345.5 L1252.6,346.3 L1254.1,347.1 L1255.6,347.9 L1257.1,348.7 L1258.6,349.7 L1260.1,350.5 L1261.6,351.0 L1263.1,351.9 L1264.6,352.4 L1266.1,353.1 L1267.6,354.0 L1269.1,354.4 L1270.6,355.4 L1272.1,355.9 L1273.6,356.4 L1275.1,357.2 L1276.6,357.6 L1278.1,358.2 L1279.6,359.0 L1281.1,359.6 L1282.6,359.8 L1284.1,360.6 L1285.6,361.2 L1287.1,361.4 L1288.6,362.3 L1290.1,362.4 L1291.6,363.2 L1293.1,363.5 L1294.6,364.3 L1296.1,364.6 L1297.6,365.2 L1299.1,365.4 L1300.6,366.1 L1302.1,366.3 L1303.6,367.2 L1305.1,367.6 L1306.6,367.8 L1308.1,368.6 L1309.6,368.7 L1311.1,369.6 L1312.6,369.7 L1314.1,370.4 L1315.6,370.7 L1317.1,371.3 L1318.6,371.6 L1320.1,372.0 L1321.6,372.4 L1323.1,373.0 L1324.6,373.2 L1326.1,373.8 L1327.6,373.8 L1329.1,374.3 L1330.6,374.5 L1332.1,374.6 L1333.6,374.9 L1335.1,375.3 L1336.6,375.8 L1338.1,375.7 L1339.6,376.3 L1341.1,376.2 L1342.6,376.8 L1344.1,376.7 L1345.6,377.3 L1347.1,377.2 L1348.6,377.4 L1350.1,377.9 L1351.6,377.9 L1353.1,378.1 L1354.6,378.6 L1356.1,378.8 L1357.6,378.9 L1359.1,379.3 L1360.6,379.2 L1362.1,379.8 L1363.6,379.7 L1365.1,380.2" fill="none" stroke="#333" stroke-width="1.25" stroke-linejoin="round"/>
<path d="M1118.5,393.9 L1120.0,401.3 L1121.5,407.6 L1123.0,412.6 L1124.5,416.0 L1126.0,418.6 L1127.5,421.1 L1129.0,424.3 L1130.5,427.4 L1132.0,431.2 L1133.5,434.6 L1135.0,438.4 L1136.5,441.7 L1138.0,445.3 L1139.5,448.5 L1141.0,451.8 L1142.5,455.5 L1144.0,458.3 L1145.5,461.5 L1147.0,463.8 L1148.5,466.3 L1150.0,468.5 L1151.5,470.4 L1153.0,472.5 L1154.5,474.1 L1156.0,476.3 L1157.5,478.6 L1159.0,480.8 L1160.5,483.6 L1162.0,486.4 L1163.5,489.0 L1165.0,492.1 L1166.5,494.3 L1168.0,496.9 L1169.5,498.8 L1171.0,501.2 L1172.5,503.2 L1174.0,504.8 L1175.5,506.9 L1177.0,508.5 L1178.5,510.9 L1180.0,512.7 L1181.5,515.3 L1183.0,517.5 L1184.5,520.3 L1186.0,522.5 L1187.5,524.9 L1189.0,526.8 L1190.5,528.9 L1192.0,530.4 L1193.5,531.9 L1195.0,533.8 L1196.5,535.1 L1198.0,537.1 L1199.5,538.5 L1201.0,540.7 L1202.5,542.6 L1204.0,544.2 L1205.5,546.5 L1207.0,548.1 L1208.5,550.1 L1210.0,551.5 L1211.5,552.9 L1213.0,554.5 L1214.5,556.3 L1216.0,557.6 L1217.5,559.2 L1219.0,560.3 L1220.5,561.5 L1222.0,562.9 L1223.5,563.6 L1225.0,564.6 L1226.5,564.8 L1228.0,565.5 L1229.5,565.6 L1231.0,566.5 L1232.5,566.9 L1234.0,568.1 L1235.5,568.7 L1237.0,570.2 L1238.5,571.1 L1240.0,572.6 L1241.5,573.5 L1243.0,575.1 L1244.5,575.9 L1246.0,577.3 L1247.5,578.2 L1249.0,579.6 L1250.5,580.9 L1252.0,582.6 L1253.5,583.5 L1255.0,584.6 L1256.5,585.6 L1258.0,585.7 L1259.5,585.8 L1261.0,585.2 L1262.5,585.1 L1264.0,584.4 L1265.5,584.8 L1267.0,586.3 L1268.5,589.3 L1270.0,591.8 L1271.5,593.8 L1273.0,594.6 L1274.5,595.7 L1276.0,596.5 L1277.5,597.5 L1279.0,598.0 L1280.5,599.0 L1282.0,599.3 L1283.5,600.0 L1285.0,600.2 L1286.5,600.9 L1288.0,601.1 L1289.5,601.5 L1291.0,601.4 L1292.5,601.6 L1294.0,601.7 L1295.5,602.1 L1297.0,601.9 L1298.5,602.0 L1300.0,602.4 L1301.5,602.6 L1303.0,602.7 L1304.5,603.6 L1306.0,604.4 L1307.5,605.9 L1309.0,607.1 L1310.5,608.3 L1312.0,609.3 L1313.5,610.2 L1315.0,610.9 L1316.5,611.2 L1318.0,611.7 L1319.5,612.4 L1321.0,612.6 L1322.5,613.3 L1324.0,613.4 L1325.5,614.1 L1327.0,614.2 L1328.5,614.8 L1330.0,615.0 L1331.5,615.3 L1333.0,615.8 L1334.5,615.9 L1336.0,616.4 L1337.5,616.6 L1339.0,617.1 L1340.5,617.2 L1342.0,617.7 L1343.5,617.7 L1345.0,618.2 L1346.5,618.2 L1348.0,618.5 L1349.5,619.1 L1351.0,619.1 L1352.5,619.6 L1354.0,619.5 L1355.5,620.1 L1357.0,620.3 L1358.5,620.3 L1360.0,620.9 L1361.5,620.8 L1363.0,621.4" fill="none" stroke="#333" stroke-width="1.25" stroke-linejoin="round"/>
<path d="M1117.7,641.1 L1118.9,645.7 L1120.1,649.8 L1121.3,653.9 L1122.5,656.4 L1123.7,659.0 L1124.9,660.8 L1126.1,663.0 L1127.3,664.7 L1128.5,666.9 L1129.7,669.2 L1130.9,671.6 L1132.1,674.4 L1133.3,676.7 L1134.5,678.9 L1135.7,681.3 L1136.9,683.6 L1138.1,685.6 L1139.3,688.2 L1140.5,690.4 L1141.7,692.2 L1142.9,694.2 L1144.1,696.4 L1145.3,697.9 L1146.5,699.7 L1147.7,701.3 L1148.9,702.5 L1150.1,704.2 L1151.3,705.5 L1152.5,707.1 L1153.7,708.1 L1154.9,709.4 L1156.1,710.3 L1157.3,711.6 L1158.5,712.3 L1159.7,713.4 L1160.9,713.7 L1162.1,714.6 L1163.3,715.1 L1164.5,715.8 L1165.7,716.1 L1166.9,717.2 L1168.1,718.0 L1169.3,719.7 L1170.5,721.4 L1171.7,723.7 L1172.9,725.6 L1174.1,727.9 L1175.3,729.7 L1176.5,732.1 L1177.7,734.0 L1178.9,736.4 L1180.1,738.5 L1181.3,740.1 L1182.5,741.8 L1183.7,743.2 L1184.9,744.6 L1186.1,746.3 L1187.3,747.5 L1188.5,748.4 L1189.7,749.7 L1190.9,750.1 L1192.1,751.0 L1193.3,751.3 L1194.5,751.9 L1195.7,751.8 L1196.9,752.5 L1198.1,752.8 L1199.3,753.1 L1200.5,754.3 L1201.7,755.2 L1202.9,756.9 L1204.1,758.5 L1205.3,761.3 L1206.5,763.9 L1207.7,766.6 L1208.9,768.2 L1210.1,770.0 L1211.3,771.1 L1212.5,772.6 L1213.7,773.4 L1214.9,774.5 L1216.1,775.6 L1217.3,776.8 L1218.5,777.5 L1219.7,778.7 L1220.9,780.1 L1222.1,780.9 L1223.3,782.2 L1224.5,782.9 L1225.7,783.4 L1226.9,783.7 L1228.1,783.5 L1229.3,782.7 L1230.5,781.4 L1231.7,780.5 L1232.9,779.2 L1234.1,778.4 L1235.3,777.5 L1236.5,776.4 L1237.7,775.2 L1238.9,774.6 L1240.1,774.2 L1241.3,777.5 L1242.5,782.5 L1243.7,786.0 L1244.9,788.6 L1246.1,791.3 L1247.3,793.1 L1248.5,794.8 L1249.7,796.1 L1250.9,797.2 L1252.1,798.5 L1253.3,799.1 L1254.5,799.9 L1255.7,800.0 L1256.9,799.8 L1258.1,797.8 L1259.3,795.6 L1260.5,791.9 L1261.7,783.9 L1262.9,776.7 L1264.1,774.4 L1265.3,777.8 L1266.5,782.9 L1267.7,788.5 L1268.9,793.1 L1270.1,798.7 L1271.3,803.3 L1272.5,806.8 L1273.7,807.6 L1274.9,808.4 L1276.1,808.5 L1277.3,808.9 L1278.5,809.3 L1279.7,810.5 L1280.9,811.3 L1282.1,812.6 L1283.3,813.8 L1284.5,814.3 L1285.7,815.0 L1286.9,815.2 L1288.1,815.7 L1289.3,816.4 L1290.5,816.4 L1291.7,817.0 L1292.9,816.9 L1294.1,817.4 L1295.3,817.4 L1296.5,817.2 L1297.7,816.5 L1298.9,815.7 L1300.1,813.7 L1301.3,809.6 L1302.5,809.1 L1303.7,812.1 L1304.9,816.8 L1306.1,819.0 L1307.3,820.3 L1308.5,820.9 L1309.7,822.0 L1310.9,822.6 L1312.1,823.0 L1313.3,823.0 L1314.5,823.2 L1315.7,822.7 L1316.9,821.8 L1318.1,821.6 L1319.3,821.3 L1320.5,821.8 L1321.7,822.7 L1322.9,823.6 L1324.1,824.9 L1325.3,825.5 L1326.5,826.0 L1327.7,826.1 L1328.9,826.5 L1330.1,826.8 L1331.3,827.2 L1332.5,827.0 L1333.7,827.5 L1334.9,827.4 L1336.1,827.5 L1337.3,828.0 L1338.5,827.9 L1339.7,828.3 L1340.9,828.3 L1342.1,828.7 L1343.3,828.8 L1344.5,829.2 L1345.7,829.0 L1346.9,829.5 L1348.1,829.6 L1349.3,830.0 L1350.5,830.0 L1351.7,830.4 L1352.9,830.3 L1354.1,830.8 L1355.3,830.7 L1356.5,831.2 L1357.7,831.4 L1358.9,831.6 L1360.1,831.5 L1361.3,832.1 L1362.5,832.0 L1363.7,832.4" fill="none" stroke="#333" stroke-width="1.25" stroke-linejoin="round"/>
<polygon points="1331.00,182.55 1336.08,190.78 1346.24,190.78 1341.16,199.00 1346.24,207.22 1336.08,207.22 1331.00,215.45 1325.92,207.22 1315.76,207.22 1320.84,199.00 1315.76,190.78 1325.92,190.78" fill="#ee1d26" stroke="#111" stroke-width="3.3" stroke-linejoin="miter" stroke-miterlimit="10"/>
<rect x="1321.5" y="433.5" width="25.5" height="25.3" fill="#8dc63f" stroke="#111" stroke-width="3"/>
<circle cx="1340.7" cy="690.0" r="12.3" fill="#fff200" stroke="#111" stroke-width="3"/>
<line x1="1530.5" y1="143.9" x2="1530.5" y2="855.3" stroke="#949494" stroke-width="1.55"/>
<line x1="1530.5" y1="382.3" x2="1848.0" y2="382.3" stroke="#949494" stroke-width="1.55"/>
<line x1="1530.5" y1="614.0" x2="1848.0" y2="614.0" stroke="#949494" stroke-width="1.55"/>
<line x1="1530.5" y1="855.3" x2="1848.0" y2="855.3" stroke="#949494" stroke-width="1.55"/>
<line x1="1584.6" y1="382.3" x2="1584.6" y2="379.3" stroke="#707070" stroke-width="1.1"/>
<line x1="1638.0" y1="382.3" x2="1638.0" y2="379.3" stroke="#707070" stroke-width="1.1"/>
<line x1="1691.6" y1="382.3" x2="1691.6" y2="379.3" stroke="#707070" stroke-width="1.1"/>
<line x1="1744.8" y1="382.3" x2="1744.8" y2="379.3" stroke="#707070" stroke-width="1.1"/>
<line x1="1798.0" y1="382.3" x2="1798.0" y2="379.3" stroke="#707070" stroke-width="1.1"/>
<line x1="1584.6" y1="614.0" x2="1584.6" y2="611.0" stroke="#707070" stroke-width="1.1"/>
<line x1="1638.0" y1="614.0" x2="1638.0" y2="611.0" stroke="#707070" stroke-width="1.1"/>
<line x1="1691.6" y1="614.0" x2="1691.6" y2="611.0" stroke="#707070" stroke-width="1.1"/>
<line x1="1744.8" y1="614.0" x2="1744.8" y2="611.0" stroke="#707070" stroke-width="1.1"/>
<line x1="1798.0" y1="614.0" x2="1798.0" y2="611.0" stroke="#707070" stroke-width="1.1"/>
<line x1="1584.6" y1="855.3" x2="1584.6" y2="852.3" stroke="#707070" stroke-width="1.1"/>
<line x1="1638.0" y1="855.3" x2="1638.0" y2="852.3" stroke="#707070" stroke-width="1.1"/>
<line x1="1691.6" y1="855.3" x2="1691.6" y2="852.3" stroke="#707070" stroke-width="1.1"/>
<line x1="1744.8" y1="855.3" x2="1744.8" y2="852.3" stroke="#707070" stroke-width="1.1"/>
<line x1="1798.0" y1="855.3" x2="1798.0" y2="852.3" stroke="#707070" stroke-width="1.1"/>
<line x1="1530.5" y1="168.8" x2="1534.0" y2="168.8" stroke="#949494" stroke-width="1.1"/>
<line x1="1530.5" y1="207.6" x2="1534.0" y2="207.6" stroke="#949494" stroke-width="1.1"/>
<line x1="1530.5" y1="246.5" x2="1534.0" y2="246.5" stroke="#949494" stroke-width="1.1"/>
<line x1="1530.5" y1="285.5" x2="1534.0" y2="285.5" stroke="#949494" stroke-width="1.1"/>
<line x1="1530.5" y1="324.2" x2="1534.0" y2="324.2" stroke="#949494" stroke-width="1.1"/>
<line x1="1530.5" y1="364.0" x2="1534.0" y2="364.0" stroke="#949494" stroke-width="1.1"/>
<line x1="1530.5" y1="408.5" x2="1534.0" y2="408.5" stroke="#949494" stroke-width="1.1"/>
<line x1="1530.5" y1="442.0" x2="1534.0" y2="442.0" stroke="#949494" stroke-width="1.1"/>
<line x1="1530.5" y1="476.3" x2="1534.0" y2="476.3" stroke="#949494" stroke-width="1.1"/>
<line x1="1530.5" y1="510.3" x2="1534.0" y2="510.3" stroke="#949494" stroke-width="1.1"/>
<line x1="1530.5" y1="544.6" x2="1534.0" y2="544.6" stroke="#949494" stroke-width="1.1"/>
<line x1="1530.5" y1="578.0" x2="1534.0" y2="578.0" stroke="#949494" stroke-width="1.1"/>
<line x1="1530.5" y1="620.7" x2="1534.0" y2="620.7" stroke="#949494" stroke-width="1.1"/>
<line x1="1530.5" y1="672.6" x2="1534.0" y2="672.6" stroke="#949494" stroke-width="1.1"/>
<line x1="1530.5" y1="722.4" x2="1534.0" y2="722.4" stroke="#949494" stroke-width="1.1"/>
<line x1="1530.5" y1="772.6" x2="1534.0" y2="772.6" stroke="#949494" stroke-width="1.1"/>
<line x1="1530.5" y1="822.7" x2="1534.0" y2="822.7" stroke="#949494" stroke-width="1.1"/>
<path d="M1531.0,170.1 L1532.3,170.7 L1533.6,168.3 L1534.9,171.9 L1536.2,173.4 L1537.5,179.3 L1538.8,178.0 L1540.1,180.5 L1541.4,177.4 L1542.7,180.4 L1544.0,179.7 L1545.3,180.1 L1546.6,178.6 L1547.9,181.4 L1549.2,178.5 L1550.5,182.1 L1551.8,182.0 L1553.1,185.0 L1554.4,183.8 L1555.7,186.1 L1557.0,182.0 L1558.3,182.5 L1559.6,177.6 L1560.9,180.2 L1562.2,177.3 L1563.5,177.6 L1564.8,180.0 L1566.1,177.0 L1567.4,179.9 L1568.7,176.9 L1570.0,177.3 L1571.3,179.3 L1572.6,175.6 L1573.9,173.4 L1575.2,175.1 L1576.5,166.5 L1577.8,165.6 L1579.1,165.0 L1580.4,164.0 L1581.7,167.7 L1583.0,165.4 L1584.3,167.2 L1585.6,164.1 L1586.9,167.1 L1588.2,165.8 L1589.5,171.3 L1590.8,173.0 L1592.1,170.8 L1593.4,174.5 L1594.7,174.3 L1596.0,174.5 L1597.3,179.8 L1598.6,179.3 L1599.9,182.3 L1601.2,180.4 L1602.5,181.1 L1603.8,185.7 L1605.1,185.6 L1606.4,186.3 L1607.7,187.8 L1609.0,192.1 L1610.3,190.8 L1611.6,194.1 L1612.9,193.6 L1614.2,195.4 L1615.5,191.8 L1616.8,187.3 L1618.1,179.5 L1619.4,181.0 L1620.7,178.8 L1622.0,184.8 L1623.3,191.8 L1624.6,191.5 L1625.9,195.7 L1627.2,196.5 L1628.5,200.5 L1629.8,209.3 L1631.1,210.9 L1632.4,214.8 L1633.7,213.5 L1635.0,211.2 L1636.3,207.4 L1637.6,199.2 L1638.9,198.9 L1640.2,200.8 L1641.5,208.1 L1642.8,215.0 L1644.1,216.9 L1645.4,219.6 L1646.7,217.0 L1648.0,217.8 L1649.3,214.2 L1650.6,213.7 L1651.9,212.0 L1653.2,212.2 L1654.5,213.4 L1655.8,210.8 L1657.1,212.4 L1658.4,209.7 L1659.7,204.9 L1661.0,208.8 L1662.3,210.0 L1663.6,212.2 L1664.9,223.4 L1666.2,225.5 L1667.5,230.7 L1668.8,236.4 L1670.1,234.8 L1671.4,237.7 L1672.7,243.3 L1674.0,248.8 L1675.3,252.7 L1676.6,257.8 L1677.9,255.9 L1679.2,253.4 L1680.5,254.8 L1681.8,248.9 L1683.1,249.1 L1684.4,253.4 L1685.7,255.3 L1687.0,260.1 L1688.3,256.3 L1689.6,258.1 L1690.9,253.1 L1692.2,255.1 L1693.5,250.0 L1694.8,250.2 L1696.1,246.9 L1697.4,247.3 L1698.7,241.8 L1700.0,241.5 L1701.3,233.9 L1702.6,230.8 L1703.9,223.5 L1705.2,223.5 L1706.5,219.2 L1707.8,221.0 L1709.1,220.1 L1710.4,218.2 L1711.7,222.2 L1713.0,220.3 L1714.3,224.5 L1715.6,219.4 L1716.9,212.5 L1718.2,208.7 L1719.5,200.8 L1720.8,194.3 L1722.1,196.8 L1723.4,198.0 L1724.7,206.6 L1726.0,207.7 L1727.3,212.9 L1728.6,216.4 L1729.9,214.6 L1731.2,221.1 L1732.5,228.2 L1733.8,235.0 L1735.1,246.2 L1736.4,251.1 L1737.7,259.2 L1739.0,262.9 L1740.3,269.3 L1741.6,270.3 L1742.9,276.8 L1744.2,275.1 L1745.5,279.6 L1746.8,277.0 L1748.1,278.0 L1749.4,272.6 L1750.7,269.0 L1752.0,260.5 L1753.3,242.3 L1754.6,230.8 L1755.9,213.9 L1757.2,203.2 L1758.5,187.7 L1759.8,180.7 L1761.1,173.3 L1762.4,182.8 L1763.7,191.3 L1765.0,208.5 L1766.3,226.0 L1767.6,245.9 L1768.9,260.5 L1770.2,278.1 L1771.5,290.1 L1772.8,302.4 L1774.1,310.1 L1775.4,319.3 L1776.7,322.7 L1778.0,326.5 L1779.3,325.6 L1780.6,325.4 L1781.9,321.4 L1783.2,323.4 L1784.5,318.8 L1785.8,321.6 L1787.1,316.9 L1788.4,318.0 L1789.7,314.5 L1791.0,315.2 L1792.3,310.9 L1793.6,311.7 L1794.9,309.7 L1796.2,305.6 L1797.5,306.2 L1798.8,302.2 L1800.1,303.9 L1801.4,301.3 L1802.7,295.7 L1804.0,295.8 L1805.3,289.7 L1806.6,287.8 L1807.9,280.7 L1809.2,278.3 L1810.5,271.2 L1811.8,267.4 L1813.1,259.8 L1814.4,254.7 L1815.7,243.6 L1817.0,238.8 L1818.3,227.5 L1819.6,218.2 L1820.9,216.7 L1822.2,217.4 L1823.5,225.4 L1824.8,238.2 L1826.1,248.9 L1827.4,266.6 L1828.7,279.1 L1830.0,287.5 L1831.3,302.7 L1832.6,311.3 L1833.9,323.3 L1835.2,330.4 L1836.5,342.7 L1837.8,346.7 L1839.1,354.2 L1840.4,356.5 L1841.7,363.6 L1843.0,365.4 L1844.3,370.8" fill="none" stroke="#333" stroke-width="1.0" stroke-linejoin="round"/>
<path d="M1531.4,411.4 L1532.7,416.5 L1534.0,415.6 L1535.3,417.8 L1536.6,423.7 L1537.9,426.6 L1539.2,435.1 L1540.5,436.6 L1541.8,439.7 L1543.1,436.9 L1544.4,439.4 L1545.7,436.6 L1547.0,439.9 L1548.3,436.9 L1549.6,439.9 L1550.9,436.8 L1552.2,437.0 L1553.5,439.2 L1554.8,440.2 L1556.1,437.4 L1557.4,441.4 L1558.7,441.2 L1560.0,439.3 L1561.3,443.8 L1562.6,441.6 L1563.9,445.8 L1565.2,445.1 L1566.5,441.3 L1567.8,440.2 L1569.1,433.5 L1570.4,433.8 L1571.7,429.3 L1573.0,429.1 L1574.3,424.9 L1575.6,426.0 L1576.9,423.7 L1578.2,421.5 L1579.5,424.7 L1580.8,423.4 L1582.1,427.6 L1583.4,425.5 L1584.7,424.2 L1586.0,417.7 L1587.3,417.1 L1588.6,415.9 L1589.9,421.5 L1591.2,424.3 L1592.5,430.2 L1593.8,423.0 L1595.1,411.8 L1596.4,402.2 L1597.7,394.7 L1599.0,393.9 L1600.3,395.1 L1601.6,400.6 L1602.9,405.8 L1604.2,411.1 L1605.5,414.9 L1606.8,416.1 L1608.1,424.9 L1609.4,430.8 L1610.7,439.3 L1612.0,440.0 L1613.3,439.5 L1614.6,431.4 L1615.9,428.1 L1617.2,417.8 L1618.5,412.6 L1619.8,410.8 L1621.1,417.6 L1622.4,422.2 L1623.7,430.8 L1625.0,435.2 L1626.3,446.8 L1627.6,452.5 L1628.9,463.2 L1630.2,469.3 L1631.5,480.0 L1632.8,485.3 L1634.1,486.5 L1635.4,478.8 L1636.7,475.8 L1638.0,470.3 L1639.3,473.0 L1640.6,478.6 L1641.9,475.5 L1643.2,469.4 L1644.5,465.2 L1645.8,463.0 L1647.1,461.2 L1648.4,462.3 L1649.7,463.8 L1651.0,465.7 L1652.3,469.9 L1653.6,469.0 L1654.9,470.8 L1656.2,474.8 L1657.5,473.6 L1658.8,478.4 L1660.1,477.9 L1661.4,480.5 L1662.7,488.2 L1664.0,490.5 L1665.3,494.7 L1666.6,501.4 L1667.9,506.3 L1669.2,510.4 L1670.5,511.8 L1671.8,518.5 L1673.1,517.5 L1674.4,519.0 L1675.7,521.3 L1677.0,516.2 L1678.3,514.7 L1679.6,511.4 L1680.9,506.5 L1682.2,507.8 L1683.5,512.8 L1684.8,516.0 L1686.1,513.2 L1687.4,512.3 L1688.7,515.1 L1690.0,512.4 L1691.3,514.1 L1692.6,512.3 L1693.9,517.6 L1695.2,521.7 L1696.5,519.8 L1697.8,497.7 L1699.1,478.1 L1700.4,458.3 L1701.7,449.3 L1703.0,442.8 L1704.3,440.5 L1705.6,443.5 L1706.9,442.3 L1708.2,448.7 L1709.5,452.6 L1710.8,453.9 L1712.1,461.7 L1713.4,467.7 L1714.7,473.3 L1716.0,478.6 L1717.3,479.8 L1718.6,480.9 L1719.9,478.4 L1721.2,484.9 L1722.5,490.2 L1723.8,493.2 L1725.1,500.8 L1726.4,505.5 L1727.7,508.8 L1729.0,511.4 L1730.3,512.4 L1731.6,519.4 L1732.9,522.6 L1734.2,529.5 L1735.5,530.9 L1736.8,535.0 L1738.1,532.0 L1739.4,532.1 L1740.7,528.6 L1742.0,530.1 L1743.3,525.0 L1744.6,524.2 L1745.9,522.9 L1747.2,523.2 L1748.5,520.3 L1749.8,515.9 L1751.1,503.0 L1752.4,492.1 L1753.7,478.2 L1755.0,465.6 L1756.3,454.9 L1757.6,439.7 L1758.9,426.1 L1760.2,419.6 L1761.5,422.2 L1762.8,437.7 L1764.1,448.7 L1765.4,467.9 L1766.7,483.5 L1768.0,507.7 L1769.3,536.6 L1770.6,559.5 L1771.9,566.6 L1773.2,576.7 L1774.5,578.8 L1775.8,583.3 L1777.1,580.7 L1778.4,582.5 L1779.7,579.6 L1781.0,582.5 L1782.3,579.5 L1783.6,580.6 L1784.9,580.0 L1786.2,578.1 L1787.5,579.1 L1788.8,576.0 L1790.1,579.3 L1791.4,576.0 L1792.7,578.9 L1794.0,575.2 L1795.3,578.5 L1796.6,574.2 L1797.9,576.8 L1799.2,571.7 L1800.5,572.6 L1801.8,567.7 L1803.1,561.2 L1804.4,558.9 L1805.7,551.0 L1807.0,547.5 L1808.3,537.5 L1809.6,532.2 L1810.9,523.2 L1812.2,518.4 L1813.5,509.1 L1814.8,505.1 L1816.1,496.5 L1817.4,493.7 L1818.7,485.8 L1820.0,481.3 L1821.3,481.2 L1822.6,488.1 L1823.9,491.0 L1825.2,502.6 L1826.5,516.8 L1827.8,539.3 L1829.1,555.3 L1830.4,568.2 L1831.7,584.7 L1833.0,591.3 L1834.3,598.8 L1835.6,600.5 L1836.9,606.0 L1838.2,606.0 L1839.5,609.8 L1840.8,610.4 L1842.1,609.1 L1843.4,609.3 L1844.7,613.5 L1846.0,611.4 L1847.3,611.7" fill="none" stroke="#333" stroke-width="1.0" stroke-linejoin="round"/>
<path d="M1531.7,796.5 L1532.7,796.2 L1533.7,795.2 L1534.7,795.2 L1535.7,796.0 L1536.7,796.7 L1537.7,798.4 L1538.7,799.8 L1539.7,801.7 L1540.7,803.1 L1541.7,805.2 L1542.7,806.1 L1543.7,807.3 L1544.7,807.7 L1545.7,808.6 L1546.7,809.1 L1547.7,809.9 L1548.7,809.9 L1549.7,810.3 L1550.7,810.5 L1551.7,810.1 L1552.7,809.9 L1553.7,809.7 L1554.7,808.9 L1555.7,808.6 L1556.7,807.7 L1557.7,807.3 L1558.7,806.3 L1559.7,806.0 L1560.7,804.7 L1561.7,803.4 L1562.7,801.5 L1563.7,800.7 L1564.7,799.8 L1565.7,800.0 L1566.7,799.9 L1567.7,799.6 L1568.7,800.0 L1569.7,799.7 L1570.7,800.0 L1571.7,799.7 L1572.7,800.0 L1573.7,799.4 L1574.7,799.5 L1575.7,798.8 L1576.7,798.5 L1577.7,797.6 L1578.7,797.2 L1579.7,796.1 L1580.7,795.7 L1581.7,794.1 L1582.7,792.0 L1583.7,789.5 L1584.7,786.5 L1585.7,784.4 L1586.7,781.6 L1587.7,778.9 L1588.7,776.2 L1589.7,772.7 L1590.7,767.9 L1591.7,763.3 L1592.7,758.1 L1593.7,753.1 L1594.7,749.6 L1595.7,746.9 L1596.7,745.7 L1597.7,744.0 L1598.7,743.0 L1599.7,741.8 L1600.7,741.3 L1601.7,740.5 L1602.7,740.6 L1603.7,742.0 L1604.7,743.8 L1605.7,745.9 L1606.7,748.4 L1607.7,751.3 L1608.7,755.1 L1609.7,758.7 L1610.7,762.4 L1611.7,764.7 L1612.7,767.1 L1613.7,768.4 L1614.7,770.5 L1615.7,772.0 L1616.7,773.0 L1617.7,774.4 L1618.7,775.9 L1619.7,776.9 L1620.7,778.5 L1621.7,779.4 L1622.7,780.5 L1623.7,780.4 L1624.7,779.4 L1625.7,776.9 L1626.7,776.9 L1627.7,778.3 L1628.7,780.0 L1629.7,782.6 L1630.7,785.5 L1631.7,788.4 L1632.7,789.7 L1633.7,789.7 L1634.7,787.9 L1635.7,786.3 L1636.7,783.5 L1637.7,781.6 L1638.7,779.5 L1639.7,777.7 L1640.7,777.1 L1641.7,776.1 L1642.7,775.7 L1643.7,775.3 L1644.7,774.1 L1645.7,773.5 L1646.7,771.7 L1647.7,768.9 L1648.7,764.1 L1649.7,759.1 L1650.7,753.2 L1651.7,748.2 L1652.7,741.4 L1653.7,734.9 L1654.7,730.3 L1655.7,730.2 L1656.7,730.8 L1657.7,732.0 L1658.7,734.2 L1659.7,742.3 L1660.7,752.1 L1661.7,760.7 L1662.7,769.0 L1663.7,777.1 L1664.7,782.4 L1665.7,785.5 L1666.7,787.1 L1667.7,788.9 L1668.7,790.4 L1669.7,793.3 L1670.7,796.4 L1671.7,799.8 L1672.7,801.2 L1673.7,800.8 L1674.7,798.1 L1675.7,796.0 L1676.7,795.1 L1677.7,797.1 L1678.7,799.3 L1679.7,802.2 L1680.7,805.4 L1681.7,809.6 L1682.7,812.5 L1683.7,814.0 L1684.7,813.8 L1685.7,813.7 L1686.7,814.0 L1687.7,814.1 L1688.7,813.7 L1689.7,814.0 L1690.7,813.8 L1691.7,814.3 L1692.7,814.6 L1693.7,814.6 L1694.7,815.2 L1695.7,815.4 L1696.7,812.9 L1697.7,806.5 L1698.7,799.0 L1699.7,791.1 L1700.7,783.4 L1701.7,774.1 L1702.7,765.7 L1703.7,759.5 L1704.7,754.3 L1705.7,750.8 L1706.7,749.8 L1707.7,751.1 L1708.7,752.0 L1709.7,752.3 L1710.7,749.8 L1711.7,745.2 L1712.7,739.4 L1713.7,728.5 L1714.7,715.1 L1715.7,704.5 L1716.7,702.4 L1717.7,706.7 L1718.7,714.1 L1719.7,722.6 L1720.7,736.3 L1721.7,753.9 L1722.7,771.1 L1723.7,784.3 L1724.7,794.0 L1725.7,802.4 L1726.7,809.3 L1727.7,812.7 L1728.7,814.6 L1729.7,816.1 L1730.7,816.9 L1731.7,818.0 L1732.7,818.5 L1733.7,820.0 L1734.7,821.1 L1735.7,823.2 L1736.7,825.8 L1737.7,827.6 L1738.7,829.4 L1739.7,830.1 L1740.7,829.1 L1741.7,827.7 L1742.7,825.8 L1743.7,822.7 L1744.7,815.5 L1745.7,802.0 L1746.7,785.6 L1747.7,768.0 L1748.7,746.5 L1749.7,720.1 L1750.7,694.4 L1751.7,674.8 L1752.7,658.8 L1753.7,643.3 L1754.7,632.6 L1755.7,628.6 L1756.7,636.0 L1757.7,650.9 L1758.7,669.7 L1759.7,688.6 L1760.7,714.9 L1761.7,742.8 L1762.7,767.9 L1763.7,784.6 L1764.7,795.2 L1765.7,805.8 L1766.7,814.5 L1767.7,822.4 L1768.7,827.4 L1769.7,830.5 L1770.7,831.2 L1771.7,830.2 L1772.7,828.7 L1773.7,827.0 L1774.7,825.6 L1775.7,823.8 L1776.7,823.4 L1777.7,823.3 L1778.7,824.9 L1779.7,827.5 L1780.7,830.4 L1781.7,832.6 L1782.7,834.7 L1783.7,836.3 L1784.7,838.6 L1785.7,840.0 L1786.7,842.3 L1787.7,843.6 L1788.7,845.1 L1789.7,846.5 L1790.7,846.8 L1791.7,847.3 L1792.7,847.0 L1793.7,847.4 L1794.7,847.0 L1795.7,847.3 L1796.7,847.0 L1797.7,847.4 L1798.7,847.0 L1799.7,847.4 L1800.7,847.0 L1801.7,847.0 L1802.7,847.3 L1803.7,846.7 L1804.7,845.9 L1805.7,845.1 L1806.7,843.3 L1807.7,841.9 L1808.7,839.4 L1809.7,833.8 L1810.7,818.5 L1811.7,799.8 L1812.7,781.4 L1813.7,769.7 L1814.7,768.0 L1815.7,772.7 L1816.7,781.8 L1817.7,791.2 L1818.7,800.3 L1819.7,810.2 L1820.7,821.6 L1821.7,832.0 L1822.7,840.0 L1823.7,844.7 L1824.7,847.4 L1825.7,849.3 L1826.7,851.5 L1827.7,853.0 L1828.7,853.8 L1829.7,854.7 L1830.7,854.5 L1831.7,854.0 L1832.7,853.6 L1833.7,852.2 L1834.7,851.2 L1835.7,849.6 L1836.7,847.2 L1837.7,844.1 L1838.7,840.4 L1839.7,837.7 L1840.7,836.2 L1841.7,836.4 L1842.7,838.8 L1843.7,841.8 L1844.7,845.2 L1845.7,848.3" fill="none" stroke="#333" stroke-width="1.25" stroke-linejoin="round"/>
<polygon points="1814.00,161.55 1818.83,169.53 1828.50,169.53 1823.67,177.50 1828.50,185.47 1818.83,185.47 1814.00,193.45 1809.17,185.47 1799.50,185.47 1804.33,177.50 1799.50,169.53 1809.17,169.53" fill="#ee1d26" stroke="#111" stroke-width="3.3" stroke-linejoin="miter" stroke-miterlimit="10"/>
<rect x="1806.7" y="410.7" width="25.2" height="24.8" fill="#8dc63f" stroke="#111" stroke-width="3"/>
<circle cx="1821.2" cy="684.2" r="12.5" fill="#fff200" stroke="#111" stroke-width="3"/>
<text x="11.08" y="27.80" font-size="35.93" textLength="15.62" lengthAdjust="spacingAndGlyphs" style="stroke-width:0.9px">a</text>
<text x="32.15" y="26.32" font-size="35.64" textLength="8.46" lengthAdjust="spacingAndGlyphs" style="stroke-width:0.9px">)</text>
<text x="577.85" y="27.70" font-size="36.16" textLength="19.47" lengthAdjust="spacingAndGlyphs" style="stroke-width:0.9px">b</text>
<text x="600.54" y="26.32" font-size="35.64" textLength="8.71" lengthAdjust="spacingAndGlyphs" style="stroke-width:0.9px">)</text>
<text x="1028.70" y="28.60" font-size="36.48" textLength="16.28" lengthAdjust="spacingAndGlyphs" style="stroke-width:0.9px">c</text>
<text x="1047.53" y="27.12" font-size="35.64" textLength="9.10" lengthAdjust="spacingAndGlyphs" style="stroke-width:0.9px">)</text>
<text x="1461.29" y="35.10" font-size="36.58" textLength="19.65" lengthAdjust="spacingAndGlyphs" style="stroke-width:0.9px">d</text>
<text x="1483.74" y="34.12" font-size="35.64" textLength="8.71" lengthAdjust="spacingAndGlyphs" style="stroke-width:0.9px">)</text>
<text x="702.94" y="98.00" font-size="25.00" textLength="247.51" lengthAdjust="spacingAndGlyphs">CW Raman (lights off)</text>
<text x="1103.75" y="93.50" font-size="25.00" textLength="245.49" lengthAdjust="spacingAndGlyphs">CW Raman (lights on)</text>
<text x="1490.09" y="86.60" font-size="25.36" textLength="334.07" lengthAdjust="spacingAndGlyphs">Time gated Raman (lights on)</text>
<text x="211.21" y="698.70" font-size="35.22" textLength="63.13" lengthAdjust="spacingAndGlyphs">BCC</text>
<text x="210.54" y="763.50" font-size="34.78" textLength="113.37" lengthAdjust="spacingAndGlyphs">Dermis</text>
<text x="210.50" y="826.70" font-size="35.07" textLength="231.16" lengthAdjust="spacingAndGlyphs">Adipose tissue</text>
<text x="747.54" y="931.40" font-size="25.80" textLength="228.96" lengthAdjust="spacingAndGlyphs">Wavenumber (cm<tspan font-size="68%" dy="-0.485em">-1</tspan><tspan dy="0.33em">)</tspan></text>
<text x="1138.34" y="931.60" font-size="25.80" textLength="227.25" lengthAdjust="spacingAndGlyphs">Wavenumber (cm<tspan font-size="68%" dy="-0.485em">-1</tspan><tspan dy="0.33em">)</tspan></text>
<text x="1571.44" y="931.00" font-size="25.80" textLength="226.64" lengthAdjust="spacingAndGlyphs">Wavenumber (cm<tspan font-size="68%" dy="-0.485em">-1</tspan><tspan dy="0.33em">)</tspan></text>
<text transform="translate(591.10,612.74) rotate(-90)" font-size="29.86" textLength="229.62" lengthAdjust="spacingAndGlyphs">Count (arb units)</text>
<text transform="translate(1032.20,615.36) rotate(-90)" font-size="29.86" textLength="231.96" lengthAdjust="spacingAndGlyphs">Count (arb units)</text>
<text transform="translate(1441.00,513.80) rotate(-90)" font-size="29.86" textLength="130.45" lengthAdjust="spacingAndGlyphs">Count (N)</text>
<text x="797.39" y="249.60" font-size="23.00" textLength="50.21" lengthAdjust="spacingAndGlyphs">1339</text>
<text x="706.08" y="428.00" font-size="23.00" textLength="38.34" lengthAdjust="spacingAndGlyphs">851</text>
<text x="769.96" y="467.80" font-size="23.00" textLength="51.06" lengthAdjust="spacingAndGlyphs">1256</text>
<text x="1696.99" y="195.10" font-size="23.00" textLength="50.32" lengthAdjust="spacingAndGlyphs">1339</text>
<text x="1613.36" y="408.30" font-size="23.00" textLength="37.91" lengthAdjust="spacingAndGlyphs">940</text>
<text x="1656.93" y="439.60" font-size="23.00" textLength="52.12" lengthAdjust="spacingAndGlyphs">1256</text>
<text x="1035.22" y="158.10" font-size="20.43" textLength="39.49" lengthAdjust="spacingAndGlyphs">X 10</text>
<text x="1074.95" y="150.60" font-size="12.17" textLength="6.98" lengthAdjust="spacingAndGlyphs">4</text>
<text x="626.95" y="190.25" font-size="25.29" textLength="58.22" lengthAdjust="spacingAndGlyphs">3000</text>
<text x="625.69" y="277.15" font-size="25.29" textLength="58.49" lengthAdjust="spacingAndGlyphs">2000</text>
<text x="624.87" y="367.25" font-size="25.29" textLength="59.33" lengthAdjust="spacingAndGlyphs">1000</text>
<text x="625.95" y="475.45" font-size="25.29" textLength="58.22" lengthAdjust="spacingAndGlyphs">3000</text>
<text x="625.69" y="541.25" font-size="25.29" textLength="58.49" lengthAdjust="spacingAndGlyphs">2000</text>
<text x="624.87" y="609.75" font-size="25.29" textLength="59.33" lengthAdjust="spacingAndGlyphs">1000</text>
<text x="626.95" y="703.65" font-size="25.29" textLength="58.22" lengthAdjust="spacingAndGlyphs">5000</text>
<text x="625.95" y="769.85" font-size="25.29" textLength="58.22" lengthAdjust="spacingAndGlyphs">3000</text>
<text x="624.87" y="833.55" font-size="25.29" textLength="59.33" lengthAdjust="spacingAndGlyphs">1000</text>
<text x="1057.07" y="195.05" font-size="25.29" textLength="28.20" lengthAdjust="spacingAndGlyphs">16</text>
<text x="1057.07" y="273.85" font-size="25.29" textLength="28.20" lengthAdjust="spacingAndGlyphs">10</text>
<text x="1070.48" y="351.65" font-size="25.65" textLength="14.40" lengthAdjust="spacingAndGlyphs">4</text>
<text x="1050.70" y="458.65" font-size="25.29" textLength="34.91" lengthAdjust="spacingAndGlyphs">3.5</text>
<text x="1050.43" y="516.85" font-size="25.29" textLength="35.18" lengthAdjust="spacingAndGlyphs">2.5</text>
<text x="1049.72" y="573.85" font-size="25.65" textLength="34.48" lengthAdjust="spacingAndGlyphs">1.5</text>
<text x="1071.47" y="659.45" font-size="25.65" textLength="14.72" lengthAdjust="spacingAndGlyphs">4</text>
<text x="1070.44" y="708.85" font-size="25.29" textLength="14.79" lengthAdjust="spacingAndGlyphs">3</text>
<text x="1070.14" y="764.85" font-size="25.29" textLength="15.12" lengthAdjust="spacingAndGlyphs">2</text>
<text x="1067.17" y="816.85" font-size="25.65" textLength="16.17" lengthAdjust="spacingAndGlyphs">1</text>
<text x="1467.56" y="179.55" font-size="25.29" textLength="57.80" lengthAdjust="spacingAndGlyphs">8000</text>
<text x="1463.69" y="254.85" font-size="25.29" textLength="58.07" lengthAdjust="spacingAndGlyphs">6000</text>
<text x="1468.09" y="333.15" font-size="25.29" textLength="57.27" lengthAdjust="spacingAndGlyphs">4000</text>
<text x="1467.56" y="417.85" font-size="25.29" textLength="57.80" lengthAdjust="spacingAndGlyphs">8000</text>
<text x="1468.29" y="487.35" font-size="25.29" textLength="58.07" lengthAdjust="spacingAndGlyphs">6000</text>
<text x="1468.09" y="555.15" font-size="25.29" textLength="57.27" lengthAdjust="spacingAndGlyphs">4000</text>
<text x="1447.90" y="633.85" font-size="25.29" textLength="72.47" lengthAdjust="spacingAndGlyphs">25000</text>
<text x="1449.62" y="732.85" font-size="25.29" textLength="72.24" lengthAdjust="spacingAndGlyphs">15000</text>
<text x="1462.44" y="832.35" font-size="25.29" textLength="58.74" lengthAdjust="spacingAndGlyphs">5000</text>
<text x="710.48" y="878.80" font-size="20.00" textLength="34.11" lengthAdjust="spacingAndGlyphs">800</text>
<text x="778.14" y="878.80" font-size="20.00" textLength="46.19" lengthAdjust="spacingAndGlyphs">1200</text>
<text x="851.94" y="878.80" font-size="20.00" textLength="46.19" lengthAdjust="spacingAndGlyphs">1600</text>
<text x="927.18" y="878.80" font-size="20.00" textLength="45.43" lengthAdjust="spacingAndGlyphs">2000</text>
<text x="1144.17" y="879.60" font-size="20.00" textLength="34.42" lengthAdjust="spacingAndGlyphs">800</text>
<text x="1206.51" y="879.60" font-size="20.00" textLength="46.93" lengthAdjust="spacingAndGlyphs">1200</text>
<text x="1271.12" y="879.60" font-size="20.00" textLength="46.82" lengthAdjust="spacingAndGlyphs">1600</text>
<text x="1336.16" y="879.60" font-size="20.00" textLength="46.27" lengthAdjust="spacingAndGlyphs">2000</text>
<text x="1570.19" y="875.80" font-size="20.00" textLength="33.90" lengthAdjust="spacingAndGlyphs">800</text>
<text x="1667.57" y="875.80" font-size="20.00" textLength="45.34" lengthAdjust="spacingAndGlyphs">1200</text>
<text x="1775.54" y="875.80" font-size="20.00" textLength="46.19" lengthAdjust="spacingAndGlyphs">1600</text>
</svg>
</body></html>
